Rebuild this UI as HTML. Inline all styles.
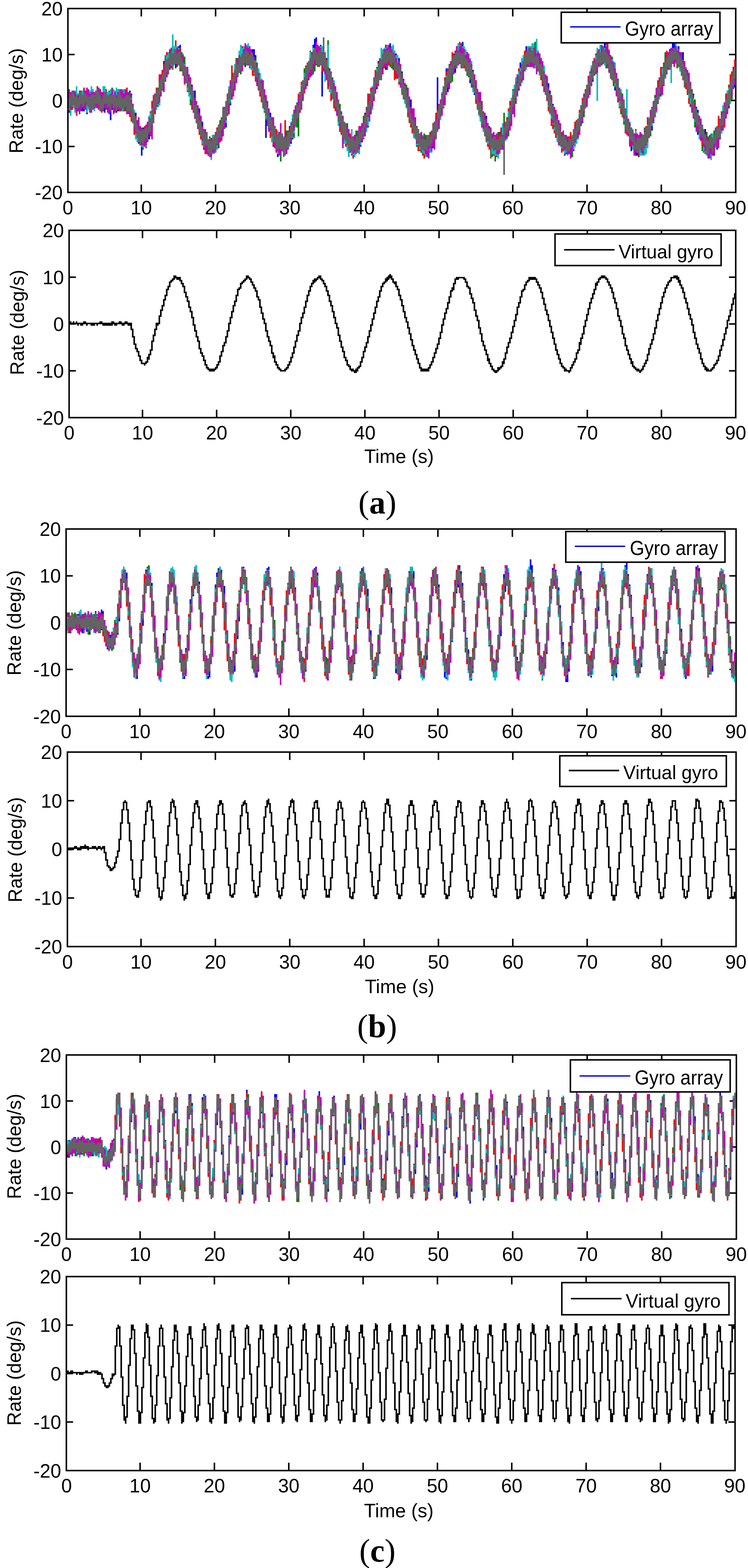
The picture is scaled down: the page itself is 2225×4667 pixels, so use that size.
<!DOCTYPE html><html><head><meta charset="utf-8"><title>Gyro array vs virtual gyro</title>
<style>html,body{margin:0;padding:0;background:#fff;overflow:hidden;}svg{display:block;}text{font-family:"Liberation Sans", Arial, Helvetica, sans-serif;font-size:57px;fill:#000;}.cap{font-family:"Liberation Serif", "Times New Roman", serif;font-size:97px;}.cap tspan{font-weight:bold;}</style></head><body>
<svg width="2225" height="4667" viewBox="0 0 2225 4667">
<rect width="2225" height="4667" fill="#fff"/>
<clipPath id="clipA1"><rect x="204.2" y="25.4" width="1988.3" height="547.3"/></clipPath>
<path d="M420.3 572.7V549.2M420.3 25.4V48.9M641.3 572.7V549.2M641.3 25.4V48.9M862.3 572.7V549.2M862.3 25.4V48.9M1083.3 572.7V549.2M1083.3 25.4V48.9M1304.2 572.7V549.2M1304.2 25.4V48.9M1525.2 572.7V549.2M1525.2 25.4V48.9M1746.2 572.7V549.2M1746.2 25.4V48.9M1967.2 572.7V549.2M1967.2 25.4V48.9M202.0 435.9H222.0M2188.5 435.9H2168.5M202.0 299.1H222.0M2188.5 299.1H2168.5M202.0 162.2H222.0M2188.5 162.2H2168.5" stroke="#000" stroke-width="4.5" fill="none"/>
<rect x="202.0" y="25.4" width="1986.5" height="547.3" fill="none" stroke="#000" stroke-width="4.5"/>
<g clip-path="url(#clipA1)" fill="none" stroke-linejoin="miter" stroke-linecap="square">
<path d="M201.5 322.4V282.8M205.9 335.6V274.0M210.3 322.4V282.8M214.7 326.8V282.8M219.1 318.0V278.4M223.5 331.2V278.4M227.9 331.2V287.2M232.3 331.2V287.2M236.7 335.6V278.4M241.1 318.0V274.0M245.5 331.2V274.0M249.9 331.2V291.6M254.3 326.8V291.6M258.7 340.0V282.8M263.1 318.0V282.8M267.5 322.4V274.0M271.9 326.8V274.0M276.3 318.0V278.4M280.7 326.8V278.4M285.1 318.0V274.0M289.5 318.0V287.2M293.9 313.6V274.0M298.3 309.2V265.2M302.7 331.2V278.4M307.1 322.4V278.4M311.5 335.6V282.8M315.9 322.4V274.0M320.3 313.6V278.4M324.7 322.4V274.0M329.1 357.6V304.8M333.5 326.8V269.6M337.9 322.4V278.4M342.3 331.2V296.0M346.7 335.6V274.0M351.1 331.2V282.8M355.5 331.2V282.8M359.9 326.8V278.4M364.3 331.2V287.2M368.7 322.4V287.2M373.1 331.2V296.0M377.5 322.4V291.6M381.9 326.8V278.4M386.3 304.8V269.6M390.7 335.6V278.4M395.1 353.2V309.2M399.5 379.6V331.2M403.9 392.8V335.6M408.3 401.6V366.4M412.7 428.0V375.2M417.1 432.4V384.0M421.5 463.2V401.6M425.9 432.4V379.6M430.3 436.8V392.8M434.7 423.6V392.8M439.1 419.2V370.8M443.5 414.8V357.6M447.9 388.4V348.8M452.3 384.0V322.4M456.7 348.8V304.8M461.1 340.0V291.6M465.5 318.0V274.0M469.9 313.6V269.6M474.3 313.6V243.2M478.7 265.2V230.0M483.1 269.6V212.4M487.5 247.6V181.6M491.9 243.2V194.8M496.3 221.2V168.4M500.7 212.4V159.6M505.1 208.0V159.6M509.5 203.6V146.4M513.9 190.4V142.0M518.3 190.4V146.4M522.7 203.6V150.8M527.1 194.8V146.4M531.5 177.2V137.6M535.9 194.8V133.2M540.3 199.2V155.2M544.7 208.0V168.4M549.1 230.0V186.0M553.5 243.2V199.2M557.9 247.6V208.0M562.3 274.0V234.4M566.7 300.4V243.2M571.1 304.8V252.0M575.5 331.2V287.2M579.9 335.6V269.6M584.3 366.4V313.6M588.7 379.6V335.6M593.1 384.0V322.4M597.5 406.0V362.0M601.9 419.2V362.0M606.3 445.6V388.4M610.7 436.8V392.8M615.1 436.8V406.0M619.5 463.2V414.8M623.9 458.8V414.8M628.3 445.6V410.4M632.7 441.2V401.6M637.1 445.6V406.0M641.5 445.6V397.2M645.9 436.8V379.6M650.3 441.2V388.4M654.7 414.8V375.2M659.1 414.8V353.2M663.5 384.0V335.6M667.9 375.2V326.8M672.3 379.6V309.2M676.7 344.4V287.2M681.1 326.8V269.6M685.5 313.6V260.8M689.9 282.8V230.0M694.3 274.0V230.0M698.7 247.6V208.0M703.1 230.0V172.8M707.5 216.8V181.6M711.9 216.8V168.4M716.3 203.6V168.4M720.7 208.0V159.6M725.1 190.4V150.8M729.5 199.2V146.4M733.9 181.6V137.6M738.3 181.6V146.4M742.7 194.8V159.6M747.1 186.0V150.8M751.5 194.8V146.4M755.9 194.8V146.4M760.3 221.2V164.0M764.7 234.4V190.4M769.1 265.2V208.0M773.5 278.4V225.6M777.9 282.8V234.4M782.3 304.8V260.8M786.7 318.0V278.4M791.1 410.4V296.0M795.5 357.6V313.6M799.9 375.2V331.2M804.3 388.4V335.6M808.7 401.6V366.4M813.1 436.8V362.0M817.5 432.4V388.4M821.9 432.4V392.8M826.3 467.6V401.6M830.7 458.8V419.2M835.1 454.4V410.4M839.5 445.6V406.0M843.9 441.2V406.0M848.3 450.0V406.0M852.7 454.4V392.8M857.1 428.0V388.4M861.5 423.6V375.2M865.9 428.0V384.0M870.3 414.8V362.0M874.7 397.2V335.6M879.1 375.2V326.8M883.5 370.8V318.0M887.9 340.0V300.4M892.3 318.0V278.4M896.7 304.8V252.0M901.1 287.2V243.2M905.5 274.0V212.4M909.9 247.6V208.0M914.3 247.6V199.2M918.7 221.2V181.6M923.1 212.4V164.0M927.5 199.2V155.2M931.9 194.8V133.2M936.3 194.8V115.6M940.7 164.0V111.2M945.1 186.0V137.6M949.5 186.0V146.4M953.9 181.6V133.2M958.3 287.2V137.6M962.7 199.2V155.2M967.1 225.6V168.4M971.5 208.0V172.8M975.9 234.4V199.2M980.3 252.0V203.6M984.7 274.0V216.8M989.1 291.6V252.0M993.5 296.0V269.6M997.9 326.8V282.8M1002.3 335.6V296.0M1006.7 344.4V296.0M1011.1 357.6V326.8M1015.5 379.6V335.6M1019.9 419.2V362.0M1024.3 414.8V379.6M1028.7 428.0V379.6M1033.1 436.8V392.8M1037.5 463.2V414.8M1041.9 454.4V414.8M1046.3 450.0V406.0M1050.7 467.6V410.4M1055.1 463.2V414.8M1059.5 445.6V406.0M1063.9 454.4V406.0M1068.3 458.8V406.0M1072.7 436.8V384.0M1077.1 423.6V370.8M1081.5 410.4V362.0M1085.9 388.4V335.6M1090.3 384.0V340.0M1094.7 379.6V313.6M1099.1 344.4V291.6M1103.5 318.0V269.6M1107.9 309.2V260.8M1112.3 300.4V252.0M1116.7 274.0V225.6M1121.1 265.2V212.4M1125.5 238.8V181.6M1129.9 234.4V181.6M1134.3 203.6V159.6M1138.7 208.0V164.0M1143.1 199.2V159.6M1147.5 208.0V168.4M1151.9 186.0V150.8M1156.3 177.2V142.0M1160.7 186.0V128.8M1165.1 186.0V146.4M1169.5 181.6V137.6M1173.9 208.0V150.8M1178.3 212.4V159.6M1182.7 230.0V172.8M1187.1 230.0V172.8M1191.5 243.2V194.8M1195.9 274.0V212.4M1200.3 282.8V234.4M1204.7 291.6V247.6M1209.1 309.2V260.8M1213.5 331.2V282.8M1217.9 357.6V304.8M1222.3 366.4V296.0M1226.7 392.8V348.8M1231.1 410.4V357.6M1235.5 410.4V375.2M1239.9 436.8V375.2M1244.3 436.8V397.2M1248.7 441.2V406.0M1253.1 454.4V401.6M1257.5 454.4V406.0M1261.9 450.0V419.2M1266.3 463.2V419.2M1270.7 463.2V419.2M1275.1 450.0V410.4M1279.5 441.2V406.0M1283.9 441.2V401.6M1288.3 441.2V375.2M1292.7 419.2V384.0M1297.1 410.4V348.8M1301.5 392.8V230.0M1305.9 366.4V331.2M1310.3 348.8V296.0M1314.7 340.0V291.6M1319.1 322.4V269.6M1323.5 300.4V252.0M1327.9 278.4V203.6M1332.3 274.0V208.0M1336.7 247.6V203.6M1341.1 234.4V190.4M1345.5 208.0V164.0M1349.9 208.0V159.6M1354.3 216.8V164.0M1358.7 194.8V146.4M1363.1 177.2V137.6M1367.5 168.4V128.8M1371.9 177.2V128.8M1376.3 190.4V124.4M1380.7 190.4V150.8M1385.1 194.8V150.8M1389.5 203.6V155.2M1393.9 212.4V172.8M1398.3 247.6V194.8M1402.7 234.4V190.4M1407.1 265.2V208.0M1411.5 282.8V238.8M1415.9 304.8V256.4M1420.3 304.8V265.2M1424.7 326.8V274.0M1429.1 348.8V304.8M1433.5 366.4V318.0M1437.9 370.8V335.6M1442.3 384.0V344.4M1446.7 392.8V344.4M1451.1 428.0V366.4M1455.5 428.0V375.2M1459.9 441.2V406.0M1464.3 454.4V397.2M1468.7 450.0V410.4M1473.1 450.0V410.4M1477.5 450.0V414.8M1481.9 463.2V410.4M1486.3 450.0V392.8M1490.7 441.2V406.0M1495.1 445.6V392.8M1499.5 432.4V388.4M1503.9 419.2V362.0M1508.3 401.6V362.0M1512.7 388.4V340.0M1517.1 366.4V322.4M1521.5 348.8V304.8M1525.9 331.2V278.4M1530.3 309.2V274.0M1534.7 296.0V238.8M1539.1 274.0V234.4M1543.5 269.6V230.0M1547.9 256.4V186.0M1552.3 234.4V181.6M1556.7 216.8V177.2M1561.1 203.6V155.2M1565.5 194.8V137.6M1569.9 186.0V146.4M1574.3 186.0V137.6M1578.7 199.2V142.0M1583.1 190.4V146.4M1587.5 177.2V137.6M1591.9 172.8V142.0M1596.3 194.8V155.2M1600.7 212.4V168.4M1605.1 216.8V159.6M1609.5 221.2V172.8M1613.9 256.4V190.4M1618.3 256.4V212.4M1622.7 265.2V225.6M1627.1 291.6V234.4M1631.5 309.2V247.6M1635.9 326.8V269.6M1640.3 340.0V304.8M1644.7 357.6V309.2M1649.1 388.4V326.8M1653.5 392.8V344.4M1657.9 401.6V362.0M1662.3 428.0V379.6M1666.7 432.4V388.4M1671.1 436.8V401.6M1675.5 436.8V397.2M1679.9 463.2V401.6M1684.3 458.8V410.4M1688.7 458.8V406.0M1693.1 454.4V428.0M1697.5 463.2V423.6M1701.9 467.6V410.4M1706.3 450.0V397.2M1710.7 432.4V384.0M1715.1 414.8V362.0M1719.5 410.4V362.0M1723.9 388.4V344.4M1728.3 370.8V318.0M1732.7 366.4V313.6M1737.1 331.2V282.8M1741.5 322.4V274.0M1745.9 296.0V260.8M1750.3 282.8V238.8M1754.7 274.0V221.2M1759.1 256.4V203.6M1763.5 243.2V190.4M1767.9 216.8V172.8M1772.3 208.0V172.8M1776.7 203.6V159.6M1781.1 194.8V155.2M1785.5 194.8V155.2M1789.9 186.0V133.2M1794.3 186.0V137.6M1798.7 186.0V128.8M1803.1 190.4V142.0M1807.5 186.0V150.8M1811.9 203.6V164.0M1816.3 208.0V172.8M1820.7 230.0V190.4M1825.1 234.4V190.4M1829.5 269.6V203.6M1833.9 282.8V238.8M1838.3 278.4V234.4M1842.7 313.6V265.2M1847.1 318.0V274.0M1851.5 340.0V300.4M1855.9 362.0V326.8M1860.3 379.6V331.2M1864.7 392.8V353.2M1869.1 406.0V362.0M1873.5 414.8V366.4M1877.9 450.0V384.0M1882.3 445.6V388.4M1886.7 445.6V410.4M1891.1 463.2V406.0M1895.5 463.2V410.4M1899.9 467.6V419.2M1904.3 458.8V419.2M1908.7 463.2V410.4M1913.1 458.8V419.2M1917.5 458.8V401.6M1921.9 432.4V397.2M1926.3 419.2V375.2M1930.7 406.0V353.2M1935.1 384.0V344.4M1939.5 388.4V344.4M1943.9 366.4V322.4M1948.3 344.4V287.2M1952.7 326.8V274.0M1957.1 309.2V260.8M1961.5 296.0V243.2M1965.9 274.0V234.4M1970.3 265.2V216.8M1974.7 252.0V186.0M1979.1 234.4V159.6M1983.5 212.4V164.0M1987.9 199.2V159.6M1992.3 190.4V146.4M1996.7 181.6V142.0M2001.1 172.8V128.8M2005.5 181.6V128.8M2009.9 177.2V120.0M2014.3 177.2V142.0M2018.7 186.0V137.6M2023.1 208.0V155.2M2027.5 208.0V168.4M2031.9 225.6V155.2M2036.3 252.0V190.4M2040.7 252.0V208.0M2045.1 265.2V221.2M2049.5 282.8V243.2M2053.9 318.0V256.4M2058.3 309.2V274.0M2062.7 335.6V278.4M2067.1 348.8V300.4M2071.5 375.2V318.0M2075.9 401.6V326.8M2080.3 397.2V357.6M2084.7 406.0V353.2M2089.1 436.8V384.0M2093.5 423.6V384.0M2097.9 445.6V384.0M2102.3 450.0V406.0M2106.7 454.4V410.4M2111.1 454.4V410.4M2115.5 458.8V410.4M2119.9 463.2V423.6M2124.3 463.2V410.4M2128.7 441.2V406.0M2133.1 445.6V379.6M2137.5 410.4V379.6M2141.9 414.8V370.8M2146.3 397.2V344.4M2150.7 388.4V335.6M2155.1 370.8V318.0M2159.5 348.8V300.4M2163.9 326.8V278.4M2168.3 322.4V256.4M2172.7 291.6V238.8M2177.1 269.6V225.6M2181.5 265.2V199.2M2185.9 260.8V194.8" stroke="#0000ff" stroke-width="4.70" stroke-linecap="butt"/>
<path d="M201.5 322.4V260.8M205.9 309.2V265.2M210.3 326.8V274.0M214.7 326.8V282.8M219.1 313.6V278.4M223.5 331.2V282.8M227.9 331.2V282.8M232.3 318.0V278.4M236.7 340.0V282.8M241.1 322.4V274.0M245.5 313.6V282.8M249.9 313.6V265.2M254.3 322.4V291.6M258.7 326.8V278.4M263.1 322.4V278.4M267.5 309.2V278.4M271.9 326.8V278.4M276.3 313.6V278.4M280.7 309.2V282.8M285.1 318.0V278.4M289.5 318.0V269.6M293.9 322.4V287.2M298.3 318.0V278.4M302.7 322.4V282.8M307.1 326.8V278.4M311.5 322.4V265.2M315.9 326.8V274.0M320.3 322.4V274.0M324.7 326.8V269.6M329.1 322.4V274.0M333.5 322.4V260.8M337.9 309.2V274.0M342.3 313.6V278.4M346.7 318.0V269.6M351.1 322.4V274.0M355.5 318.0V278.4M359.9 313.6V278.4M364.3 331.2V287.2M368.7 331.2V291.6M373.1 331.2V265.2M377.5 326.8V274.0M381.9 313.6V274.0M386.3 318.0V278.4M390.7 344.4V282.8M395.1 366.4V309.2M399.5 384.0V340.0M403.9 388.4V344.4M408.3 401.6V357.6M412.7 414.8V366.4M417.1 423.6V375.2M421.5 428.0V379.6M425.9 445.6V384.0M430.3 423.6V375.2M434.7 441.2V379.6M439.1 423.6V366.4M443.5 392.8V357.6M447.9 388.4V331.2M452.3 375.2V322.4M456.7 353.2V296.0M461.1 318.0V278.4M465.5 318.0V274.0M469.9 318.0V260.8M474.3 287.2V230.0M478.7 287.2V243.2M483.1 265.2V208.0M487.5 252.0V212.4M491.9 243.2V194.8M496.3 230.0V181.6M500.7 208.0V164.0M505.1 208.0V164.0M509.5 203.6V159.6M513.9 199.2V159.6M518.3 177.2V142.0M522.7 190.4V146.4M527.1 199.2V146.4M531.5 190.4V142.0M535.9 212.4V146.4M540.3 212.4V155.2M544.7 221.2V168.4M549.1 230.0V168.4M553.5 243.2V199.2M557.9 256.4V212.4M562.3 278.4V230.0M566.7 313.6V247.6M571.1 313.6V269.6M575.5 331.2V282.8M579.9 344.4V296.0M584.3 366.4V318.0M588.7 370.8V322.4M593.1 392.8V357.6M597.5 410.4V344.4M601.9 428.0V379.6M606.3 428.0V406.0M610.7 436.8V392.8M615.1 445.6V392.8M619.5 463.2V423.6M623.9 445.6V406.0M628.3 450.0V410.4M632.7 454.4V410.4M637.1 445.6V406.0M641.5 454.4V392.8M645.9 441.2V392.8M650.3 436.8V384.0M654.7 406.0V357.6M659.1 397.2V348.8M663.5 397.2V340.0M667.9 384.0V326.8M672.3 357.6V313.6M676.7 331.2V282.8M681.1 313.6V274.0M685.5 309.2V260.8M689.9 296.0V234.4M694.3 269.6V216.8M698.7 247.6V208.0M703.1 230.0V172.8M707.5 212.4V172.8M711.9 208.0V164.0M716.3 221.2V172.8M720.7 199.2V146.4M725.1 194.8V164.0M729.5 194.8V146.4M733.9 194.8V155.2M738.3 186.0V137.6M742.7 181.6V142.0M747.1 199.2V155.2M751.5 203.6V168.4M755.9 221.2V177.2M760.3 234.4V177.2M764.7 238.8V186.0M769.1 256.4V216.8M773.5 274.0V225.6M777.9 291.6V234.4M782.3 304.8V256.4M786.7 335.6V274.0M791.1 357.6V309.2M795.5 353.2V300.4M799.9 384.0V340.0M804.3 392.8V353.2M808.7 419.2V357.6M813.1 419.2V366.4M817.5 428.0V375.2M821.9 436.8V392.8M826.3 454.4V410.4M830.7 458.8V406.0M835.1 480.8V397.2M839.5 450.0V401.6M843.9 454.4V410.4M848.3 450.0V388.4M852.7 436.8V388.4M857.1 432.4V388.4M861.5 419.2V379.6M865.9 419.2V379.6M870.3 397.2V353.2M874.7 410.4V340.0M879.1 375.2V318.0M883.5 379.6V304.8M887.9 406.0V296.0M892.3 335.6V274.0M896.7 322.4V260.8M901.1 300.4V238.8M905.5 274.0V203.6M909.9 243.2V199.2M914.3 256.4V194.8M918.7 238.8V194.8M923.1 216.8V164.0M927.5 225.6V164.0M931.9 208.0V164.0M936.3 212.4V155.2M940.7 194.8V128.8M945.1 199.2V146.4M949.5 177.2V142.0M953.9 177.2V137.6M958.3 190.4V150.8M962.7 212.4V168.4M967.1 216.8V172.8M971.5 234.4V186.0M975.9 238.8V120.0M980.3 256.4V208.0M984.7 278.4V234.4M989.1 287.2V230.0M993.5 291.6V252.0M997.9 318.0V269.6M1002.3 335.6V282.8M1006.7 344.4V304.8M1011.1 370.8V309.2M1015.5 375.2V331.2M1019.9 397.2V348.8M1024.3 414.8V370.8M1028.7 414.8V370.8M1033.1 423.6V366.4M1037.5 450.0V397.2M1041.9 445.6V410.4M1046.3 454.4V414.8M1050.7 445.6V410.4M1055.1 450.0V401.6M1059.5 445.6V388.4M1063.9 445.6V397.2M1068.3 428.0V388.4M1072.7 414.8V379.6M1077.1 419.2V370.8M1081.5 392.8V344.4M1085.9 397.2V348.8M1090.3 379.6V318.0M1094.7 353.2V300.4M1099.1 344.4V296.0M1103.5 340.0V287.2M1107.9 318.0V269.6M1112.3 296.0V247.6M1116.7 265.2V225.6M1121.1 247.6V199.2M1125.5 234.4V199.2M1129.9 230.0V172.8M1134.3 230.0V177.2M1138.7 221.2V168.4M1143.1 203.6V159.6M1147.5 199.2V164.0M1151.9 190.4V142.0M1156.3 190.4V137.6M1160.7 199.2V146.4M1165.1 203.6V159.6M1169.5 208.0V150.8M1173.9 221.2V168.4M1178.3 216.8V172.8M1182.7 234.4V190.4M1187.1 247.6V190.4M1191.5 256.4V212.4M1195.9 269.6V216.8M1200.3 296.0V247.6M1204.7 300.4V252.0M1209.1 309.2V252.0M1213.5 340.0V296.0M1217.9 362.0V304.8M1222.3 379.6V335.6M1226.7 392.8V340.0M1231.1 401.6V353.2M1235.5 414.8V370.8M1239.9 436.8V375.2M1244.3 450.0V384.0M1248.7 450.0V410.4M1253.1 454.4V392.8M1257.5 454.4V410.4M1261.9 450.0V397.2M1266.3 467.6V401.6M1270.7 467.6V406.0M1275.1 450.0V410.4M1279.5 441.2V392.8M1283.9 423.6V397.2M1288.3 423.6V375.2M1292.7 406.0V362.0M1297.1 384.0V348.8M1301.5 384.0V335.6M1305.9 362.0V322.4M1310.3 353.2V300.4M1314.7 331.2V287.2M1319.1 322.4V265.2M1323.5 278.4V234.4M1327.9 269.6V212.4M1332.3 256.4V203.6M1336.7 252.0V190.4M1341.1 247.6V194.8M1345.5 243.2V177.2M1349.9 212.4V168.4M1354.3 186.0V150.8M1358.7 194.8V150.8M1363.1 190.4V150.8M1367.5 177.2V146.4M1371.9 181.6V150.8M1376.3 186.0V137.6M1380.7 181.6V142.0M1385.1 199.2V150.8M1389.5 225.6V168.4M1393.9 230.0V181.6M1398.3 238.8V194.8M1402.7 260.8V208.0M1407.1 260.8V221.2M1411.5 278.4V221.2M1415.9 291.6V252.0M1420.3 322.4V265.2M1424.7 326.8V274.0M1429.1 353.2V304.8M1433.5 357.6V300.4M1437.9 375.2V331.2M1442.3 406.0V348.8M1446.7 414.8V375.2M1451.1 423.6V388.4M1455.5 436.8V392.8M1459.9 450.0V397.2M1464.3 467.6V410.4M1468.7 463.2V401.6M1473.1 480.8V419.2M1477.5 467.6V419.2M1481.9 445.6V392.8M1486.3 441.2V397.2M1490.7 445.6V388.4M1495.1 441.2V401.6M1499.5 432.4V335.6M1503.9 410.4V366.4M1508.3 392.8V348.8M1512.7 406.0V344.4M1517.1 362.0V313.6M1521.5 348.8V291.6M1525.9 326.8V278.4M1530.3 318.0V274.0M1534.7 309.2V238.8M1539.1 274.0V234.4M1543.5 260.8V225.6M1547.9 256.4V208.0M1552.3 234.4V186.0M1556.7 230.0V190.4M1561.1 199.2V159.6M1565.5 194.8V150.8M1569.9 190.4V146.4M1574.3 194.8V142.0M1578.7 172.8V142.0M1583.1 186.0V142.0M1587.5 186.0V150.8M1591.9 190.4V124.4M1596.3 186.0V146.4M1600.7 212.4V164.0M1605.1 216.8V164.0M1609.5 238.8V172.8M1613.9 238.8V190.4M1618.3 256.4V203.6M1622.7 274.0V225.6M1627.1 287.2V238.8M1631.5 322.4V269.6M1635.9 340.0V287.2M1640.3 335.6V296.0M1644.7 379.6V318.0M1649.1 388.4V331.2M1653.5 388.4V335.6M1657.9 414.8V366.4M1662.3 410.4V375.2M1666.7 423.6V375.2M1671.1 441.2V392.8M1675.5 450.0V401.6M1679.9 445.6V406.0M1684.3 450.0V401.6M1688.7 450.0V419.2M1693.1 458.8V406.0M1697.5 463.2V406.0M1701.9 467.6V406.0M1706.3 450.0V392.8M1710.7 432.4V375.2M1715.1 401.6V357.6M1719.5 397.2V362.0M1723.9 384.0V348.8M1728.3 375.2V318.0M1732.7 348.8V313.6M1737.1 348.8V300.4M1741.5 309.2V274.0M1745.9 300.4V252.0M1750.3 291.6V238.8M1754.7 274.0V212.4M1759.1 238.8V203.6M1763.5 234.4V186.0M1767.9 225.6V186.0M1772.3 208.0V159.6M1776.7 194.8V150.8M1781.1 190.4V146.4M1785.5 177.2V142.0M1789.9 194.8V146.4M1794.3 190.4V159.6M1798.7 190.4V150.8M1803.1 203.6V159.6M1807.5 199.2V146.4M1811.9 212.4V155.2M1816.3 221.2V172.8M1820.7 238.8V168.4M1825.1 256.4V212.4M1829.5 260.8V212.4M1833.9 260.8V230.0M1838.3 304.8V234.4M1842.7 313.6V269.6M1847.1 340.0V282.8M1851.5 348.8V278.4M1855.9 370.8V313.6M1860.3 384.0V331.2M1864.7 388.4V344.4M1869.1 406.0V357.6M1873.5 428.0V384.0M1877.9 432.4V388.4M1882.3 441.2V401.6M1886.7 436.8V401.6M1891.1 454.4V406.0M1895.5 454.4V410.4M1899.9 450.0V410.4M1904.3 454.4V401.6M1908.7 450.0V397.2M1913.1 441.2V406.0M1917.5 441.2V379.6M1921.9 423.6V384.0M1926.3 432.4V370.8M1930.7 406.0V370.8M1935.1 406.0V353.2M1939.5 375.2V322.4M1943.9 366.4V309.2M1948.3 335.6V282.8M1952.7 322.4V265.2M1957.1 309.2V269.6M1961.5 291.6V238.8M1965.9 287.2V230.0M1970.3 256.4V208.0M1974.7 234.4V186.0M1979.1 212.4V155.2M1983.5 221.2V172.8M1987.9 199.2V164.0M1992.3 208.0V150.8M1996.7 194.8V150.8M2001.1 181.6V146.4M2005.5 181.6V142.0M2009.9 177.2V150.8M2014.3 203.6V155.2M2018.7 199.2V155.2M2023.1 212.4V168.4M2027.5 216.8V155.2M2031.9 225.6V177.2M2036.3 243.2V194.8M2040.7 265.2V203.6M2045.1 282.8V230.0M2049.5 304.8V252.0M2053.9 304.8V260.8M2058.3 304.8V265.2M2062.7 344.4V282.8M2067.1 379.6V296.0M2071.5 384.0V326.8M2075.9 392.8V335.6M2080.3 401.6V348.8M2084.7 414.8V379.6M2089.1 450.0V384.0M2093.5 441.2V397.2M2097.9 450.0V401.6M2102.3 454.4V392.8M2106.7 458.8V406.0M2111.1 445.6V401.6M2115.5 454.4V414.8M2119.9 458.8V419.2M2124.3 445.6V388.4M2128.7 436.8V401.6M2133.1 441.2V384.0M2137.5 428.0V375.2M2141.9 414.8V357.6M2146.3 388.4V331.2M2150.7 370.8V318.0M2155.1 348.8V304.8M2159.5 340.0V300.4M2163.9 331.2V269.6M2168.3 309.2V260.8M2172.7 287.2V243.2M2177.1 296.0V212.4M2181.5 260.8V208.0M2185.9 243.2V199.2" stroke="#008000" stroke-width="4.70" stroke-linecap="butt"/>
<path d="M201.5 326.8V282.8M205.9 331.2V278.4M210.3 318.0V274.0M214.7 326.8V287.2M219.1 309.2V274.0M223.5 322.4V282.8M227.9 344.4V274.0M232.3 331.2V300.4M236.7 331.2V269.6M241.1 318.0V269.6M245.5 318.0V274.0M249.9 326.8V260.8M254.3 313.6V278.4M258.7 318.0V282.8M263.1 304.8V278.4M267.5 318.0V278.4M271.9 322.4V269.6M276.3 313.6V265.2M280.7 318.0V274.0M285.1 313.6V282.8M289.5 304.8V256.4M293.9 326.8V274.0M298.3 331.2V278.4M302.7 335.6V274.0M307.1 313.6V278.4M311.5 318.0V269.6M315.9 322.4V278.4M320.3 318.0V287.2M324.7 313.6V274.0M329.1 318.0V274.0M333.5 309.2V265.2M337.9 322.4V278.4M342.3 309.2V274.0M346.7 318.0V269.6M351.1 318.0V278.4M355.5 331.2V287.2M359.9 331.2V269.6M364.3 326.8V274.0M368.7 331.2V287.2M373.1 318.0V269.6M377.5 309.2V260.8M381.9 326.8V282.8M386.3 348.8V291.6M390.7 362.0V313.6M395.1 362.0V309.2M399.5 401.6V348.8M403.9 401.6V344.4M408.3 401.6V366.4M412.7 419.2V370.8M417.1 432.4V406.0M421.5 423.6V388.4M425.9 428.0V392.8M430.3 419.2V375.2M434.7 423.6V379.6M439.1 410.4V366.4M443.5 392.8V353.2M447.9 379.6V331.2M452.3 357.6V300.4M456.7 357.6V282.8M461.1 340.0V278.4M465.5 326.8V260.8M469.9 309.2V265.2M474.3 287.2V221.2M478.7 278.4V221.2M483.1 260.8V208.0M487.5 230.0V190.4M491.9 238.8V172.8M496.3 203.6V155.2M500.7 203.6V155.2M505.1 208.0V146.4M509.5 194.8V146.4M513.9 186.0V137.6M518.3 181.6V142.0M522.7 181.6V120.0M527.1 194.8V146.4M531.5 186.0V150.8M535.9 208.0V142.0M540.3 208.0V159.6M544.7 225.6V186.0M549.1 252.0V194.8M553.5 247.6V212.4M557.9 274.0V221.2M562.3 287.2V243.2M566.7 296.0V247.6M571.1 326.8V274.0M575.5 335.6V296.0M579.9 353.2V313.6M584.3 366.4V322.4M588.7 384.0V335.6M593.1 401.6V348.8M597.5 414.8V353.2M601.9 432.4V375.2M606.3 441.2V388.4M610.7 458.8V410.4M615.1 458.8V410.4M619.5 463.2V414.8M623.9 458.8V406.0M628.3 472.0V414.8M632.7 458.8V410.4M637.1 454.4V414.8M641.5 454.4V392.8M645.9 423.6V379.6M650.3 423.6V379.6M654.7 423.6V366.4M659.1 397.2V357.6M663.5 384.0V335.6M667.9 375.2V322.4M672.3 344.4V309.2M676.7 344.4V278.4M681.1 313.6V278.4M685.5 296.0V238.8M689.9 260.8V194.8M694.3 252.0V230.0M698.7 256.4V190.4M703.1 243.2V181.6M707.5 216.8V172.8M711.9 212.4V168.4M716.3 203.6V146.4M720.7 186.0V137.6M725.1 186.0V150.8M729.5 186.0V137.6M733.9 181.6V137.6M738.3 186.0V142.0M742.7 194.8V146.4M747.1 194.8V146.4M751.5 225.6V172.8M755.9 225.6V181.6M760.3 243.2V199.2M764.7 243.2V194.8M769.1 269.6V221.2M773.5 287.2V234.4M777.9 304.8V247.6M782.3 313.6V260.8M786.7 322.4V282.8M791.1 353.2V300.4M795.5 375.2V322.4M799.9 388.4V344.4M804.3 410.4V348.8M808.7 410.4V384.0M813.1 432.4V384.0M817.5 441.2V397.2M821.9 454.4V384.0M826.3 432.4V392.8M830.7 454.4V392.8M835.1 445.6V410.4M839.5 445.6V397.2M843.9 445.6V414.8M848.3 445.6V357.6M852.7 432.4V401.6M857.1 432.4V392.8M861.5 428.0V379.6M865.9 419.2V379.6M870.3 401.6V348.8M874.7 375.2V340.0M879.1 366.4V318.0M883.5 348.8V313.6M887.9 335.6V278.4M892.3 309.2V274.0M896.7 304.8V243.2M901.1 291.6V252.0M905.5 278.4V216.8M909.9 238.8V194.8M914.3 238.8V199.2M918.7 234.4V190.4M923.1 230.0V150.8M927.5 194.8V155.2M931.9 203.6V159.6M936.3 194.8V155.2M940.7 190.4V146.4M945.1 181.6V150.8M949.5 199.2V142.0M953.9 186.0V137.6M958.3 212.4V150.8M962.7 203.6V150.8M967.1 221.2V181.6M971.5 238.8V177.2M975.9 265.2V212.4M980.3 274.0V225.6M984.7 300.4V234.4M989.1 291.6V243.2M993.5 322.4V269.6M997.9 331.2V291.6M1002.3 344.4V304.8M1006.7 353.2V304.8M1011.1 392.8V331.2M1015.5 401.6V353.2M1019.9 410.4V375.2M1024.3 419.2V379.6M1028.7 436.8V397.2M1033.1 441.2V392.8M1037.5 436.8V401.6M1041.9 450.0V397.2M1046.3 463.2V419.2M1050.7 472.0V419.2M1055.1 454.4V401.6M1059.5 454.4V406.0M1063.9 454.4V401.6M1068.3 428.0V375.2M1072.7 423.6V379.6M1077.1 414.8V366.4M1081.5 414.8V370.8M1085.9 388.4V340.0M1090.3 366.4V326.8M1094.7 353.2V278.4M1099.1 326.8V291.6M1103.5 318.0V260.8M1107.9 300.4V256.4M1112.3 300.4V243.2M1116.7 278.4V208.0M1121.1 247.6V203.6M1125.5 238.8V186.0M1129.9 230.0V181.6M1134.3 225.6V172.8M1138.7 199.2V159.6M1143.1 199.2V155.2M1147.5 181.6V133.2M1151.9 181.6V133.2M1156.3 194.8V142.0M1160.7 181.6V142.0M1165.1 186.0V155.2M1169.5 194.8V150.8M1173.9 238.8V168.4M1178.3 234.4V168.4M1182.7 234.4V194.8M1187.1 252.0V208.0M1191.5 256.4V208.0M1195.9 265.2V225.6M1200.3 291.6V238.8M1204.7 304.8V260.8M1209.1 318.0V265.2M1213.5 348.8V287.2M1217.9 366.4V304.8M1222.3 379.6V322.4M1226.7 397.2V353.2M1231.1 406.0V366.4M1235.5 414.8V370.8M1239.9 428.0V388.4M1244.3 450.0V392.8M1248.7 445.6V397.2M1253.1 450.0V410.4M1257.5 463.2V414.8M1261.9 472.0V428.0M1266.3 458.8V419.2M1270.7 450.0V406.0M1275.1 450.0V410.4M1279.5 428.0V397.2M1283.9 436.8V397.2M1288.3 428.0V366.4M1292.7 419.2V362.0M1297.1 392.8V335.6M1301.5 366.4V326.8M1305.9 357.6V309.2M1310.3 335.6V300.4M1314.7 340.0V282.8M1319.1 322.4V265.2M1323.5 300.4V230.0M1327.9 269.6V212.4M1332.3 247.6V203.6M1336.7 243.2V194.8M1341.1 230.0V186.0M1345.5 212.4V155.2M1349.9 203.6V168.4M1354.3 186.0V150.8M1358.7 177.2V137.6M1363.1 181.6V133.2M1367.5 168.4V124.4M1371.9 186.0V128.8M1376.3 190.4V142.0M1380.7 203.6V146.4M1385.1 203.6V155.2M1389.5 221.2V164.0M1393.9 225.6V181.6M1398.3 230.0V190.4M1402.7 247.6V194.8M1407.1 260.8V221.2M1411.5 278.4V243.2M1415.9 309.2V238.8M1420.3 309.2V265.2M1424.7 344.4V300.4M1429.1 353.2V304.8M1433.5 379.6V309.2M1437.9 384.0V335.6M1442.3 406.0V357.6M1446.7 414.8V362.0M1451.1 436.8V401.6M1455.5 445.6V397.2M1459.9 450.0V410.4M1464.3 445.6V406.0M1468.7 463.2V406.0M1473.1 467.6V414.8M1477.5 450.0V406.0M1481.9 450.0V406.0M1486.3 445.6V401.6M1490.7 445.6V379.6M1495.1 432.4V388.4M1499.5 419.2V366.4M1503.9 414.8V366.4M1508.3 401.6V348.8M1512.7 366.4V322.4M1517.1 357.6V300.4M1521.5 344.4V296.0M1525.9 322.4V265.2M1530.3 300.4V252.0M1534.7 282.8V234.4M1539.1 265.2V221.2M1543.5 252.0V203.6M1547.9 238.8V199.2M1552.3 238.8V190.4M1556.7 230.0V181.6M1561.1 190.4V150.8M1565.5 199.2V150.8M1569.9 194.8V155.2M1574.3 199.2V146.4M1578.7 199.2V137.6M1583.1 194.8V137.6M1587.5 186.0V146.4M1591.9 194.8V142.0M1596.3 194.8V159.6M1600.7 208.0V150.8M1605.1 221.2V181.6M1609.5 234.4V186.0M1613.9 252.0V194.8M1618.3 260.8V212.4M1622.7 278.4V225.6M1627.1 300.4V256.4M1631.5 331.2V269.6M1635.9 335.6V291.6M1640.3 375.2V282.8M1644.7 384.0V331.2M1649.1 397.2V340.0M1653.5 410.4V344.4M1657.9 419.2V366.4M1662.3 428.0V370.8M1666.7 419.2V379.6M1671.1 454.4V397.2M1675.5 450.0V406.0M1679.9 450.0V414.8M1684.3 454.4V414.8M1688.7 458.8V406.0M1693.1 445.6V406.0M1697.5 445.6V392.8M1701.9 436.8V401.6M1706.3 436.8V384.0M1710.7 423.6V362.0M1715.1 410.4V357.6M1719.5 397.2V353.2M1723.9 375.2V326.8M1728.3 353.2V313.6M1732.7 353.2V291.6M1737.1 335.6V287.2M1741.5 322.4V265.2M1745.9 309.2V256.4M1750.3 291.6V225.6M1754.7 260.8V216.8M1759.1 252.0V208.0M1763.5 234.4V186.0M1767.9 221.2V172.8M1772.3 199.2V164.0M1776.7 208.0V159.6M1781.1 190.4V150.8M1785.5 190.4V137.6M1789.9 186.0V137.6M1794.3 177.2V146.4M1798.7 181.6V146.4M1803.1 181.6V128.8M1807.5 194.8V120.0M1811.9 203.6V177.2M1816.3 212.4V164.0M1820.7 225.6V177.2M1825.1 247.6V203.6M1829.5 252.0V221.2M1833.9 269.6V234.4M1838.3 304.8V247.6M1842.7 322.4V265.2M1847.1 331.2V282.8M1851.5 348.8V304.8M1855.9 353.2V309.2M1860.3 397.2V331.2M1864.7 401.6V370.8M1869.1 406.0V370.8M1873.5 436.8V388.4M1877.9 436.8V388.4M1882.3 445.6V397.2M1886.7 454.4V397.2M1891.1 441.2V384.0M1895.5 454.4V406.0M1899.9 463.2V406.0M1904.3 450.0V410.4M1908.7 445.6V406.0M1913.1 445.6V401.6M1917.5 428.0V388.4M1921.9 436.8V375.2M1926.3 406.0V348.8M1930.7 401.6V362.0M1935.1 392.8V344.4M1939.5 370.8V318.0M1943.9 348.8V304.8M1948.3 344.4V287.2M1952.7 300.4V265.2M1957.1 296.0V238.8M1961.5 282.8V234.4M1965.9 247.6V199.2M1970.3 247.6V199.2M1974.7 238.8V199.2M1979.1 230.0V177.2M1983.5 203.6V150.8M1987.9 194.8V164.0M1992.3 194.8V155.2M1996.7 186.0V150.8M2001.1 181.6V146.4M2005.5 177.2V146.4M2009.9 172.8V133.2M2014.3 194.8V146.4M2018.7 181.6V155.2M2023.1 212.4V168.4M2027.5 225.6V186.0M2031.9 238.8V194.8M2036.3 247.6V203.6M2040.7 265.2V225.6M2045.1 282.8V238.8M2049.5 309.2V243.2M2053.9 313.6V260.8M2058.3 331.2V274.0M2062.7 344.4V296.0M2067.1 362.0V309.2M2071.5 384.0V335.6M2075.9 388.4V348.8M2080.3 401.6V348.8M2084.7 419.2V388.4M2089.1 432.4V379.6M2093.5 454.4V397.2M2097.9 458.8V406.0M2102.3 458.8V419.2M2106.7 458.8V414.8M2111.1 450.0V414.8M2115.5 467.6V419.2M2119.9 454.4V423.6M2124.3 458.8V401.6M2128.7 436.8V384.0M2133.1 423.6V388.4M2137.5 423.6V344.4M2141.9 397.2V357.6M2146.3 384.0V348.8M2150.7 375.2V326.8M2155.1 379.6V309.2M2159.5 348.8V278.4M2163.9 304.8V274.0M2168.3 304.8V252.0M2172.7 269.6V221.2M2177.1 247.6V216.8M2181.5 247.6V203.6M2185.9 221.2V177.2" stroke="#ff0000" stroke-width="4.70" stroke-linecap="butt"/>
<path d="M201.5 331.2V287.2M205.9 326.8V282.8M210.3 344.4V282.8M214.7 318.0V278.4M219.1 322.4V278.4M223.5 335.6V269.6M227.9 318.0V256.4M232.3 313.6V278.4M236.7 318.0V269.6M241.1 313.6V278.4M245.5 318.0V269.6M249.9 322.4V278.4M254.3 313.6V282.8M258.7 335.6V287.2M263.1 326.8V287.2M267.5 322.4V269.6M271.9 300.4V256.4M276.3 318.0V265.2M280.7 331.2V282.8M285.1 322.4V282.8M289.5 318.0V274.0M293.9 322.4V269.6M298.3 318.0V274.0M302.7 322.4V278.4M307.1 309.2V256.4M311.5 309.2V256.4M315.9 322.4V274.0M320.3 318.0V274.0M324.7 322.4V274.0M329.1 331.2V265.2M333.5 318.0V274.0M337.9 309.2V265.2M342.3 326.8V269.6M346.7 309.2V260.8M351.1 322.4V265.2M355.5 313.6V274.0M359.9 326.8V274.0M364.3 331.2V265.2M368.7 296.0V265.2M373.1 309.2V265.2M377.5 318.0V274.0M381.9 318.0V282.8M386.3 318.0V274.0M390.7 331.2V291.6M395.1 357.6V309.2M399.5 375.2V326.8M403.9 414.8V353.2M408.3 423.6V379.6M412.7 419.2V384.0M417.1 432.4V384.0M421.5 436.8V410.4M425.9 441.2V384.0M430.3 436.8V392.8M434.7 436.8V375.2M439.1 401.6V366.4M443.5 392.8V344.4M447.9 384.0V335.6M452.3 375.2V322.4M456.7 340.0V300.4M461.1 318.0V278.4M465.5 326.8V282.8M469.9 313.6V282.8M474.3 313.6V265.2M478.7 282.8V238.8M483.1 265.2V225.6M487.5 256.4V199.2M491.9 230.0V190.4M496.3 212.4V164.0M500.7 194.8V155.2M505.1 194.8V159.6M509.5 194.8V155.2M513.9 194.8V102.4M518.3 194.8V137.6M522.7 177.2V137.6M527.1 177.2V137.6M531.5 194.8V142.0M535.9 194.8V155.2M540.3 203.6V164.0M544.7 216.8V159.6M549.1 234.4V190.4M553.5 238.8V199.2M557.9 269.6V221.2M562.3 287.2V230.0M566.7 296.0V238.8M571.1 318.0V256.4M575.5 331.2V278.4M579.9 326.8V291.6M584.3 362.0V318.0M588.7 375.2V331.2M593.1 388.4V353.2M597.5 406.0V362.0M601.9 428.0V379.6M606.3 432.4V384.0M610.7 441.2V392.8M615.1 445.6V410.4M619.5 463.2V419.2M623.9 458.8V410.4M628.3 476.4V428.0M632.7 458.8V401.6M637.1 458.8V410.4M641.5 454.4V406.0M645.9 445.6V397.2M650.3 423.6V375.2M654.7 414.8V384.0M659.1 419.2V353.2M663.5 397.2V344.4M667.9 379.6V335.6M672.3 366.4V304.8M676.7 335.6V287.2M681.1 318.0V256.4M685.5 304.8V260.8M689.9 287.2V238.8M694.3 269.6V225.6M698.7 256.4V190.4M703.1 243.2V199.2M707.5 225.6V177.2M711.9 203.6V150.8M716.3 181.6V133.2M720.7 172.8V142.0M725.1 186.0V137.6M729.5 186.0V150.8M733.9 177.2V133.2M738.3 181.6V128.8M742.7 190.4V137.6M747.1 208.0V159.6M751.5 208.0V159.6M755.9 221.2V181.6M760.3 230.0V181.6M764.7 252.0V199.2M769.1 256.4V203.6M773.5 278.4V216.8M777.9 278.4V234.4M782.3 309.2V238.8M786.7 331.2V278.4M791.1 353.2V291.6M795.5 370.8V331.2M799.9 375.2V344.4M804.3 392.8V348.8M808.7 423.6V362.0M813.1 423.6V379.6M817.5 428.0V392.8M821.9 436.8V401.6M826.3 458.8V388.4M830.7 463.2V419.2M835.1 454.4V410.4M839.5 450.0V410.4M843.9 454.4V406.0M848.3 458.8V414.8M852.7 445.6V406.0M857.1 441.2V401.6M861.5 436.8V397.2M865.9 414.8V362.0M870.3 410.4V340.0M874.7 397.2V353.2M879.1 379.6V340.0M883.5 353.2V318.0M887.9 340.0V291.6M892.3 318.0V278.4M896.7 313.6V252.0M901.1 296.0V247.6M905.5 274.0V216.8M909.9 256.4V208.0M914.3 238.8V199.2M918.7 225.6V181.6M923.1 203.6V155.2M927.5 199.2V164.0M931.9 203.6V142.0M936.3 186.0V150.8M940.7 181.6V137.6M945.1 186.0V133.2M949.5 190.4V137.6M953.9 177.2V137.6M958.3 190.4V137.6M962.7 186.0V142.0M967.1 243.2V177.2M971.5 234.4V190.4M975.9 247.6V133.2M980.3 274.0V216.8M984.7 278.4V234.4M989.1 287.2V238.8M993.5 300.4V238.8M997.9 318.0V269.6M1002.3 335.6V296.0M1006.7 375.2V313.6M1011.1 375.2V340.0M1015.5 388.4V340.0M1019.9 401.6V353.2M1024.3 428.0V375.2M1028.7 428.0V388.4M1033.1 450.0V406.0M1037.5 467.6V414.8M1041.9 445.6V406.0M1046.3 458.8V384.0M1050.7 463.2V406.0M1055.1 467.6V423.6M1059.5 458.8V410.4M1063.9 445.6V406.0M1068.3 458.8V410.4M1072.7 432.4V392.8M1077.1 419.2V379.6M1081.5 410.4V366.4M1085.9 397.2V353.2M1090.3 392.8V340.0M1094.7 375.2V322.4M1099.1 335.6V296.0M1103.5 318.0V274.0M1107.9 326.8V256.4M1112.3 291.6V247.6M1116.7 260.8V221.2M1121.1 247.6V203.6M1125.5 238.8V190.4M1129.9 216.8V177.2M1134.3 194.8V142.0M1138.7 199.2V146.4M1143.1 181.6V142.0M1147.5 194.8V142.0M1151.9 172.8V133.2M1156.3 181.6V137.6M1160.7 177.2V142.0M1165.1 181.6V137.6M1169.5 186.0V133.2M1173.9 203.6V150.8M1178.3 199.2V164.0M1182.7 225.6V164.0M1187.1 243.2V190.4M1191.5 260.8V208.0M1195.9 265.2V230.0M1200.3 278.4V238.8M1204.7 309.2V256.4M1209.1 322.4V269.6M1213.5 331.2V282.8M1217.9 353.2V313.6M1222.3 366.4V322.4M1226.7 384.0V335.6M1231.1 410.4V353.2M1235.5 414.8V379.6M1239.9 432.4V384.0M1244.3 432.4V392.8M1248.7 445.6V401.6M1253.1 445.6V406.0M1257.5 454.4V401.6M1261.9 458.8V410.4M1266.3 467.6V423.6M1270.7 458.8V419.2M1275.1 467.6V414.8M1279.5 454.4V410.4M1283.9 454.4V401.6M1288.3 419.2V379.6M1292.7 410.4V370.8M1297.1 406.0V357.6M1301.5 392.8V340.0M1305.9 370.8V318.0M1310.3 357.6V300.4M1314.7 326.8V274.0M1319.1 318.0V260.8M1323.5 291.6V256.4M1327.9 278.4V225.6M1332.3 252.0V208.0M1336.7 243.2V194.8M1341.1 243.2V194.8M1345.5 221.2V181.6M1349.9 216.8V164.0M1354.3 203.6V164.0M1358.7 186.0V146.4M1363.1 172.8V128.8M1367.5 190.4V133.2M1371.9 181.6V137.6M1376.3 186.0V137.6M1380.7 186.0V137.6M1385.1 190.4V146.4M1389.5 203.6V159.6M1393.9 208.0V164.0M1398.3 208.0V172.8M1402.7 243.2V181.6M1407.1 274.0V234.4M1411.5 274.0V234.4M1415.9 291.6V247.6M1420.3 313.6V265.2M1424.7 344.4V278.4M1429.1 362.0V313.6M1433.5 370.8V322.4M1437.9 392.8V344.4M1442.3 401.6V357.6M1446.7 414.8V370.8M1451.1 428.0V392.8M1455.5 432.4V397.2M1459.9 432.4V384.0M1464.3 458.8V410.4M1468.7 458.8V419.2M1473.1 463.2V414.8M1477.5 463.2V423.6M1481.9 472.0V428.0M1486.3 458.8V406.0M1490.7 441.2V406.0M1495.1 432.4V366.4M1499.5 428.0V379.6M1503.9 419.2V370.8M1508.3 414.8V362.0M1512.7 392.8V331.2M1517.1 366.4V313.6M1521.5 344.4V291.6M1525.9 326.8V269.6M1530.3 304.8V252.0M1534.7 274.0V230.0M1539.1 274.0V225.6M1543.5 260.8V212.4M1547.9 243.2V203.6M1552.3 247.6V172.8M1556.7 230.0V164.0M1561.1 208.0V168.4M1565.5 208.0V155.2M1569.9 199.2V137.6M1574.3 181.6V137.6M1578.7 177.2V137.6M1583.1 181.6V128.8M1587.5 190.4V128.8M1591.9 203.6V155.2M1596.3 203.6V115.6M1600.7 194.8V150.8M1605.1 225.6V159.6M1609.5 216.8V172.8M1613.9 230.0V190.4M1618.3 260.8V194.8M1622.7 265.2V225.6M1627.1 278.4V252.0M1631.5 318.0V260.8M1635.9 340.0V287.2M1640.3 353.2V300.4M1644.7 370.8V313.6M1649.1 388.4V340.0M1653.5 392.8V344.4M1657.9 423.6V366.4M1662.3 432.4V379.6M1666.7 436.8V397.2M1671.1 441.2V401.6M1675.5 445.6V406.0M1679.9 458.8V410.4M1684.3 454.4V406.0M1688.7 463.2V414.8M1693.1 458.8V423.6M1697.5 458.8V414.8M1701.9 450.0V401.6M1706.3 445.6V401.6M1710.7 436.8V384.0M1715.1 428.0V370.8M1719.5 414.8V353.2M1723.9 384.0V335.6M1728.3 362.0V313.6M1732.7 348.8V309.2M1737.1 331.2V291.6M1741.5 318.0V274.0M1745.9 313.6V260.8M1750.3 282.8V230.0M1754.7 260.8V216.8M1759.1 256.4V194.8M1763.5 225.6V186.0M1767.9 216.8V177.2M1772.3 221.2V164.0M1776.7 300.4V142.0M1781.1 194.8V155.2M1785.5 186.0V133.2M1789.9 181.6V137.6M1794.3 186.0V137.6M1798.7 194.8V142.0M1803.1 190.4V133.2M1807.5 199.2V155.2M1811.9 199.2V146.4M1816.3 203.6V168.4M1820.7 216.8V177.2M1825.1 234.4V181.6M1829.5 256.4V186.0M1833.9 269.6V216.8M1838.3 287.2V247.6M1842.7 318.0V260.8M1847.1 309.2V265.2M1851.5 340.0V291.6M1855.9 362.0V309.2M1860.3 379.6V335.6M1864.7 392.8V265.2M1869.1 397.2V357.6M1873.5 401.6V362.0M1877.9 423.6V379.6M1882.3 445.6V384.0M1886.7 454.4V414.8M1891.1 441.2V388.4M1895.5 454.4V401.6M1899.9 454.4V410.4M1904.3 463.2V419.2M1908.7 463.2V414.8M1913.1 463.2V423.6M1917.5 463.2V414.8M1921.9 458.8V384.0M1926.3 441.2V370.8M1930.7 410.4V348.8M1935.1 388.4V344.4M1939.5 375.2V331.2M1943.9 353.2V313.6M1948.3 335.6V291.6M1952.7 335.6V287.2M1957.1 304.8V265.2M1961.5 296.0V247.6M1965.9 269.6V225.6M1970.3 269.6V203.6M1974.7 238.8V199.2M1979.1 234.4V190.4M1983.5 221.2V168.4M1987.9 194.8V155.2M1992.3 194.8V150.8M1996.7 247.6V146.4M2001.1 181.6V146.4M2005.5 186.0V142.0M2009.9 190.4V128.8M2014.3 181.6V137.6M2018.7 194.8V146.4M2023.1 212.4V164.0M2027.5 221.2V177.2M2031.9 225.6V190.4M2036.3 238.8V186.0M2040.7 238.8V199.2M2045.1 265.2V212.4M2049.5 291.6V234.4M2053.9 309.2V256.4M2058.3 326.8V269.6M2062.7 348.8V291.6M2067.1 362.0V313.6M2071.5 370.8V322.4M2075.9 388.4V335.6M2080.3 414.8V370.8M2084.7 406.0V362.0M2089.1 419.2V370.8M2093.5 450.0V401.6M2097.9 454.4V410.4M2102.3 463.2V414.8M2106.7 467.6V428.0M2111.1 472.0V428.0M2115.5 476.4V419.2M2119.9 458.8V397.2M2124.3 450.0V410.4M2128.7 441.2V379.6M2133.1 428.0V384.0M2137.5 419.2V379.6M2141.9 406.0V366.4M2146.3 397.2V348.8M2150.7 375.2V313.6M2155.1 362.0V326.8M2159.5 348.8V300.4M2163.9 322.4V269.6M2168.3 300.4V260.8M2172.7 309.2V247.6M2177.1 269.6V230.0M2181.5 260.8V230.0M2185.9 247.6V199.2" stroke="#00bfbf" stroke-width="4.70" stroke-linecap="butt"/>
<path d="M201.5 322.4V274.0M205.9 300.4V269.6M210.3 326.8V274.0M214.7 322.4V287.2M219.1 304.8V269.6M223.5 313.6V274.0M227.9 335.6V287.2M232.3 331.2V282.8M236.7 331.2V274.0M241.1 331.2V282.8M245.5 322.4V282.8M249.9 322.4V265.2M254.3 326.8V269.6M258.7 309.2V260.8M263.1 318.0V265.2M267.5 335.6V278.4M271.9 335.6V274.0M276.3 309.2V274.0M280.7 322.4V274.0M285.1 318.0V278.4M289.5 322.4V260.8M293.9 322.4V260.8M298.3 304.8V265.2M302.7 322.4V278.4M307.1 331.2V274.0M311.5 318.0V274.0M315.9 322.4V265.2M320.3 335.6V287.2M324.7 340.0V282.8M329.1 331.2V278.4M333.5 322.4V265.2M337.9 340.0V287.2M342.3 335.6V274.0M346.7 326.8V282.8M351.1 326.8V274.0M355.5 318.0V274.0M359.9 326.8V265.2M364.3 322.4V269.6M368.7 318.0V278.4M373.1 304.8V265.2M377.5 340.0V274.0M381.9 340.0V278.4M386.3 335.6V274.0M390.7 348.8V296.0M395.1 357.6V309.2M399.5 388.4V335.6M403.9 397.2V353.2M408.3 397.2V357.6M412.7 401.6V348.8M417.1 432.4V375.2M421.5 432.4V388.4M425.9 432.4V384.0M430.3 436.8V379.6M434.7 432.4V370.8M439.1 401.6V362.0M443.5 401.6V348.8M447.9 406.0V353.2M452.3 414.8V340.0M456.7 366.4V296.0M461.1 331.2V278.4M465.5 318.0V269.6M469.9 309.2V265.2M474.3 304.8V252.0M478.7 282.8V225.6M483.1 269.6V230.0M487.5 274.0V199.2M491.9 243.2V190.4M496.3 230.0V177.2M500.7 221.2V181.6M505.1 208.0V155.2M509.5 190.4V142.0M513.9 199.2V159.6M518.3 190.4V159.6M522.7 190.4V146.4M527.1 190.4V142.0M531.5 186.0V146.4M535.9 190.4V159.6M540.3 208.0V164.0M544.7 221.2V164.0M549.1 247.6V194.8M553.5 243.2V199.2M557.9 247.6V199.2M562.3 265.2V221.2M566.7 274.0V230.0M571.1 318.0V256.4M575.5 335.6V278.4M579.9 353.2V291.6M584.3 362.0V300.4M588.7 384.0V313.6M593.1 375.2V335.6M597.5 406.0V344.4M601.9 419.2V379.6M606.3 428.0V384.0M610.7 445.6V384.0M615.1 454.4V410.4M619.5 463.2V414.8M623.9 467.6V414.8M628.3 467.6V419.2M632.7 454.4V410.4M637.1 454.4V410.4M641.5 441.2V397.2M645.9 432.4V388.4M650.3 428.0V384.0M654.7 414.8V370.8M659.1 419.2V366.4M663.5 406.0V344.4M667.9 379.6V318.0M672.3 357.6V313.6M676.7 331.2V291.6M681.1 340.0V274.0M685.5 287.2V243.2M689.9 296.0V238.8M694.3 287.2V221.2M698.7 269.6V216.8M703.1 247.6V181.6M707.5 225.6V177.2M711.9 216.8V164.0M716.3 212.4V172.8M720.7 212.4V164.0M725.1 190.4V146.4M729.5 186.0V128.8M733.9 186.0V137.6M738.3 194.8V142.0M742.7 194.8V137.6M747.1 194.8V146.4M751.5 203.6V155.2M755.9 212.4V168.4M760.3 221.2V190.4M764.7 256.4V194.8M769.1 265.2V216.8M773.5 278.4V238.8M777.9 278.4V238.8M782.3 291.6V238.8M786.7 318.0V265.2M791.1 340.0V282.8M795.5 370.8V309.2M799.9 392.8V322.4M804.3 388.4V348.8M808.7 392.8V348.8M813.1 401.6V348.8M817.5 441.2V375.2M821.9 450.0V397.2M826.3 450.0V401.6M830.7 463.2V410.4M835.1 463.2V366.4M839.5 450.0V406.0M843.9 445.6V410.4M848.3 450.0V397.2M852.7 458.8V419.2M857.1 445.6V392.8M861.5 428.0V388.4M865.9 423.6V366.4M870.3 406.0V357.6M874.7 388.4V326.8M879.1 362.0V313.6M883.5 362.0V313.6M887.9 344.4V291.6M892.3 335.6V282.8M896.7 326.8V269.6M901.1 296.0V243.2M905.5 274.0V230.0M909.9 265.2V208.0M914.3 247.6V203.6M918.7 234.4V190.4M923.1 230.0V177.2M927.5 208.0V168.4M931.9 221.2V159.6M936.3 194.8V150.8M940.7 177.2V124.4M945.1 186.0V133.2M949.5 194.8V137.6M953.9 194.8V142.0M958.3 199.2V155.2M962.7 203.6V155.2M967.1 221.2V168.4M971.5 234.4V181.6M975.9 252.0V199.2M980.3 247.6V216.8M984.7 265.2V212.4M989.1 278.4V234.4M993.5 304.8V247.6M997.9 304.8V256.4M1002.3 344.4V274.0M1006.7 353.2V304.8M1011.1 375.2V322.4M1015.5 397.2V348.8M1019.9 441.2V344.4M1024.3 410.4V366.4M1028.7 419.2V375.2M1033.1 432.4V375.2M1037.5 432.4V384.0M1041.9 454.4V406.0M1046.3 450.0V410.4M1050.7 458.8V406.0M1055.1 454.4V401.6M1059.5 445.6V406.0M1063.9 450.0V388.4M1068.3 445.6V379.6M1072.7 423.6V375.2M1077.1 419.2V366.4M1081.5 406.0V362.0M1085.9 406.0V353.2M1090.3 379.6V326.8M1094.7 348.8V318.0M1099.1 362.0V278.4M1103.5 335.6V278.4M1107.9 318.0V260.8M1112.3 300.4V238.8M1116.7 278.4V221.2M1121.1 260.8V216.8M1125.5 256.4V208.0M1129.9 234.4V177.2M1134.3 230.0V181.6M1138.7 221.2V164.0M1143.1 194.8V146.4M1147.5 199.2V146.4M1151.9 208.0V142.0M1156.3 186.0V133.2M1160.7 186.0V142.0M1165.1 186.0V146.4M1169.5 190.4V155.2M1173.9 208.0V159.6M1178.3 221.2V172.8M1182.7 230.0V190.4M1187.1 221.2V181.6M1191.5 260.8V190.4M1195.9 274.0V225.6M1200.3 274.0V238.8M1204.7 287.2V247.6M1209.1 309.2V265.2M1213.5 331.2V260.8M1217.9 357.6V287.2M1222.3 366.4V318.0M1226.7 370.8V322.4M1231.1 379.6V322.4M1235.5 406.0V348.8M1239.9 428.0V384.0M1244.3 428.0V388.4M1248.7 436.8V397.2M1253.1 436.8V392.8M1257.5 445.6V406.0M1261.9 450.0V410.4M1266.3 458.8V419.2M1270.7 463.2V419.2M1275.1 472.0V423.6M1279.5 441.2V410.4M1283.9 450.0V388.4M1288.3 436.8V384.0M1292.7 445.6V362.0M1297.1 401.6V357.6M1301.5 388.4V335.6M1305.9 384.0V318.0M1310.3 348.8V296.0M1314.7 344.4V278.4M1319.1 313.6V269.6M1323.5 313.6V265.2M1327.9 282.8V238.8M1332.3 260.8V208.0M1336.7 265.2V203.6M1341.1 243.2V181.6M1345.5 221.2V181.6M1349.9 221.2V172.8M1354.3 203.6V168.4M1358.7 194.8V137.6M1363.1 194.8V150.8M1367.5 190.4V137.6M1371.9 181.6V137.6M1376.3 186.0V142.0M1380.7 190.4V146.4M1385.1 208.0V164.0M1389.5 208.0V155.2M1393.9 208.0V159.6M1398.3 234.4V177.2M1402.7 247.6V190.4M1407.1 260.8V216.8M1411.5 274.0V221.2M1415.9 287.2V243.2M1420.3 304.8V265.2M1424.7 322.4V274.0M1429.1 340.0V274.0M1433.5 379.6V313.6M1437.9 384.0V335.6M1442.3 401.6V335.6M1446.7 410.4V353.2M1451.1 419.2V366.4M1455.5 419.2V379.6M1459.9 432.4V379.6M1464.3 436.8V397.2M1468.7 445.6V392.8M1473.1 445.6V401.6M1477.5 458.8V397.2M1481.9 458.8V423.6M1486.3 454.4V406.0M1490.7 441.2V397.2M1495.1 445.6V401.6M1499.5 445.6V370.8M1503.9 414.8V375.2M1508.3 410.4V362.0M1512.7 392.8V348.8M1517.1 388.4V348.8M1521.5 375.2V309.2M1525.9 340.0V287.2M1530.3 348.8V269.6M1534.7 300.4V260.8M1539.1 287.2V221.2M1543.5 265.2V230.0M1547.9 256.4V212.4M1552.3 243.2V199.2M1556.7 238.8V181.6M1561.1 212.4V168.4M1565.5 199.2V168.4M1569.9 199.2V155.2M1574.3 199.2V142.0M1578.7 199.2V164.0M1583.1 199.2V155.2M1587.5 203.6V142.0M1591.9 194.8V150.8M1596.3 221.2V159.6M1600.7 199.2V155.2M1605.1 212.4V159.6M1609.5 221.2V172.8M1613.9 238.8V181.6M1618.3 274.0V212.4M1622.7 269.6V221.2M1627.1 296.0V225.6M1631.5 313.6V260.8M1635.9 335.6V278.4M1640.3 326.8V287.2M1644.7 366.4V313.6M1649.1 366.4V318.0M1653.5 388.4V326.8M1657.9 401.6V340.0M1662.3 432.4V357.6M1666.7 428.0V366.4M1671.1 436.8V401.6M1675.5 441.2V388.4M1679.9 445.6V401.6M1684.3 450.0V406.0M1688.7 458.8V406.0M1693.1 458.8V419.2M1697.5 472.0V419.2M1701.9 450.0V410.4M1706.3 432.4V384.0M1710.7 423.6V379.6M1715.1 414.8V366.4M1719.5 410.4V362.0M1723.9 401.6V348.8M1728.3 370.8V322.4M1732.7 362.0V313.6M1737.1 335.6V278.4M1741.5 313.6V282.8M1745.9 318.0V265.2M1750.3 291.6V230.0M1754.7 282.8V234.4M1759.1 256.4V203.6M1763.5 238.8V194.8M1767.9 221.2V177.2M1772.3 221.2V190.4M1776.7 216.8V155.2M1781.1 199.2V146.4M1785.5 194.8V159.6M1789.9 194.8V133.2M1794.3 186.0V142.0M1798.7 177.2V146.4M1803.1 181.6V137.6M1807.5 203.6V146.4M1811.9 216.8V150.8M1816.3 216.8V168.4M1820.7 234.4V181.6M1825.1 238.8V186.0M1829.5 247.6V203.6M1833.9 287.2V216.8M1838.3 296.0V247.6M1842.7 300.4V260.8M1847.1 309.2V274.0M1851.5 344.4V282.8M1855.9 353.2V300.4M1860.3 362.0V322.4M1864.7 397.2V344.4M1869.1 406.0V353.2M1873.5 423.6V366.4M1877.9 436.8V379.6M1882.3 432.4V388.4M1886.7 463.2V397.2M1891.1 454.4V397.2M1895.5 450.0V397.2M1899.9 454.4V401.6M1904.3 445.6V392.8M1908.7 454.4V406.0M1913.1 458.8V401.6M1917.5 441.2V384.0M1921.9 432.4V384.0M1926.3 419.2V375.2M1930.7 410.4V353.2M1935.1 388.4V326.8M1939.5 362.0V318.0M1943.9 366.4V300.4M1948.3 348.8V300.4M1952.7 331.2V260.8M1957.1 309.2V260.8M1961.5 287.2V230.0M1965.9 278.4V238.8M1970.3 282.8V225.6M1974.7 256.4V203.6M1979.1 230.0V190.4M1983.5 221.2V168.4M1987.9 208.0V155.2M1992.3 199.2V150.8M1996.7 177.2V142.0M2001.1 190.4V142.0M2005.5 199.2V150.8M2009.9 186.0V137.6M2014.3 190.4V150.8M2018.7 194.8V146.4M2023.1 194.8V155.2M2027.5 216.8V164.0M2031.9 234.4V181.6M2036.3 243.2V181.6M2040.7 247.6V203.6M2045.1 256.4V208.0M2049.5 274.0V216.8M2053.9 291.6V243.2M2058.3 335.6V269.6M2062.7 353.2V300.4M2067.1 357.6V313.6M2071.5 392.8V340.0M2075.9 388.4V344.4M2080.3 392.8V344.4M2084.7 414.8V353.2M2089.1 423.6V384.0M2093.5 436.8V384.0M2097.9 450.0V397.2M2102.3 450.0V406.0M2106.7 472.0V414.8M2111.1 472.0V419.2M2115.5 458.8V414.8M2119.9 463.2V410.4M2124.3 454.4V401.6M2128.7 428.0V379.6M2133.1 436.8V375.2M2137.5 441.2V388.4M2141.9 410.4V353.2M2146.3 388.4V340.0M2150.7 388.4V331.2M2155.1 366.4V304.8M2159.5 353.2V304.8M2163.9 340.0V287.2M2168.3 318.0V269.6M2172.7 296.0V252.0M2177.1 287.2V243.2M2181.5 265.2V221.2M2185.9 252.0V203.6" stroke="#bf00bf" stroke-width="4.70" stroke-linecap="butt"/>
<path d="M201.5 318.0V269.6M205.9 322.4V291.6M210.3 318.0V282.8M214.7 318.0V269.6M219.1 313.6V278.4M223.5 326.8V287.2M227.9 322.4V282.8M232.3 322.4V291.6M236.7 318.0V269.6M241.1 309.2V274.0M245.5 318.0V282.8M249.9 313.6V274.0M254.3 304.8V278.4M258.7 313.6V282.8M263.1 318.0V287.2M267.5 326.8V287.2M271.9 326.8V282.8M276.3 326.8V278.4M280.7 318.0V282.8M285.1 309.2V269.6M289.5 309.2V260.8M293.9 313.6V274.0M298.3 331.2V282.8M302.7 326.8V296.0M307.1 322.4V282.8M311.5 309.2V274.0M315.9 309.2V269.6M320.3 318.0V282.8M324.7 318.0V282.8M329.1 326.8V282.8M333.5 309.2V282.8M337.9 322.4V282.8M342.3 318.0V282.8M346.7 331.2V291.6M351.1 318.0V278.4M355.5 322.4V265.2M359.9 322.4V282.8M364.3 322.4V291.6M368.7 326.8V291.6M373.1 318.0V287.2M377.5 331.2V282.8M381.9 331.2V282.8M386.3 331.2V287.2M390.7 353.2V309.2M395.1 366.4V313.6M399.5 379.6V335.6M403.9 392.8V353.2M408.3 410.4V370.8M412.7 423.6V384.0M417.1 432.4V388.4M421.5 423.6V388.4M425.9 428.0V384.0M430.3 419.2V384.0M434.7 410.4V379.6M439.1 419.2V379.6M443.5 392.8V353.2M447.9 392.8V353.2M452.3 370.8V326.8M456.7 362.0V300.4M461.1 322.4V282.8M465.5 313.6V269.6M469.9 304.8V265.2M474.3 282.8V243.2M478.7 274.0V234.4M483.1 265.2V221.2M487.5 247.6V212.4M491.9 238.8V164.0M496.3 212.4V177.2M500.7 216.8V172.8M505.1 190.4V159.6M509.5 190.4V150.8M513.9 208.0V159.6M518.3 190.4V146.4M522.7 190.4V146.4M527.1 190.4V159.6M531.5 194.8V155.2M535.9 203.6V155.2M540.3 208.0V172.8M544.7 221.2V186.0M549.1 225.6V199.2M553.5 247.6V203.6M557.9 260.8V225.6M562.3 274.0V243.2M566.7 282.8V243.2M571.1 300.4V265.2M575.5 331.2V269.6M579.9 348.8V313.6M584.3 366.4V309.2M588.7 379.6V340.0M593.1 392.8V357.6M597.5 406.0V362.0M601.9 414.8V384.0M606.3 441.2V388.4M610.7 432.4V397.2M615.1 432.4V392.8M619.5 454.4V414.8M623.9 463.2V419.2M628.3 458.8V419.2M632.7 445.6V410.4M637.1 445.6V401.6M641.5 450.0V401.6M645.9 428.0V384.0M650.3 410.4V370.8M654.7 410.4V370.8M659.1 388.4V353.2M663.5 379.6V318.0M667.9 357.6V322.4M672.3 353.2V300.4M676.7 331.2V278.4M681.1 309.2V265.2M685.5 296.0V265.2M689.9 278.4V234.4M694.3 265.2V216.8M698.7 243.2V208.0M703.1 225.6V186.0M707.5 230.0V190.4M711.9 216.8V172.8M716.3 208.0V168.4M720.7 194.8V159.6M725.1 194.8V159.6M729.5 186.0V150.8M733.9 194.8V150.8M738.3 190.4V155.2M742.7 203.6V164.0M747.1 194.8V155.2M751.5 199.2V159.6M755.9 216.8V177.2M760.3 230.0V186.0M764.7 230.0V199.2M769.1 265.2V225.6M773.5 274.0V238.8M777.9 296.0V247.6M782.3 322.4V265.2M786.7 326.8V291.6M791.1 344.4V304.8M795.5 357.6V318.0M799.9 379.6V340.0M804.3 384.0V348.8M808.7 406.0V357.6M813.1 423.6V375.2M817.5 423.6V379.6M821.9 445.6V401.6M826.3 445.6V406.0M830.7 441.2V401.6M835.1 445.6V397.2M839.5 445.6V397.2M843.9 467.6V410.4M848.3 463.2V410.4M852.7 441.2V406.0M857.1 441.2V392.8M861.5 428.0V392.8M865.9 410.4V370.8M870.3 406.0V353.2M874.7 370.8V335.6M879.1 375.2V335.6M883.5 353.2V309.2M887.9 348.8V313.6M892.3 326.8V287.2M896.7 304.8V256.4M901.1 278.4V238.8M905.5 260.8V230.0M909.9 247.6V199.2M914.3 234.4V186.0M918.7 216.8V181.6M923.1 208.0V172.8M927.5 208.0V164.0M931.9 190.4V150.8M936.3 177.2V142.0M940.7 190.4V155.2M945.1 194.8V159.6M949.5 194.8V150.8M953.9 194.8V146.4M958.3 194.8V159.6M962.7 203.6V111.2M967.1 208.0V155.2M971.5 221.2V181.6M975.9 238.8V199.2M980.3 256.4V212.4M984.7 260.8V216.8M989.1 296.0V243.2M993.5 300.4V265.2M997.9 318.0V269.6M1002.3 326.8V300.4M1006.7 362.0V296.0M1011.1 366.4V322.4M1015.5 392.8V344.4M1019.9 410.4V353.2M1024.3 414.8V362.0M1028.7 419.2V366.4M1033.1 432.4V392.8M1037.5 445.6V406.0M1041.9 450.0V410.4M1046.3 445.6V406.0M1050.7 450.0V410.4M1055.1 445.6V419.2M1059.5 458.8V406.0M1063.9 454.4V406.0M1068.3 428.0V388.4M1072.7 419.2V392.8M1077.1 410.4V379.6M1081.5 401.6V366.4M1085.9 379.6V344.4M1090.3 370.8V331.2M1094.7 344.4V309.2M1099.1 331.2V300.4M1103.5 318.0V278.4M1107.9 300.4V265.2M1112.3 287.2V230.0M1116.7 260.8V230.0M1121.1 247.6V212.4M1125.5 252.0V194.8M1129.9 238.8V181.6M1134.3 238.8V177.2M1138.7 199.2V159.6M1143.1 190.4V155.2M1147.5 190.4V150.8M1151.9 186.0V150.8M1156.3 181.6V146.4M1160.7 190.4V155.2M1165.1 199.2V155.2M1169.5 186.0V155.2M1173.9 208.0V168.4M1178.3 212.4V186.0M1182.7 221.2V186.0M1187.1 230.0V194.8M1191.5 247.6V199.2M1195.9 282.8V230.0M1200.3 296.0V252.0M1204.7 296.0V256.4M1209.1 318.0V269.6M1213.5 335.6V287.2M1217.9 357.6V318.0M1222.3 370.8V340.0M1226.7 384.0V353.2M1231.1 397.2V357.6M1235.5 410.4V375.2M1239.9 419.2V379.6M1244.3 428.0V384.0M1248.7 436.8V397.2M1253.1 450.0V414.8M1257.5 445.6V410.4M1261.9 445.6V414.8M1266.3 445.6V414.8M1270.7 450.0V401.6M1275.1 432.4V401.6M1279.5 436.8V406.0M1283.9 428.0V397.2M1288.3 414.8V370.8M1292.7 406.0V366.4M1297.1 414.8V362.0M1301.5 384.0V331.2M1305.9 353.2V313.6M1310.3 344.4V304.8M1314.7 322.4V282.8M1319.1 296.0V256.4M1323.5 287.2V238.8M1327.9 274.0V230.0M1332.3 247.6V212.4M1336.7 243.2V194.8M1341.1 243.2V194.8M1345.5 216.8V168.4M1349.9 203.6V164.0M1354.3 194.8V159.6M1358.7 203.6V155.2M1363.1 190.4V155.2M1367.5 186.0V155.2M1371.9 203.6V159.6M1376.3 203.6V159.6M1380.7 194.8V155.2M1385.1 212.4V172.8M1389.5 221.2V177.2M1393.9 225.6V186.0M1398.3 234.4V186.0M1402.7 247.6V199.2M1407.1 252.0V212.4M1411.5 278.4V238.8M1415.9 296.0V265.2M1420.3 326.8V278.4M1424.7 340.0V304.8M1429.1 348.8V304.8M1433.5 370.8V326.8M1437.9 370.8V340.0M1442.3 406.0V357.6M1446.7 423.6V379.6M1451.1 414.8V370.8M1455.5 432.4V384.0M1459.9 472.0V392.8M1464.3 441.2V410.4M1468.7 450.0V406.0M1473.1 441.2V406.0M1477.5 450.0V414.8M1481.9 445.6V414.8M1486.3 454.4V406.0M1490.7 445.6V406.0M1495.1 432.4V406.0M1499.5 520.4V379.6M1503.9 397.2V362.0M1508.3 388.4V357.6M1512.7 384.0V348.8M1517.1 362.0V318.0M1521.5 340.0V300.4M1525.9 318.0V282.8M1530.3 309.2V265.2M1534.7 291.6V243.2M1539.1 269.6V247.6M1543.5 260.8V225.6M1547.9 247.6V221.2M1552.3 234.4V190.4M1556.7 208.0V181.6M1561.1 208.0V164.0M1565.5 194.8V155.2M1569.9 190.4V150.8M1574.3 194.8V150.8M1578.7 186.0V142.0M1583.1 186.0V150.8M1587.5 190.4V146.4M1591.9 194.8V168.4M1596.3 199.2V164.0M1600.7 212.4V168.4M1605.1 221.2V190.4M1609.5 225.6V190.4M1613.9 243.2V199.2M1618.3 260.8V216.8M1622.7 282.8V234.4M1627.1 296.0V256.4M1631.5 313.6V269.6M1635.9 331.2V278.4M1640.3 344.4V300.4M1644.7 357.6V313.6M1649.1 379.6V335.6M1653.5 397.2V357.6M1657.9 401.6V353.2M1662.3 423.6V370.8M1666.7 432.4V388.4M1671.1 432.4V406.0M1675.5 445.6V401.6M1679.9 436.8V406.0M1684.3 450.0V414.8M1688.7 450.0V423.6M1693.1 450.0V410.4M1697.5 441.2V414.8M1701.9 432.4V406.0M1706.3 428.0V384.0M1710.7 414.8V384.0M1715.1 414.8V362.0M1719.5 392.8V353.2M1723.9 384.0V340.0M1728.3 362.0V313.6M1732.7 348.8V300.4M1737.1 331.2V287.2M1741.5 322.4V274.0M1745.9 291.6V252.0M1750.3 282.8V243.2M1754.7 260.8V225.6M1759.1 247.6V216.8M1763.5 234.4V181.6M1767.9 221.2V186.0M1772.3 212.4V177.2M1776.7 199.2V155.2M1781.1 186.0V155.2M1785.5 199.2V155.2M1789.9 186.0V155.2M1794.3 186.0V137.6M1798.7 186.0V146.4M1803.1 194.8V155.2M1807.5 190.4V159.6M1811.9 208.0V168.4M1816.3 234.4V181.6M1820.7 238.8V190.4M1825.1 243.2V208.0M1829.5 247.6V221.2M1833.9 269.6V234.4M1838.3 291.6V238.8M1842.7 296.0V269.6M1847.1 326.8V274.0M1851.5 344.4V300.4M1855.9 344.4V296.0M1860.3 388.4V322.4M1864.7 392.8V344.4M1869.1 397.2V362.0M1873.5 414.8V375.2M1877.9 419.2V379.6M1882.3 423.6V388.4M1886.7 445.6V406.0M1891.1 445.6V423.6M1895.5 454.4V410.4M1899.9 454.4V410.4M1904.3 445.6V410.4M1908.7 441.2V406.0M1913.1 450.0V401.6M1917.5 436.8V392.8M1921.9 428.0V379.6M1926.3 423.6V375.2M1930.7 406.0V353.2M1935.1 397.2V344.4M1939.5 366.4V322.4M1943.9 348.8V309.2M1948.3 344.4V296.0M1952.7 318.0V287.2M1957.1 304.8V260.8M1961.5 278.4V243.2M1965.9 260.8V225.6M1970.3 252.0V221.2M1974.7 252.0V199.2M1979.1 230.0V186.0M1983.5 216.8V172.8M1987.9 199.2V164.0M1992.3 208.0V159.6M1996.7 199.2V150.8M2001.1 186.0V150.8M2005.5 177.2V142.0M2009.9 177.2V150.8M2014.3 190.4V155.2M2018.7 194.8V159.6M2023.1 203.6V168.4M2027.5 225.6V177.2M2031.9 238.8V190.4M2036.3 260.8V203.6M2040.7 247.6V212.4M2045.1 265.2V225.6M2049.5 278.4V243.2M2053.9 291.6V256.4M2058.3 318.0V274.0M2062.7 344.4V300.4M2067.1 357.6V322.4M2071.5 370.8V322.4M2075.9 375.2V340.0M2080.3 397.2V362.0M2084.7 401.6V370.8M2089.1 410.4V370.8M2093.5 428.0V384.0M2097.9 432.4V401.6M2102.3 458.8V419.2M2106.7 458.8V419.2M2111.1 441.2V410.4M2115.5 441.2V397.2M2119.9 454.4V410.4M2124.3 428.0V401.6M2128.7 436.8V388.4M2133.1 414.8V375.2M2137.5 410.4V379.6M2141.9 410.4V357.6M2146.3 375.2V348.8M2150.7 375.2V335.6M2155.1 353.2V318.0M2159.5 331.2V296.0M2163.9 322.4V278.4M2168.3 313.6V269.6M2172.7 300.4V243.2M2177.1 265.2V225.6M2181.5 256.4V212.4M2185.9 234.4V199.2" stroke="#636363" stroke-width="4.70" stroke-linecap="butt"/>
</g>
<text x="201.8" y="638.0" text-anchor="middle">0</text>
<text x="420.3" y="638.0" text-anchor="middle">10</text>
<text x="641.3" y="638.0" text-anchor="middle">20</text>
<text x="862.3" y="638.0" text-anchor="middle">30</text>
<text x="1083.3" y="638.0" text-anchor="middle">40</text>
<text x="1304.2" y="638.0" text-anchor="middle">50</text>
<text x="1525.2" y="638.0" text-anchor="middle">60</text>
<text x="1746.2" y="638.0" text-anchor="middle">70</text>
<text x="1967.2" y="638.0" text-anchor="middle">80</text>
<text x="2188.2" y="638.0" text-anchor="middle">90</text>
<text x="186.5" y="593.2" text-anchor="end">-20</text>
<text x="186.5" y="456.4" text-anchor="end">-10</text>
<text x="186.5" y="319.6" text-anchor="end">0</text>
<text x="186.5" y="182.7" text-anchor="end">10</text>
<text x="186.5" y="45.9" text-anchor="end">20</text>
<text transform="translate(68.0 300.0) rotate(-90)" text-anchor="middle">Rate (deg/s)</text>
<rect x="1669.5" y="36.5" width="472.0" height="91.0" fill="#fff" stroke="#000" stroke-width="4.5"/>
<path d="M1696.0 80.0H1846.0" stroke="#0000ff" stroke-width="3.8" fill="none"/>
<text transform="translate(1858.8 106.3) scale(0.9750 1.0600)">Gyro array</text>
<clipPath id="clipA2"><rect x="207.8" y="685.6" width="1984.7" height="557.4"/></clipPath>
<path d="M423.9 1243.0V1219.5M423.9 685.6V709.1M644.4 1243.0V1219.5M644.4 685.6V709.1M864.9 1243.0V1219.5M864.9 685.6V709.1M1085.4 1243.0V1219.5M1085.4 685.6V709.1M1306.0 1243.0V1219.5M1306.0 685.6V709.1M1526.5 1243.0V1219.5M1526.5 685.6V709.1M1747.0 1243.0V1219.5M1747.0 685.6V709.1M1967.5 1243.0V1219.5M1967.5 685.6V709.1M205.6 1103.7H225.6M2188.5 1103.7H2168.5M205.6 964.3H225.6M2188.5 964.3H2168.5M205.6 825.0H225.6M2188.5 825.0H2168.5" stroke="#000" stroke-width="4.5" fill="none"/>
<rect x="205.6" y="685.6" width="1982.9" height="557.4" fill="none" stroke="#000" stroke-width="4.5"/>
<g clip-path="url(#clipA2)" fill="none" stroke-linejoin="miter" stroke-linecap="square">
<path d="M205.6 965.0V960.6M210.0 965.0V956.2M214.4 965.0V960.6M218.8 965.0V956.2M223.2 965.0V960.6M227.6 965.0V956.2M232.0 969.4V960.6M236.4 965.0V960.6M240.8 969.4V960.6M245.2 969.4V960.6M249.6 965.0V956.2M254.0 965.0V956.2M258.4 969.4V960.6M262.8 965.0V960.6M267.2 965.0V960.6M271.6 969.4V960.6M276.0 969.4V960.6M280.4 969.4V960.6M284.8 965.0V960.6M289.2 969.4V960.6M293.6 965.0V960.6M298.0 965.0V956.2M302.4 965.0V956.2M306.8 969.4V960.6M311.2 969.4V960.6M315.6 969.4V960.6M320.0 969.4V960.6M324.4 969.4V960.6M328.8 969.4V960.6M333.2 969.4V956.2M337.6 965.0V956.2M342.0 969.4V960.6M346.4 969.4V960.6M350.8 965.0V960.6M355.2 965.0V956.2M359.6 965.0V956.2M364.0 969.4V960.6M368.4 969.4V960.6M372.8 965.0V956.2M377.2 965.0V956.2M381.6 969.4V960.6M386.0 969.4V960.6M390.4 982.6V960.6M394.8 1004.6V978.2M399.2 1026.6V1000.2M403.6 1039.8V1022.2M408.0 1048.6V1035.4M412.4 1061.8V1044.2M416.8 1075.0V1057.4M421.2 1083.8V1070.6M425.6 1083.8V1079.4M430.0 1088.2V1079.4M434.4 1083.8V1075.0M438.8 1079.4V1061.8M443.2 1070.6V1053.0M447.6 1057.4V1039.8M452.0 1044.2V1013.4M456.4 1017.8V995.8M460.8 1000.2V978.2M465.2 982.6V960.6M469.6 969.4V960.6M474.0 965.0V938.6M478.4 943.0V921.0M482.8 925.4V907.8M487.2 912.2V890.2M491.6 894.6V877.0M496.0 881.4V859.4M500.4 863.8V850.6M504.8 855.0V837.4M509.2 841.8V833.0M513.6 837.4V828.6M518.0 833.0V819.8M522.4 828.6V819.8M526.8 833.0V824.2M531.2 833.0V824.2M535.6 837.4V824.2M540.0 846.2V833.0M544.4 855.0V841.8M548.8 872.6V850.6M553.2 885.8V868.2M557.6 899.0V881.4M562.0 916.6V894.6M566.4 929.8V912.2M570.8 947.4V925.4M575.2 969.4V943.0M579.6 987.0V965.0M584.0 1004.6V982.6M588.4 1017.8V1000.2M592.8 1039.8V1013.4M597.2 1053.0V1035.4M601.6 1061.8V1048.6M606.0 1075.0V1057.4M610.4 1088.2V1070.6M614.8 1097.0V1083.8M619.2 1101.4V1092.6M623.6 1105.8V1097.0M628.0 1105.8V1097.0M632.4 1105.8V1097.0M636.8 1105.8V1097.0M641.2 1101.4V1092.6M645.6 1097.0V1083.8M650.0 1088.2V1075.0M654.4 1079.4V1057.4M658.8 1061.8V1044.2M663.2 1048.6V1026.6M667.6 1031.0V1017.8M672.0 1022.2V1000.2M676.4 1004.6V982.6M680.8 987.0V960.6M685.2 965.0V943.0M689.6 947.4V925.4M694.0 929.8V907.8M698.4 912.2V894.6M702.8 899.0V877.0M707.2 881.4V859.4M711.6 863.8V855.0M716.0 859.4V841.8M720.4 846.2V837.4M724.8 841.8V833.0M729.2 837.4V828.6M733.6 833.0V819.8M738.0 828.6V819.8M742.4 833.0V824.2M746.8 841.8V828.6M751.2 850.6V837.4M755.6 859.4V846.2M760.0 868.2V855.0M764.4 885.8V863.8M768.8 894.6V881.4M773.2 916.6V890.2M777.6 934.2V912.2M782.0 951.8V929.8M786.4 965.0V947.4M790.8 987.0V960.6M795.2 1004.6V982.6M799.6 1017.8V1000.2M804.0 1031.0V1013.4M808.4 1053.0V1026.6M812.8 1066.2V1048.6M817.2 1079.4V1057.4M821.6 1088.2V1075.0M826.0 1097.0V1083.8M830.4 1101.4V1092.6M834.8 1105.8V1097.0M839.2 1105.8V1101.4M843.6 1105.8V1101.4M848.0 1105.8V1097.0M852.4 1101.4V1092.6M856.8 1097.0V1083.8M861.2 1088.2V1075.0M865.6 1079.4V1061.8M870.0 1066.2V1048.6M874.4 1053.0V1031.0M878.8 1035.4V1013.4M883.2 1017.8V995.8M887.6 1000.2V982.6M892.0 987.0V960.6M896.4 965.0V943.0M900.8 947.4V929.8M905.2 934.2V912.2M909.6 916.6V894.6M914.0 899.0V877.0M918.4 881.4V863.8M922.8 868.2V850.6M927.2 855.0V841.8M931.6 846.2V833.0M936.0 841.8V828.6M940.4 837.4V828.6M944.8 833.0V824.2M949.2 828.6V819.8M953.6 833.0V819.8M958.0 837.4V828.6M962.4 846.2V833.0M966.8 855.0V841.8M971.2 868.2V850.6M975.6 881.4V863.8M980.0 899.0V877.0M984.4 912.2V894.6M988.8 929.8V907.8M993.2 947.4V925.4M997.6 965.0V943.0M1002.0 978.2V960.6M1006.4 1000.2V973.8M1010.8 1017.8V995.8M1015.2 1035.4V1013.4M1019.6 1048.6V1031.0M1024.0 1066.2V1044.2M1028.4 1075.0V1061.8M1032.8 1088.2V1070.6M1037.2 1092.6V1083.8M1041.6 1101.4V1088.2M1046.0 1105.8V1097.0M1050.4 1105.8V1097.0M1054.8 1110.2V1101.4M1059.2 1110.2V1097.0M1063.6 1105.8V1092.6M1068.0 1097.0V1088.2M1072.4 1092.6V1075.0M1076.8 1079.4V1061.8M1081.2 1066.2V1044.2M1085.6 1048.6V1031.0M1090.0 1035.4V1017.8M1094.4 1022.2V1000.2M1098.8 1004.6V982.6M1103.2 987.0V965.0M1107.6 969.4V947.4M1112.0 951.8V929.8M1116.4 934.2V912.2M1120.8 916.6V894.6M1125.2 899.0V881.4M1129.6 885.8V863.8M1134.0 868.2V850.6M1138.4 855.0V841.8M1142.8 846.2V837.4M1147.2 841.8V828.6M1151.6 837.4V824.2M1156.0 833.0V819.8M1160.4 828.6V815.4M1164.8 833.0V819.8M1169.2 841.8V828.6M1173.6 846.2V837.4M1178.0 855.0V837.4M1182.4 863.8V850.6M1186.8 881.4V859.4M1191.2 894.6V877.0M1195.6 912.2V890.2M1200.0 929.8V907.8M1204.4 947.4V925.4M1208.8 960.6V943.0M1213.2 978.2V956.2M1217.6 995.8V973.8M1222.0 1013.4V991.4M1226.4 1031.0V1009.0M1230.8 1044.2V1026.6M1235.2 1057.4V1039.8M1239.6 1070.6V1053.0M1244.0 1083.8V1066.2M1248.4 1097.0V1079.4M1252.8 1105.8V1092.6M1257.2 1105.8V1097.0M1261.6 1105.8V1097.0M1266.0 1105.8V1097.0M1270.4 1105.8V1097.0M1274.8 1105.8V1092.6M1279.2 1097.0V1083.8M1283.6 1088.2V1075.0M1288.0 1079.4V1061.8M1292.4 1066.2V1048.6M1296.8 1053.0V1035.4M1301.2 1039.8V1022.2M1305.6 1026.6V1004.6M1310.0 1009.0V987.0M1314.4 991.4V965.0M1318.8 969.4V947.4M1323.2 951.8V929.8M1327.6 934.2V916.6M1332.0 921.0V899.0M1336.4 903.4V881.4M1340.8 885.8V863.8M1345.2 868.2V855.0M1349.6 863.8V841.8M1354.0 846.2V828.6M1358.4 833.0V824.2M1362.8 833.0V824.2M1367.2 828.6V824.2M1371.6 828.6V824.2M1376.0 828.6V824.2M1380.4 833.0V824.2M1384.8 841.8V828.6M1389.2 855.0V837.4M1393.6 859.4V850.6M1398.0 877.0V855.0M1402.4 890.2V872.6M1406.8 903.4V885.8M1411.2 925.4V899.0M1415.6 943.0V921.0M1420.0 956.2V938.6M1424.4 978.2V951.8M1428.8 995.8V973.8M1433.2 1017.8V991.4M1437.6 1031.0V1013.4M1442.0 1044.2V1026.6M1446.4 1057.4V1039.8M1450.8 1075.0V1053.0M1455.2 1083.8V1066.2M1459.6 1092.6V1079.4M1464.0 1101.4V1088.2M1468.4 1105.8V1097.0M1472.8 1110.2V1101.4M1477.2 1110.2V1101.4M1481.6 1105.8V1092.6M1486.0 1101.4V1092.6M1490.4 1097.0V1088.2M1494.8 1092.6V1075.0M1499.2 1083.8V1066.2M1503.6 1070.6V1048.6M1508.0 1053.0V1031.0M1512.4 1035.4V1017.8M1516.8 1022.2V1004.6M1521.2 1009.0V987.0M1525.6 991.4V969.4M1530.0 973.8V951.8M1534.4 956.2V934.2M1538.8 938.6V912.2M1543.2 916.6V899.0M1547.6 903.4V881.4M1552.0 885.8V863.8M1556.4 868.2V859.4M1560.8 863.8V846.2M1565.2 850.6V837.4M1569.6 841.8V833.0M1574.0 837.4V824.2M1578.4 833.0V824.2M1582.8 833.0V824.2M1587.2 833.0V824.2M1591.6 833.0V824.2M1596.0 841.8V828.6M1600.4 850.6V837.4M1604.8 859.4V846.2M1609.2 872.6V855.0M1613.6 890.2V868.2M1618.0 907.8V885.8M1622.4 925.4V903.4M1626.8 938.6V921.0M1631.2 956.2V934.2M1635.6 973.8V951.8M1640.0 991.4V969.4M1644.4 1009.0V987.0M1648.8 1026.6V1004.6M1653.2 1044.2V1022.2M1657.6 1057.4V1039.8M1662.0 1070.6V1053.0M1666.4 1083.8V1066.2M1670.8 1092.6V1079.4M1675.2 1097.0V1088.2M1679.6 1105.8V1092.6M1684.0 1105.8V1097.0M1688.4 1105.8V1101.4M1692.8 1110.2V1101.4M1697.2 1105.8V1092.6M1701.6 1097.0V1083.8M1706.0 1088.2V1075.0M1710.4 1079.4V1066.2M1714.8 1070.6V1048.6M1719.2 1053.0V1039.8M1723.6 1044.2V1017.8M1728.0 1026.6V1004.6M1732.4 1009.0V991.4M1736.8 995.8V969.4M1741.2 973.8V951.8M1745.6 956.2V934.2M1750.0 938.6V916.6M1754.4 921.0V899.0M1758.8 903.4V885.8M1763.2 890.2V872.6M1767.6 877.0V859.4M1772.0 863.8V841.8M1776.4 850.6V837.4M1780.8 841.8V828.6M1785.2 833.0V824.2M1789.6 828.6V819.8M1794.0 828.6V819.8M1798.4 828.6V819.8M1802.8 833.0V824.2M1807.2 841.8V828.6M1811.6 850.6V837.4M1816.0 859.4V846.2M1820.4 872.6V855.0M1824.8 890.2V868.2M1829.2 903.4V885.8M1833.6 921.0V899.0M1838.0 943.0V916.6M1842.4 956.2V938.6M1846.8 973.8V951.8M1851.2 995.8V969.4M1855.6 1009.0V991.4M1860.0 1031.0V1004.6M1864.4 1044.2V1026.6M1868.8 1057.4V1039.8M1873.2 1070.6V1053.0M1877.6 1083.8V1066.2M1882.0 1092.6V1075.0M1886.4 1097.0V1088.2M1890.8 1101.4V1092.6M1895.2 1105.8V1097.0M1899.6 1105.8V1097.0M1904.0 1110.2V1101.4M1908.4 1105.8V1097.0M1912.8 1101.4V1088.2M1917.2 1092.6V1079.4M1921.6 1083.8V1070.6M1926.0 1075.0V1053.0M1930.4 1057.4V1035.4M1934.8 1039.8V1022.2M1939.2 1026.6V1009.0M1943.6 1013.4V991.4M1948.0 995.8V973.8M1952.4 978.2V951.8M1956.8 956.2V934.2M1961.2 938.6V916.6M1965.6 921.0V899.0M1970.0 903.4V881.4M1974.4 885.8V868.2M1978.8 872.6V855.0M1983.2 859.4V846.2M1987.6 850.6V837.4M1992.0 841.8V833.0M1996.4 837.4V824.2M2000.8 828.6V824.2M2005.2 828.6V819.8M2009.6 828.6V819.8M2014.0 833.0V819.8M2018.4 841.8V824.2M2022.8 850.6V833.0M2027.2 859.4V846.2M2031.6 872.6V855.0M2036.0 890.2V868.2M2040.4 903.4V885.8M2044.8 921.0V899.0M2049.2 938.6V916.6M2053.6 951.8V934.2M2058.0 969.4V947.4M2062.4 991.4V965.0M2066.8 1009.0V987.0M2071.2 1026.6V1004.6M2075.6 1039.8V1022.2M2080.0 1053.0V1035.4M2084.4 1070.6V1048.6M2088.8 1083.8V1066.2M2093.2 1092.6V1079.4M2097.6 1101.4V1088.2M2102.0 1105.8V1092.6M2106.4 1105.8V1097.0M2110.8 1105.8V1101.4M2115.2 1105.8V1097.0M2119.6 1101.4V1092.6M2124.0 1097.0V1083.8M2128.4 1088.2V1079.4M2132.8 1083.8V1070.6M2137.2 1075.0V1057.4M2141.6 1061.8V1039.8M2146.0 1044.2V1026.6M2150.4 1031.0V1009.0M2154.8 1013.4V991.4M2159.2 995.8V973.8M2163.6 978.2V951.8M2168.0 956.2V938.6M2172.4 943.0V921.0M2176.8 925.4V903.4M2181.2 907.8V885.8M2185.6 890.2V872.6" stroke="#000" stroke-width="4.70" stroke-linecap="butt"/>
</g>
<text x="205.9" y="1308.3" text-anchor="middle">0</text>
<text x="423.9" y="1308.3" text-anchor="middle">10</text>
<text x="644.4" y="1308.3" text-anchor="middle">20</text>
<text x="864.9" y="1308.3" text-anchor="middle">30</text>
<text x="1085.4" y="1308.3" text-anchor="middle">40</text>
<text x="1306.0" y="1308.3" text-anchor="middle">50</text>
<text x="1526.5" y="1308.3" text-anchor="middle">60</text>
<text x="1747.0" y="1308.3" text-anchor="middle">70</text>
<text x="1967.5" y="1308.3" text-anchor="middle">80</text>
<text x="2188.0" y="1308.3" text-anchor="middle">90</text>
<text x="190.1" y="1263.5" text-anchor="end">-20</text>
<text x="190.1" y="1124.2" text-anchor="end">-10</text>
<text x="190.1" y="984.8" text-anchor="end">0</text>
<text x="190.1" y="845.5" text-anchor="end">10</text>
<text x="190.1" y="706.1" text-anchor="end">20</text>
<text transform="translate(71.0 959.6) rotate(-90)" text-anchor="middle">Rate (deg/s)</text>
<rect x="1651.0" y="696.4" width="494.0" height="94.0" fill="#fff" stroke="#000" stroke-width="4.5"/>
<path d="M1678.0 743.5H1828.0" stroke="#000" stroke-width="4.6" fill="none"/>
<text transform="translate(1840.0 769.0) scale(0.9835 1.0000)">Virtual gyro</text>
<text x="1187.0" y="1378.2" text-anchor="middle">Time (s)</text>
<clipPath id="clipB1"><rect x="198.8" y="1574.5" width="1994.7" height="557.5"/></clipPath>
<path d="M416.0 2132.0V2108.5M416.0 1574.5V1598.0M637.6 2132.0V2108.5M637.6 1574.5V1598.0M859.3 2132.0V2108.5M859.3 1574.5V1598.0M1080.9 2132.0V2108.5M1080.9 1574.5V1598.0M1302.5 2132.0V2108.5M1302.5 1574.5V1598.0M1524.1 2132.0V2108.5M1524.1 1574.5V1598.0M1745.8 2132.0V2108.5M1745.8 1574.5V1598.0M1967.4 2132.0V2108.5M1967.4 1574.5V1598.0M196.6 1992.6H216.6M2189.5 1992.6H2169.5M196.6 1853.2H216.6M2189.5 1853.2H2169.5M196.6 1713.9H216.6M2189.5 1713.9H2169.5" stroke="#000" stroke-width="4.5" fill="none"/>
<rect x="196.6" y="1574.5" width="1992.9" height="557.5" fill="none" stroke="#000" stroke-width="4.5"/>
<g clip-path="url(#clipB1)" fill="none" stroke-linejoin="miter" stroke-linecap="square">
<path d="M196.6 1880.3V1840.7M201.0 1871.5V1836.3M205.4 1871.5V1827.5M209.8 1884.7V1840.7M214.2 1871.5V1827.5M218.6 1871.5V1831.9M223.0 1867.1V1831.9M227.4 1871.5V1836.3M231.8 1858.3V1827.5M236.2 1858.3V1827.5M240.6 1880.3V1836.3M245.0 1884.7V1849.5M249.4 1867.1V1827.5M253.8 1862.7V1823.1M258.2 1880.3V1836.3M262.6 1875.9V1849.5M267.0 1889.1V1836.3M271.4 1867.1V1831.9M275.8 1871.5V1831.9M280.2 1867.1V1840.7M284.6 1867.1V1818.7M289.0 1867.1V1836.3M293.4 1871.5V1840.7M297.8 1871.5V1823.1M302.2 1875.9V1814.3M306.6 1875.9V1818.7M311.0 1897.9V1845.1M315.4 1906.7V1875.9M319.8 1933.1V1884.7M324.2 1924.3V1893.5M328.6 1928.7V1889.1M333.0 1928.7V1893.5M337.4 1928.7V1889.1M341.8 1911.1V1862.7M346.2 1889.1V1836.3M350.6 1889.1V1840.7M355.0 1849.5V1770.3M359.4 1787.9V1726.3M363.8 1752.7V1699.9M368.2 1730.7V1691.1M372.6 1735.1V1704.3M377.0 1770.3V1704.3M381.4 1823.1V1757.1M385.8 1875.9V1814.3M390.2 1933.1V1862.7M394.6 1977.1V1924.3M399.0 1999.1V1959.5M403.4 1999.1V1959.5M407.8 2021.1V1963.9M412.2 1981.5V1937.5M416.6 1955.1V1902.3M421.0 1915.5V1836.3M425.4 1862.7V1792.3M429.8 1801.1V1739.5M434.2 1752.7V1695.5M438.6 1726.3V1686.7M443.0 1730.7V1686.7M447.4 1765.9V1704.3M451.8 1796.7V1735.1M456.2 1862.7V1792.3M460.6 1915.5V1853.9M465.0 1972.7V1906.7M469.4 1994.7V1941.9M473.8 2021.1V1981.5M478.2 2007.9V1968.3M482.6 1990.3V1937.5M487.0 1959.5V1884.7M491.4 1911.1V1849.5M495.8 1875.9V1783.5M500.2 1809.9V1739.5M504.6 1761.5V1717.5M509.0 1735.1V1704.3M513.4 1735.1V1691.1M517.8 1770.3V1704.3M522.2 1801.1V1743.9M526.6 1845.1V1787.9M531.0 1902.3V1840.7M535.4 1959.5V1889.1M539.8 1990.3V1937.5M544.2 2016.7V1959.5M548.6 2021.1V1985.9M553.0 2003.5V1928.7M557.4 1955.1V1911.1M561.8 1924.3V1853.9M566.2 1858.3V1783.5M570.6 1796.7V1748.3M575.0 1774.7V1708.7M579.4 1735.1V1686.7M583.8 1726.3V1682.3M588.2 1761.5V1708.7M592.6 1801.1V1730.7M597.0 1840.7V1787.9M601.4 1902.3V1823.1M605.8 1955.1V1889.1M610.2 2003.5V1937.5M614.6 2012.3V1968.3M619.0 2021.1V1985.9M623.4 2016.7V1955.1M627.8 1977.1V1911.1M632.2 1924.3V1858.3M636.6 1880.3V1805.5M641.0 1823.1V1739.5M645.4 1774.7V1704.3M649.8 1730.7V1691.1M654.2 1735.1V1691.1M658.6 1752.7V1695.5M663.0 1779.1V1726.3M667.4 1818.7V1743.9M671.8 1884.7V1814.3M676.2 1955.1V1875.9M680.6 1990.3V1941.9M685.0 2007.9V1968.3M689.4 2007.9V1963.9M693.8 1999.1V1963.9M698.2 1999.1V1915.5M702.6 1946.3V1880.3M707.0 1902.3V1827.5M711.4 1849.5V1779.1M715.8 1783.5V1717.5M720.2 1739.5V1704.3M724.6 1726.3V1686.7M729.0 1748.3V1704.3M733.4 1779.1V1739.5M737.8 1827.5V1765.9M742.2 1880.3V1814.3M746.6 1946.3V1858.3M751.0 1990.3V1919.9M755.4 1999.1V1959.5M759.8 2003.5V1968.3M764.2 2016.7V1977.1M768.6 1999.1V1937.5M773.0 1946.3V1880.3M777.4 1889.1V1831.9M781.8 1849.5V1770.3M786.2 1787.9V1713.1M790.6 1752.7V1708.7M795.0 1739.5V1691.1M799.4 1735.1V1686.7M803.8 1774.7V1717.5M808.2 1814.3V1752.7M812.6 1884.7V1805.5M817.0 1941.9V1862.7M821.4 1985.9V1919.9M825.8 1994.7V1959.5M830.2 2016.7V1972.7M834.6 2003.5V1963.9M839.0 1994.7V1937.5M843.4 1955.1V1884.7M847.8 1897.9V1831.9M852.2 1845.1V1774.7M856.6 1792.3V1739.5M861.0 1761.5V1713.1M865.4 1739.5V1691.1M869.8 1730.7V1695.5M874.2 1765.9V1708.7M878.6 1805.5V1748.3M883.0 1858.3V1801.1M887.4 1933.1V1853.9M891.8 1963.9V1902.3M896.2 1990.3V1946.3M900.6 2016.7V1963.9M905.0 2021.1V1977.1M909.4 1999.1V1941.9M913.8 1959.5V1884.7M918.2 1897.9V1836.3M922.6 1845.1V1787.9M927.0 1809.9V1748.3M931.4 1774.7V1699.9M935.8 1730.7V1691.1M940.2 1721.9V1686.7M944.6 1757.1V1704.3M949.0 1814.3V1752.7M953.4 1862.7V1787.9M957.8 1902.3V1836.3M962.2 1959.5V1897.9M966.6 1985.9V1937.5M971.0 2012.3V1963.9M975.4 2025.5V1977.1M979.8 1990.3V1955.1M984.2 1972.7V1911.1M988.6 1933.1V1849.5M993.0 1871.5V1801.1M997.4 1809.9V1748.3M1001.8 1765.9V1726.3M1006.2 1743.9V1699.9M1010.6 1721.9V1695.5M1015.0 1757.1V1704.3M1019.4 1801.1V1739.5M1023.8 1867.1V1783.5M1028.2 1897.9V1849.5M1032.6 1955.1V1893.5M1037.0 1985.9V1933.1M1041.4 2021.1V1959.5M1045.8 2016.7V1972.7M1050.2 1999.1V1946.3M1054.6 1977.1V1911.1M1059.0 1933.1V1858.3M1063.4 1871.5V1805.5M1067.8 1818.7V1743.9M1072.2 1761.5V1708.7M1076.6 1730.7V1691.1M1081.0 1735.1V1699.9M1085.4 1748.3V1721.9M1089.8 1801.1V1730.7M1094.2 1840.7V1752.7M1098.6 1897.9V1809.9M1103.0 1941.9V1875.9M1107.4 1985.9V1933.1M1111.8 2021.1V1963.9M1116.2 2021.1V1968.3M1120.6 2003.5V1959.5M1125.0 1977.1V1919.9M1129.4 1946.3V1875.9M1133.8 1884.7V1831.9M1138.2 1836.3V1770.3M1142.6 1779.1V1721.9M1147.0 1739.5V1713.1M1151.4 1743.9V1699.9M1155.8 1748.3V1704.3M1160.2 1765.9V1721.9M1164.6 1814.3V1748.3M1169.0 1893.5V1809.9M1173.4 1933.1V1871.5M1177.8 2003.5V1919.9M1182.2 2003.5V1959.5M1186.6 2025.5V1977.1M1191.0 2021.1V1959.5M1195.4 1985.9V1937.5M1199.8 1955.1V1884.7M1204.2 1897.9V1823.1M1208.6 1845.1V1779.1M1213.0 1792.3V1721.9M1217.4 1748.3V1699.9M1221.8 1730.7V1686.7M1226.2 1730.7V1691.1M1230.6 1774.7V1699.9M1235.0 1823.1V1765.9M1239.4 1875.9V1809.9M1243.8 1919.9V1858.3M1248.2 1968.3V1902.3M1252.6 2007.9V1950.7M1257.0 2021.1V1977.1M1261.4 2003.5V1968.3M1265.8 1990.3V1941.9M1270.2 1963.9V1880.3M1274.6 1897.9V1831.9M1279.0 1849.5V1774.7M1283.4 1792.3V1717.5M1287.8 1743.9V1704.3M1292.2 1730.7V1699.9M1296.6 1735.1V1699.9M1301.0 1757.1V1713.1M1305.4 1805.5V1739.5M1309.8 1858.3V1787.9M1314.2 1919.9V1853.9M1318.6 1972.7V1906.7M1323.0 2016.7V1959.5M1327.4 2021.1V1981.5M1331.8 2012.3V1972.7M1336.2 1985.9V1941.9M1340.6 1959.5V1897.9M1345.0 1911.1V1853.9M1349.4 1862.7V1792.3M1353.8 1805.5V1743.9M1358.2 1765.9V1704.3M1362.6 1748.3V1686.7M1367.0 1726.3V1682.3M1371.4 1757.1V1699.9M1375.8 1805.5V1735.1M1380.2 1880.3V1787.9M1384.6 1928.7V1858.3M1389.0 1950.7V1897.9M1393.4 1985.9V1933.1M1397.8 2025.5V1972.7M1402.2 2025.5V1977.1M1406.6 1994.7V1941.9M1411.0 1959.5V1902.3M1415.4 1915.5V1836.3M1419.8 1853.9V1787.9M1424.2 1801.1V1748.3M1428.6 1770.3V1717.5M1433.0 1730.7V1686.7M1437.4 1730.7V1691.1M1441.8 1748.3V1699.9M1446.2 1796.7V1743.9M1450.6 1862.7V1792.3M1455.0 1911.1V1845.1M1459.4 1959.5V1897.9M1463.8 1994.7V1946.3M1468.2 2012.3V1977.1M1472.6 2016.7V1972.7M1477.0 2003.5V1955.1M1481.4 1968.3V1911.1M1485.8 1924.3V1853.9M1490.2 1893.5V1814.3M1494.6 1823.1V1761.5M1499.0 1765.9V1708.7M1503.4 1761.5V1699.9M1507.8 1735.1V1695.5M1512.2 1743.9V1699.9M1516.6 1787.9V1730.7M1521.0 1840.7V1770.3M1525.4 1902.3V1827.5M1529.8 1955.1V1875.9M1534.2 1985.9V1937.5M1538.6 2007.9V1955.1M1543.0 2012.3V1972.7M1547.4 2003.5V1959.5M1551.8 1985.9V1919.9M1556.2 1937.5V1867.1M1560.6 1875.9V1827.5M1565.0 1836.3V1770.3M1569.4 1779.1V1730.7M1573.8 1743.9V1695.5M1578.2 1713.1V1664.7M1582.6 1748.3V1682.3M1587.0 1787.9V1717.5M1591.4 1836.3V1779.1M1595.8 1897.9V1823.1M1600.2 1946.3V1884.7M1604.6 1990.3V1924.3M1609.0 1999.1V1968.3M1613.4 2016.7V1977.1M1617.8 2003.5V1968.3M1622.2 1985.9V1933.1M1626.6 1946.3V1884.7M1631.0 1902.3V1818.7M1635.4 1836.3V1770.3M1639.8 1787.9V1730.7M1644.2 1743.9V1691.1M1648.6 1721.9V1691.1M1653.0 1743.9V1695.5M1657.4 1765.9V1721.9M1661.8 1823.1V1748.3M1666.2 1884.7V1801.1M1670.6 1928.7V1858.3M1675.0 1977.1V1911.1M1679.4 2007.9V1959.5M1683.8 2029.9V1990.3M1688.2 2029.9V1981.5M1692.6 1999.1V1933.1M1697.0 1959.5V1862.7M1701.4 1893.5V1831.9M1705.8 1836.3V1770.3M1710.2 1787.9V1735.1M1714.6 1743.9V1699.9M1719.0 1721.9V1682.3M1723.4 1730.7V1686.7M1727.8 1765.9V1699.9M1732.2 1809.9V1752.7M1736.6 1871.5V1792.3M1741.0 1924.3V1853.9M1745.4 1972.7V1906.7M1749.8 1990.3V1955.1M1754.2 2012.3V1972.7M1758.6 2016.7V1959.5M1763.0 1985.9V1950.7M1767.4 1959.5V1897.9M1771.8 1915.5V1840.7M1776.2 1871.5V1792.3M1780.6 1818.7V1730.7M1785.0 1761.5V1699.9M1789.4 1726.3V1673.5M1793.8 1735.1V1691.1M1798.2 1761.5V1708.7M1802.6 1818.7V1752.7M1807.0 1862.7V1787.9M1811.4 1924.3V1845.1M1815.8 1968.3V1911.1M1820.2 2012.3V1955.1M1824.6 2025.5V1977.1M1829.0 2012.3V1981.5M1833.4 2016.7V1955.1M1837.8 1977.1V1906.7M1842.2 1919.9V1867.1M1846.6 1875.9V1783.5M1851.0 1809.9V1748.3M1855.4 1761.5V1708.7M1859.8 1726.3V1682.3M1864.2 1743.9V1673.5M1868.6 1743.9V1708.7M1873.0 1792.3V1739.5M1877.4 1840.7V1770.3M1881.8 1902.3V1836.3M1886.2 1955.1V1889.1M1890.6 1990.3V1941.9M1895.0 2007.9V1972.7M1899.4 2012.3V1972.7M1903.8 2003.5V1950.7M1908.2 1985.9V1919.9M1912.6 1933.1V1867.1M1917.0 1871.5V1787.9M1921.4 1818.7V1752.7M1925.8 1770.3V1708.7M1930.2 1735.1V1695.5M1934.6 1739.5V1699.9M1939.0 1748.3V1717.5M1943.4 1801.1V1735.1M1947.8 1840.7V1779.1M1952.2 1893.5V1823.1M1956.6 1955.1V1871.5M1961.0 1990.3V1928.7M1965.4 2016.7V1959.5M1969.8 2016.7V1968.3M1974.2 2007.9V1950.7M1978.6 1981.5V1937.5M1983.0 1946.3V1867.1M1987.4 1884.7V1818.7M1991.8 1836.3V1748.3M1996.2 1770.3V1726.3M2000.6 1735.1V1695.5M2005.0 1726.3V1699.9M2009.4 1743.9V1704.3M2013.8 1783.5V1726.3M2018.2 1831.9V1774.7M2022.6 1875.9V1809.9M2027.0 1950.7V1871.5M2031.4 1985.9V1941.9M2035.8 2003.5V1959.5M2040.2 2021.1V1977.1M2044.6 2007.9V1968.3M2049.0 1994.7V1928.7M2053.4 1937.5V1880.3M2057.8 1893.5V1831.9M2062.2 1845.1V1774.7M2066.6 1783.5V1721.9M2071.0 1748.3V1686.7M2075.4 1717.5V1682.3M2079.8 1735.1V1691.1M2084.2 1765.9V1717.5M2088.6 1818.7V1748.3M2093.0 1871.5V1796.7M2097.4 1933.1V1853.9M2101.8 1972.7V1924.3M2106.2 1990.3V1959.5M2110.6 2003.5V1959.5M2115.0 2007.9V1968.3M2119.4 1999.1V1933.1M2123.8 1950.7V1893.5M2128.2 1915.5V1845.1M2132.6 1858.3V1783.5M2137.0 1801.1V1726.3M2141.4 1757.1V1713.1M2145.8 1730.7V1695.5M2150.2 1739.5V1695.5M2154.6 1787.9V1713.1M2159.0 1827.5V1765.9M2163.4 1875.9V1814.3M2167.8 1941.9V1853.9M2172.2 1959.5V1911.1M2176.6 2012.3V1933.1M2181.0 2003.5V1972.7M2185.4 2007.9V1968.3" stroke="#0000ff" stroke-width="4.70" stroke-linecap="butt"/>
<path d="M196.6 1867.1V1827.5M201.0 1853.9V1823.1M205.4 1871.5V1823.1M209.8 1862.7V1831.9M214.2 1871.5V1823.1M218.6 1871.5V1831.9M223.0 1867.1V1823.1M227.4 1871.5V1845.1M231.8 1880.3V1845.1M236.2 1880.3V1845.1M240.6 1867.1V1831.9M245.0 1858.3V1827.5M249.4 1871.5V1831.9M253.8 1867.1V1836.3M258.2 1875.9V1836.3M262.6 1889.1V1840.7M267.0 1880.3V1836.3M271.4 1867.1V1840.7M275.8 1867.1V1831.9M280.2 1871.5V1827.5M284.6 1862.7V1827.5M289.0 1862.7V1827.5M293.4 1871.5V1836.3M297.8 1884.7V1836.3M302.2 1871.5V1836.3M306.6 1871.5V1831.9M311.0 1889.1V1853.9M315.4 1919.9V1871.5M319.8 1928.7V1893.5M324.2 1933.1V1893.5M328.6 1933.1V1897.9M333.0 1937.5V1893.5M337.4 1919.9V1871.5M341.8 1902.3V1845.1M346.2 1880.3V1849.5M350.6 1867.1V1814.3M355.0 1836.3V1770.3M359.4 1787.9V1730.7M363.8 1748.3V1717.5M368.2 1735.1V1708.7M372.6 1748.3V1713.1M377.0 1783.5V1726.3M381.4 1809.9V1774.7M385.8 1880.3V1801.1M390.2 1937.5V1867.1M394.6 1981.5V1933.1M399.0 1994.7V1955.1M403.4 1999.1V1963.9M407.8 1999.1V1950.7M412.2 1977.1V1928.7M416.6 1950.7V1880.3M421.0 1897.9V1831.9M425.4 1840.7V1774.7M429.8 1801.1V1743.9M434.2 1748.3V1704.3M438.6 1735.1V1686.7M443.0 1739.5V1682.3M447.4 1765.9V1726.3M451.8 1823.1V1748.3M456.2 1871.5V1809.9M460.6 1928.7V1849.5M465.0 1968.3V1911.1M469.4 1999.1V1950.7M473.8 2003.5V1959.5M478.2 1999.1V1959.5M482.6 1977.1V1919.9M487.0 1937.5V1893.5M491.4 1906.7V1849.5M495.8 1853.9V1787.9M500.2 1801.1V1739.5M504.6 1770.3V1713.1M509.0 1743.9V1704.3M513.4 1739.5V1695.5M517.8 1770.3V1721.9M522.2 1823.1V1761.5M526.6 1849.5V1796.7M531.0 1906.7V1831.9M535.4 1972.7V1897.9M539.8 1999.1V1959.5M544.2 2021.1V1955.1M548.6 2007.9V1972.7M553.0 1999.1V1933.1M557.4 1950.7V1902.3M561.8 1911.1V1853.9M566.2 1858.3V1814.3M570.6 1818.7V1761.5M575.0 1770.3V1713.1M579.4 1752.7V1704.3M583.8 1739.5V1695.5M588.2 1757.1V1704.3M592.6 1814.3V1739.5M597.0 1862.7V1792.3M601.4 1902.3V1858.3M605.8 1946.3V1893.5M610.2 1994.7V1937.5M614.6 2012.3V1963.9M619.0 2003.5V1963.9M623.4 1990.3V1955.1M627.8 1959.5V1893.5M632.2 1911.1V1845.1M636.6 1867.1V1805.5M641.0 1831.9V1748.3M645.4 1779.1V1717.5M649.8 1730.7V1695.5M654.2 1726.3V1686.7M658.6 1748.3V1704.3M663.0 1801.1V1739.5M667.4 1849.5V1792.3M671.8 1893.5V1827.5M676.2 1941.9V1875.9M680.6 1981.5V1924.3M685.0 1999.1V1955.1M689.4 2016.7V1963.9M693.8 2007.9V1955.1M698.2 1968.3V1911.1M702.6 1937.5V1862.7M707.0 1884.7V1809.9M711.4 1831.9V1770.3M715.8 1779.1V1726.3M720.2 1752.7V1704.3M724.6 1730.7V1695.5M729.0 1743.9V1699.9M733.4 1792.3V1717.5M737.8 1827.5V1779.1M742.2 1880.3V1809.9M746.6 1933.1V1867.1M751.0 1990.3V1915.5M755.4 1994.7V1963.9M759.8 2007.9V1972.7M764.2 2007.9V1955.1M768.6 1985.9V1928.7M773.0 1937.5V1871.5M777.4 1889.1V1831.9M781.8 1840.7V1770.3M786.2 1787.9V1721.9M790.6 1752.7V1708.7M795.0 1735.1V1699.9M799.4 1743.9V1699.9M803.8 1783.5V1739.5M808.2 1823.1V1770.3M812.6 1862.7V1814.3M817.0 1941.9V1845.1M821.4 1981.5V1919.9M825.8 2007.9V1963.9M830.2 2003.5V1968.3M834.6 1999.1V1963.9M839.0 1977.1V1906.7M843.4 1924.3V1871.5M847.8 1875.9V1818.7M852.2 1831.9V1774.7M856.6 1796.7V1735.1M861.0 1757.1V1713.1M865.4 1752.7V1686.7M869.8 1752.7V1713.1M874.2 1787.9V1730.7M878.6 1831.9V1761.5M883.0 1889.1V1814.3M887.4 1937.5V1867.1M891.8 1968.3V1919.9M896.2 1990.3V1950.7M900.6 1994.7V1955.1M905.0 1999.1V1959.5M909.4 1977.1V1924.3M913.8 1946.3V1889.1M918.2 1906.7V1831.9M922.6 1849.5V1783.5M927.0 1787.9V1743.9M931.4 1770.3V1726.3M935.8 1739.5V1704.3M940.2 1730.7V1691.1M944.6 1761.5V1721.9M949.0 1805.5V1748.3M953.4 1862.7V1796.7M957.8 1915.5V1853.9M962.2 1963.9V1911.1M966.6 1981.5V1924.3M971.0 2012.3V1955.1M975.4 1999.1V1963.9M979.8 1985.9V1933.1M984.2 1950.7V1897.9M988.6 1911.1V1840.7M993.0 1858.3V1779.1M997.4 1805.5V1752.7M1001.8 1765.9V1726.3M1006.2 1757.1V1708.7M1010.6 1748.3V1704.3M1015.0 1765.9V1717.5M1019.4 1823.1V1739.5M1023.8 1862.7V1792.3M1028.2 1911.1V1849.5M1032.6 1955.1V1902.3M1037.0 1994.7V1928.7M1041.4 2021.1V1981.5M1045.8 2025.5V1972.7M1050.2 1994.7V1946.3M1054.6 1955.1V1906.7M1059.0 1915.5V1840.7M1063.4 1862.7V1805.5M1067.8 1818.7V1761.5M1072.2 1770.3V1699.9M1076.6 1739.5V1699.9M1081.0 1743.9V1704.3M1085.4 1748.3V1708.7M1089.8 1814.3V1743.9M1094.2 1831.9V1774.7M1098.6 1906.7V1823.1M1103.0 1950.7V1889.1M1107.4 1985.9V1941.9M1111.8 2003.5V1968.3M1116.2 2012.3V1977.1M1120.6 2003.5V1955.1M1125.0 1968.3V1889.1M1129.4 1924.3V1858.3M1133.8 1871.5V1809.9M1138.2 1827.5V1770.3M1142.6 1796.7V1748.3M1147.0 1757.1V1699.9M1151.4 1726.3V1695.5M1155.8 1743.9V1708.7M1160.2 1787.9V1735.1M1164.6 1840.7V1765.9M1169.0 1889.1V1827.5M1173.4 1941.9V1875.9M1177.8 1990.3V1928.7M1182.2 1994.7V1955.1M1186.6 2003.5V1968.3M1191.0 1999.1V1959.5M1195.4 1972.7V1902.3M1199.8 1928.7V1862.7M1204.2 1893.5V1814.3M1208.6 1840.7V1761.5M1213.0 1779.1V1726.3M1217.4 1739.5V1708.7M1221.8 1735.1V1699.9M1226.2 1748.3V1708.7M1230.6 1783.5V1730.7M1235.0 1836.3V1774.7M1239.4 1884.7V1818.7M1243.8 1933.1V1880.3M1248.2 1968.3V1915.5M1252.6 1985.9V1937.5M1257.0 2003.5V1959.5M1261.4 1994.7V1950.7M1265.8 1977.1V1933.1M1270.2 1941.9V1871.5M1274.6 1897.9V1840.7M1279.0 1845.1V1779.1M1283.4 1787.9V1726.3M1287.8 1743.9V1695.5M1292.2 1730.7V1691.1M1296.6 1752.7V1691.1M1301.0 1783.5V1730.7M1305.4 1818.7V1757.1M1309.8 1871.5V1801.1M1314.2 1941.9V1867.1M1318.6 1968.3V1915.5M1323.0 1994.7V1950.7M1327.4 1994.7V1968.3M1331.8 1999.1V1946.3M1336.2 1985.9V1924.3M1340.6 1950.7V1889.1M1345.0 1902.3V1849.5M1349.4 1858.3V1779.1M1353.8 1796.7V1726.3M1358.2 1761.5V1713.1M1362.6 1730.7V1691.1M1367.0 1739.5V1691.1M1371.4 1770.3V1721.9M1375.8 1823.1V1743.9M1380.2 1867.1V1809.9M1384.6 1941.9V1862.7M1389.0 1972.7V1915.5M1393.4 1990.3V1946.3M1397.8 1994.7V1955.1M1402.2 2003.5V1972.7M1406.6 2003.5V1928.7M1411.0 1950.7V1897.9M1415.4 1928.7V1840.7M1419.8 1853.9V1801.1M1424.2 1809.9V1739.5M1428.6 1774.7V1717.5M1433.0 1743.9V1704.3M1437.4 1739.5V1699.9M1441.8 1761.5V1717.5M1446.2 1814.3V1739.5M1450.6 1853.9V1787.9M1455.0 1897.9V1836.3M1459.4 1950.7V1893.5M1463.8 1994.7V1933.1M1468.2 2003.5V1968.3M1472.6 1999.1V1968.3M1477.0 1990.3V1955.1M1481.4 1972.7V1897.9M1485.8 1915.5V1840.7M1490.2 1853.9V1792.3M1494.6 1814.3V1748.3M1499.0 1779.1V1721.9M1503.4 1743.9V1708.7M1507.8 1739.5V1704.3M1512.2 1752.7V1721.9M1516.6 1787.9V1739.5M1521.0 1853.9V1770.3M1525.4 1902.3V1836.3M1529.8 1933.1V1875.9M1534.2 1981.5V1919.9M1538.6 2003.5V1968.3M1543.0 2012.3V1968.3M1547.4 1994.7V1941.9M1551.8 1955.1V1911.1M1556.2 1946.3V1845.1M1560.6 1867.1V1796.7M1565.0 1818.7V1765.9M1569.4 1783.5V1739.5M1573.8 1752.7V1713.1M1578.2 1739.5V1704.3M1582.6 1743.9V1708.7M1587.0 1779.1V1717.5M1591.4 1836.3V1774.7M1595.8 1893.5V1831.9M1600.2 1946.3V1889.1M1604.6 1972.7V1937.5M1609.0 1990.3V1950.7M1613.4 2025.5V1972.7M1617.8 2012.3V1950.7M1622.2 1968.3V1919.9M1626.6 1941.9V1880.3M1631.0 1884.7V1814.3M1635.4 1827.5V1743.9M1639.8 1770.3V1735.1M1644.2 1748.3V1708.7M1648.6 1730.7V1704.3M1653.0 1748.3V1708.7M1657.4 1792.3V1721.9M1661.8 1831.9V1774.7M1666.2 1884.7V1818.7M1670.6 1924.3V1867.1M1675.0 1985.9V1919.9M1679.4 1999.1V1959.5M1683.8 2007.9V1972.7M1688.2 1990.3V1950.7M1692.6 1981.5V1924.3M1697.0 1937.5V1889.1M1701.4 1897.9V1823.1M1705.8 1840.7V1770.3M1710.2 1796.7V1730.7M1714.6 1743.9V1708.7M1719.0 1743.9V1695.5M1723.4 1739.5V1699.9M1727.8 1783.5V1708.7M1732.2 1818.7V1765.9M1736.6 1867.1V1805.5M1741.0 1941.9V1858.3M1745.4 1968.3V1906.7M1749.8 2012.3V1946.3M1754.2 2007.9V1977.1M1758.6 1999.1V1968.3M1763.0 1985.9V1941.9M1767.4 1950.7V1893.5M1771.8 1911.1V1827.5M1776.2 1840.7V1770.3M1780.6 1796.7V1739.5M1785.0 1757.1V1726.3M1789.4 1743.9V1713.1M1793.8 1752.7V1713.1M1798.2 1765.9V1717.5M1802.6 1809.9V1739.5M1807.0 1862.7V1801.1M1811.4 1919.9V1853.9M1815.8 1963.9V1911.1M1820.2 1977.1V1937.5M1824.6 2012.3V1963.9M1829.0 1999.1V1963.9M1833.4 1981.5V1950.7M1837.8 1963.9V1893.5M1842.2 1919.9V1849.5M1846.6 1875.9V1779.1M1851.0 1805.5V1739.5M1855.4 1757.1V1721.9M1859.8 1743.9V1713.1M1864.2 1752.7V1713.1M1868.6 1774.7V1713.1M1873.0 1805.5V1743.9M1877.4 1858.3V1787.9M1881.8 1915.5V1840.7M1886.2 1968.3V1897.9M1890.6 1990.3V1950.7M1895.0 2003.5V1972.7M1899.4 2003.5V1968.3M1903.8 1999.1V1946.3M1908.2 1977.1V1915.5M1912.6 1919.9V1853.9M1917.0 1867.1V1787.9M1921.4 1814.3V1748.3M1925.8 1757.1V1721.9M1930.2 1739.5V1704.3M1934.6 1752.7V1708.7M1939.0 1765.9V1717.5M1943.4 1801.1V1739.5M1947.8 1849.5V1783.5M1952.2 1915.5V1845.1M1956.6 1955.1V1906.7M1961.0 1985.9V1933.1M1965.4 1999.1V1963.9M1969.8 2012.3V1968.3M1974.2 1999.1V1950.7M1978.6 1972.7V1902.3M1983.0 1941.9V1858.3M1987.4 1871.5V1796.7M1991.8 1836.3V1757.1M1996.2 1770.3V1713.1M2000.6 1757.1V1704.3M2005.0 1743.9V1695.5M2009.4 1765.9V1695.5M2013.8 1801.1V1748.3M2018.2 1836.3V1783.5M2022.6 1884.7V1814.3M2027.0 1950.7V1880.3M2031.4 1977.1V1933.1M2035.8 2003.5V1950.7M2040.2 1999.1V1972.7M2044.6 2007.9V1946.3M2049.0 1977.1V1924.3M2053.4 1937.5V1875.9M2057.8 1880.3V1818.7M2062.2 1845.1V1770.3M2066.6 1783.5V1739.5M2071.0 1757.1V1699.9M2075.4 1730.7V1691.1M2079.8 1752.7V1708.7M2084.2 1783.5V1730.7M2088.6 1836.3V1765.9M2093.0 1889.1V1814.3M2097.4 1955.1V1875.9M2101.8 1972.7V1933.1M2106.2 2007.9V1946.3M2110.6 2007.9V1972.7M2115.0 1999.1V1950.7M2119.4 1977.1V1924.3M2123.8 1933.1V1867.1M2128.2 1889.1V1827.5M2132.6 1849.5V1783.5M2137.0 1787.9V1726.3M2141.4 1748.3V1717.5M2145.8 1752.7V1699.9M2150.2 1735.1V1695.5M2154.6 1783.5V1721.9M2159.0 1818.7V1761.5M2163.4 1880.3V1801.1M2167.8 1915.5V1858.3M2172.2 1972.7V1893.5M2176.6 1999.1V1946.3M2181.0 2016.7V1972.7M2185.4 2003.5V1963.9" stroke="#008000" stroke-width="4.70" stroke-linecap="butt"/>
<path d="M196.6 1862.7V1827.5M201.0 1867.1V1827.5M205.4 1884.7V1831.9M209.8 1880.3V1836.3M214.2 1875.9V1827.5M218.6 1867.1V1831.9M223.0 1871.5V1836.3M227.4 1867.1V1831.9M231.8 1862.7V1836.3M236.2 1889.1V1827.5M240.6 1867.1V1840.7M245.0 1871.5V1831.9M249.4 1871.5V1831.9M253.8 1867.1V1823.1M258.2 1871.5V1836.3M262.6 1867.1V1823.1M267.0 1858.3V1827.5M271.4 1862.7V1823.1M275.8 1862.7V1831.9M280.2 1862.7V1836.3M284.6 1867.1V1827.5M289.0 1862.7V1836.3M293.4 1871.5V1831.9M297.8 1875.9V1840.7M302.2 1867.1V1831.9M306.6 1893.5V1827.5M311.0 1911.1V1875.9M315.4 1919.9V1880.3M319.8 1924.3V1880.3M324.2 1937.5V1880.3M328.6 1928.7V1897.9M333.0 1924.3V1880.3M337.4 1919.9V1884.7M341.8 1897.9V1853.9M346.2 1884.7V1853.9M350.6 1875.9V1796.7M355.0 1818.7V1757.1M359.4 1770.3V1721.9M363.8 1743.9V1695.5M368.2 1730.7V1691.1M372.6 1757.1V1699.9M377.0 1805.5V1739.5M381.4 1845.1V1774.7M385.8 1884.7V1831.9M390.2 1933.1V1867.1M394.6 1972.7V1902.3M399.0 2003.5V1955.1M403.4 2021.1V1972.7M407.8 2012.3V1959.5M412.2 1990.3V1928.7M416.6 1937.5V1853.9M421.0 1871.5V1818.7M425.4 1823.1V1770.3M429.8 1783.5V1708.7M434.2 1752.7V1699.9M438.6 1739.5V1713.1M443.0 1743.9V1708.7M447.4 1779.1V1721.9M451.8 1836.3V1757.1M456.2 1880.3V1814.3M460.6 1933.1V1871.5M465.0 1959.5V1915.5M469.4 2012.3V1955.1M473.8 2007.9V1977.1M478.2 1999.1V1955.1M482.6 1985.9V1933.1M487.0 1955.1V1893.5M491.4 1902.3V1840.7M495.8 1858.3V1792.3M500.2 1796.7V1739.5M504.6 1765.9V1699.9M509.0 1730.7V1695.5M513.4 1739.5V1704.3M517.8 1774.7V1713.1M522.2 1827.5V1757.1M526.6 1875.9V1805.5M531.0 1924.3V1858.3M535.4 1955.1V1902.3M539.8 1999.1V1933.1M544.2 2003.5V1963.9M548.6 2012.3V1946.3M553.0 1985.9V1937.5M557.4 1946.3V1889.1M561.8 1897.9V1827.5M566.2 1849.5V1796.7M570.6 1814.3V1743.9M575.0 1752.7V1713.1M579.4 1743.9V1704.3M583.8 1739.5V1695.5M588.2 1757.1V1721.9M592.6 1809.9V1752.7M597.0 1867.1V1792.3M601.4 1911.1V1849.5M605.8 1968.3V1893.5M610.2 2003.5V1941.9M614.6 1999.1V1963.9M619.0 1999.1V1963.9M623.4 1994.7V1946.3M627.8 1959.5V1902.3M632.2 1915.5V1831.9M636.6 1862.7V1792.3M641.0 1805.5V1752.7M645.4 1787.9V1721.9M649.8 1748.3V1704.3M654.2 1748.3V1708.7M658.6 1761.5V1721.9M663.0 1809.9V1757.1M667.4 1875.9V1792.3M671.8 1915.5V1858.3M676.2 1968.3V1893.5M680.6 1999.1V1950.7M685.0 2016.7V1977.1M689.4 2012.3V1968.3M693.8 1999.1V1937.5M698.2 1959.5V1884.7M702.6 1911.1V1845.1M707.0 1871.5V1796.7M711.4 1814.3V1757.1M715.8 1770.3V1717.5M720.2 1730.7V1691.1M724.6 1739.5V1695.5M729.0 1765.9V1708.7M733.4 1801.1V1743.9M737.8 1858.3V1779.1M742.2 1902.3V1836.3M746.6 1941.9V1862.7M751.0 1972.7V1928.7M755.4 1994.7V1955.1M759.8 1999.1V1946.3M764.2 1999.1V1955.1M768.6 1959.5V1906.7M773.0 1928.7V1867.1M777.4 1889.1V1801.1M781.8 1818.7V1757.1M786.2 1783.5V1730.7M790.6 1752.7V1699.9M795.0 1739.5V1699.9M799.4 1748.3V1713.1M803.8 1801.1V1717.5M808.2 1831.9V1779.1M812.6 1906.7V1814.3M817.0 1950.7V1889.1M821.4 1972.7V1924.3M825.8 1999.1V1959.5M830.2 2007.9V1968.3M834.6 2003.5V1950.7M839.0 1981.5V1933.1M843.4 1950.7V1871.5M847.8 1875.9V1801.1M852.2 1823.1V1757.1M856.6 1783.5V1735.1M861.0 1752.7V1708.7M865.4 1743.9V1708.7M869.8 1765.9V1708.7M874.2 1787.9V1735.1M878.6 1831.9V1761.5M883.0 1884.7V1818.7M887.4 1933.1V1875.9M891.8 1968.3V1915.5M896.2 1994.7V1950.7M900.6 2016.7V1963.9M905.0 2029.9V1959.5M909.4 1981.5V1928.7M913.8 1937.5V1871.5M918.2 1902.3V1823.1M922.6 1827.5V1770.3M927.0 1796.7V1717.5M931.4 1743.9V1699.9M935.8 1735.1V1699.9M940.2 1743.9V1699.9M944.6 1770.3V1721.9M949.0 1809.9V1757.1M953.4 1871.5V1805.5M957.8 1933.1V1849.5M962.2 1968.3V1902.3M966.6 2012.3V1950.7M971.0 2012.3V1981.5M975.4 1999.1V1959.5M979.8 1977.1V1906.7M984.2 1946.3V1902.3M988.6 1911.1V1831.9M993.0 1853.9V1779.1M997.4 1801.1V1752.7M1001.8 1761.5V1699.9M1006.2 1726.3V1699.9M1010.6 1739.5V1695.5M1015.0 1774.7V1721.9M1019.4 1818.7V1757.1M1023.8 1867.1V1787.9M1028.2 1906.7V1840.7M1032.6 1959.5V1902.3M1037.0 2007.9V1941.9M1041.4 2025.5V1977.1M1045.8 2003.5V1950.7M1050.2 1985.9V1950.7M1054.6 1968.3V1889.1M1059.0 1906.7V1836.3M1063.4 1845.1V1796.7M1067.8 1801.1V1743.9M1072.2 1779.1V1717.5M1076.6 1748.3V1713.1M1081.0 1743.9V1708.7M1085.4 1770.3V1717.5M1089.8 1818.7V1752.7M1094.2 1871.5V1792.3M1098.6 1906.7V1853.9M1103.0 1941.9V1902.3M1107.4 1999.1V1928.7M1111.8 2003.5V1963.9M1116.2 2003.5V1955.1M1120.6 1985.9V1941.9M1125.0 1955.1V1906.7M1129.4 1924.3V1858.3M1133.8 1871.5V1801.1M1138.2 1805.5V1757.1M1142.6 1783.5V1708.7M1147.0 1739.5V1691.1M1151.4 1748.3V1691.1M1155.8 1765.9V1721.9M1160.2 1801.1V1752.7M1164.6 1853.9V1770.3M1169.0 1911.1V1827.5M1173.4 1946.3V1880.3M1177.8 1972.7V1924.3M1182.2 2003.5V1946.3M1186.6 2021.1V1968.3M1191.0 2007.9V1941.9M1195.4 1968.3V1902.3M1199.8 1919.9V1849.5M1204.2 1871.5V1805.5M1208.6 1827.5V1770.3M1213.0 1787.9V1726.3M1217.4 1743.9V1708.7M1221.8 1735.1V1691.1M1226.2 1748.3V1695.5M1230.6 1787.9V1730.7M1235.0 1840.7V1779.1M1239.4 1897.9V1827.5M1243.8 1950.7V1889.1M1248.2 1985.9V1928.7M1252.6 2003.5V1959.5M1257.0 2007.9V1959.5M1261.4 2007.9V1959.5M1265.8 1977.1V1915.5M1270.2 1946.3V1871.5M1274.6 1889.1V1823.1M1279.0 1845.1V1774.7M1283.4 1779.1V1717.5M1287.8 1761.5V1699.9M1292.2 1743.9V1708.7M1296.6 1765.9V1708.7M1301.0 1783.5V1735.1M1305.4 1836.3V1765.9M1309.8 1902.3V1814.3M1314.2 1937.5V1875.9M1318.6 1968.3V1915.5M1323.0 1999.1V1941.9M1327.4 2007.9V1959.5M1331.8 2007.9V1959.5M1336.2 1985.9V1919.9M1340.6 1937.5V1880.3M1345.0 1897.9V1805.5M1349.4 1831.9V1761.5M1353.8 1792.3V1726.3M1358.2 1752.7V1695.5M1362.6 1739.5V1682.3M1367.0 1765.9V1708.7M1371.4 1779.1V1726.3M1375.8 1818.7V1748.3M1380.2 1867.1V1805.5M1384.6 1928.7V1853.9M1389.0 1977.1V1915.5M1393.4 1994.7V1950.7M1397.8 1999.1V1963.9M1402.2 2003.5V1955.1M1406.6 1985.9V1933.1M1411.0 1955.1V1880.3M1415.4 1902.3V1827.5M1419.8 1849.5V1801.1M1424.2 1809.9V1735.1M1428.6 1752.7V1704.3M1433.0 1735.1V1686.7M1437.4 1757.1V1686.7M1441.8 1770.3V1721.9M1446.2 1814.3V1743.9M1450.6 1862.7V1801.1M1455.0 1924.3V1845.1M1459.4 1968.3V1897.9M1463.8 1994.7V1937.5M1468.2 2012.3V1977.1M1472.6 2012.3V1963.9M1477.0 1994.7V1933.1M1481.4 1963.9V1893.5M1485.8 1897.9V1836.3M1490.2 1849.5V1774.7M1494.6 1801.1V1739.5M1499.0 1765.9V1721.9M1503.4 1739.5V1682.3M1507.8 1726.3V1691.1M1512.2 1770.3V1708.7M1516.6 1805.5V1752.7M1521.0 1862.7V1801.1M1525.4 1924.3V1853.9M1529.8 1955.1V1897.9M1534.2 1994.7V1933.1M1538.6 2021.1V1972.7M1543.0 2003.5V1968.3M1547.4 1994.7V1941.9M1551.8 1963.9V1902.3M1556.2 1919.9V1853.9M1560.6 1858.3V1805.5M1565.0 1814.3V1748.3M1569.4 1765.9V1713.1M1573.8 1735.1V1695.5M1578.2 1748.3V1713.1M1582.6 1752.7V1717.5M1587.0 1801.1V1743.9M1591.4 1858.3V1783.5M1595.8 1915.5V1831.9M1600.2 1950.7V1884.7M1604.6 1985.9V1941.9M1609.0 2007.9V1959.5M1613.4 2016.7V1963.9M1617.8 1994.7V1937.5M1622.2 1963.9V1919.9M1626.6 1937.5V1862.7M1631.0 1880.3V1809.9M1635.4 1827.5V1757.1M1639.8 1783.5V1730.7M1644.2 1739.5V1695.5M1648.6 1739.5V1677.9M1653.0 1752.7V1713.1M1657.4 1792.3V1739.5M1661.8 1836.3V1779.1M1666.2 1889.1V1818.7M1670.6 1946.3V1880.3M1675.0 1981.5V1919.9M1679.4 2012.3V1963.9M1683.8 1999.1V1959.5M1688.2 2007.9V1950.7M1692.6 1977.1V1911.1M1697.0 1937.5V1871.5M1701.4 1875.9V1796.7M1705.8 1823.1V1757.1M1710.2 1783.5V1726.3M1714.6 1752.7V1699.9M1719.0 1735.1V1699.9M1723.4 1743.9V1699.9M1727.8 1779.1V1730.7M1732.2 1827.5V1770.3M1736.6 1889.1V1809.9M1741.0 1946.3V1880.3M1745.4 1972.7V1924.3M1749.8 2007.9V1955.1M1754.2 2007.9V1950.7M1758.6 1981.5V1937.5M1763.0 1977.1V1928.7M1767.4 1946.3V1884.7M1771.8 1911.1V1809.9M1776.2 1827.5V1757.1M1780.6 1792.3V1730.7M1785.0 1752.7V1708.7M1789.4 1748.3V1691.1M1793.8 1748.3V1704.3M1798.2 1774.7V1730.7M1802.6 1823.1V1761.5M1807.0 1867.1V1805.5M1811.4 1924.3V1845.1M1815.8 1972.7V1911.1M1820.2 1994.7V1950.7M1824.6 2003.5V1963.9M1829.0 1994.7V1959.5M1833.4 1990.3V1915.5M1837.8 1937.5V1880.3M1842.2 1906.7V1836.3M1846.6 1845.1V1783.5M1851.0 1792.3V1726.3M1855.4 1743.9V1704.3M1859.8 1730.7V1699.9M1864.2 1752.7V1708.7M1868.6 1765.9V1717.5M1873.0 1809.9V1757.1M1877.4 1867.1V1796.7M1881.8 1933.1V1862.7M1886.2 1963.9V1902.3M1890.6 2003.5V1950.7M1895.0 2012.3V1972.7M1899.4 2007.9V1963.9M1903.8 1985.9V1937.5M1908.2 1950.7V1897.9M1912.6 1902.3V1814.3M1917.0 1836.3V1770.3M1921.4 1787.9V1735.1M1925.8 1743.9V1713.1M1930.2 1739.5V1686.7M1934.6 1739.5V1695.5M1939.0 1761.5V1713.1M1943.4 1801.1V1739.5M1947.8 1862.7V1779.1M1952.2 1915.5V1836.3M1956.6 1955.1V1897.9M1961.0 1994.7V1937.5M1965.4 2021.1V1968.3M1969.8 2012.3V1968.3M1974.2 2003.5V1937.5M1978.6 1955.1V1906.7M1983.0 1933.1V1849.5M1987.4 1867.1V1792.3M1991.8 1818.7V1765.9M1996.2 1774.7V1717.5M2000.6 1752.7V1699.9M2005.0 1743.9V1704.3M2009.4 1757.1V1713.1M2013.8 1814.3V1735.1M2018.2 1858.3V1801.1M2022.6 1906.7V1845.1M2027.0 1955.1V1889.1M2031.4 1985.9V1933.1M2035.8 1999.1V1968.3M2040.2 2007.9V1959.5M2044.6 1981.5V1946.3M2049.0 2012.3V1911.1M2053.4 1937.5V1858.3M2057.8 1884.7V1823.1M2062.2 1831.9V1765.9M2066.6 1783.5V1730.7M2071.0 1743.9V1695.5M2075.4 1721.9V1686.7M2079.8 1770.3V1713.1M2084.2 1796.7V1739.5M2088.6 1823.1V1774.7M2093.0 1902.3V1814.3M2097.4 1950.7V1875.9M2101.8 1985.9V1924.3M2106.2 2016.7V1959.5M2110.6 2007.9V1968.3M2115.0 2003.5V1946.3M2119.4 1959.5V1911.1M2123.8 1933.1V1871.5M2128.2 1884.7V1818.7M2132.6 1827.5V1765.9M2137.0 1779.1V1717.5M2141.4 1748.3V1713.1M2145.8 1735.1V1691.1M2150.2 1757.1V1708.7M2154.6 1792.3V1726.3M2159.0 1840.7V1774.7M2163.4 1884.7V1823.1M2167.8 1950.7V1871.5M2172.2 1972.7V1919.9M2176.6 1999.1V1959.5M2181.0 2012.3V1968.3M2185.4 1999.1V1955.1" stroke="#ff0000" stroke-width="4.70" stroke-linecap="butt"/>
<path d="M196.6 1871.5V1831.9M201.0 1884.7V1836.3M205.4 1871.5V1827.5M209.8 1867.1V1831.9M214.2 1867.1V1831.9M218.6 1871.5V1827.5M223.0 1871.5V1836.3M227.4 1875.9V1831.9M231.8 1867.1V1831.9M236.2 1853.9V1818.7M240.6 1871.5V1814.3M245.0 1867.1V1836.3M249.4 1871.5V1831.9M253.8 1875.9V1827.5M258.2 1867.1V1827.5M262.6 1871.5V1827.5M267.0 1875.9V1827.5M271.4 1867.1V1836.3M275.8 1871.5V1827.5M280.2 1884.7V1831.9M284.6 1867.1V1836.3M289.0 1875.9V1831.9M293.4 1862.7V1836.3M297.8 1875.9V1831.9M302.2 1867.1V1827.5M306.6 1875.9V1840.7M311.0 1893.5V1853.9M315.4 1906.7V1867.1M319.8 1928.7V1875.9M324.2 1933.1V1893.5M328.6 1933.1V1897.9M333.0 1924.3V1893.5M337.4 1924.3V1867.1M341.8 1906.7V1862.7M346.2 1893.5V1836.3M350.6 1880.3V1827.5M355.0 1836.3V1770.3M359.4 1783.5V1730.7M363.8 1743.9V1695.5M368.2 1717.5V1686.7M372.6 1748.3V1704.3M377.0 1779.1V1730.7M381.4 1831.9V1765.9M385.8 1884.7V1818.7M390.2 1941.9V1862.7M394.6 1985.9V1928.7M399.0 2007.9V1959.5M403.4 2021.1V1959.5M407.8 1999.1V1959.5M412.2 1985.9V1924.3M416.6 1950.7V1875.9M421.0 1897.9V1823.1M425.4 1831.9V1779.1M429.8 1792.3V1735.1M434.2 1757.1V1708.7M438.6 1730.7V1691.1M443.0 1735.1V1695.5M447.4 1757.1V1704.3M451.8 1827.5V1743.9M456.2 1871.5V1801.1M460.6 1928.7V1867.1M465.0 1972.7V1911.1M469.4 1994.7V1937.5M473.8 2025.5V1968.3M478.2 2029.9V1968.3M482.6 1985.9V1950.7M487.0 1963.9V1906.7M491.4 1911.1V1840.7M495.8 1853.9V1796.7M500.2 1809.9V1748.3M504.6 1761.5V1708.7M509.0 1739.5V1691.1M513.4 1726.3V1686.7M517.8 1752.7V1695.5M522.2 1796.7V1739.5M526.6 1858.3V1774.7M531.0 1911.1V1849.5M535.4 1955.1V1906.7M539.8 1994.7V1937.5M544.2 2016.7V1981.5M548.6 2012.3V1963.9M553.0 1994.7V1941.9M557.4 1968.3V1915.5M561.8 1919.9V1836.3M566.2 1853.9V1805.5M570.6 1814.3V1757.1M575.0 1770.3V1704.3M579.4 1730.7V1686.7M583.8 1730.7V1682.3M588.2 1765.9V1708.7M592.6 1805.5V1739.5M597.0 1845.1V1792.3M601.4 1911.1V1840.7M605.8 1955.1V1897.9M610.2 1990.3V1950.7M614.6 2021.1V1972.7M619.0 2012.3V1963.9M623.4 1994.7V1946.3M627.8 1968.3V1915.5M632.2 1928.7V1853.9M636.6 1858.3V1801.1M641.0 1818.7V1752.7M645.4 1761.5V1717.5M649.8 1743.9V1708.7M654.2 1726.3V1686.7M658.6 1752.7V1708.7M663.0 1787.9V1726.3M667.4 1845.1V1783.5M671.8 1906.7V1827.5M676.2 1937.5V1889.1M680.6 1994.7V1933.1M685.0 2025.5V1963.9M689.4 2029.9V1990.3M693.8 2007.9V1963.9M698.2 1977.1V1915.5M702.6 1941.9V1853.9M707.0 1880.3V1805.5M711.4 1818.7V1761.5M715.8 1774.7V1726.3M720.2 1743.9V1695.5M724.6 1730.7V1691.1M729.0 1761.5V1704.3M733.4 1796.7V1735.1M737.8 1831.9V1765.9M742.2 1897.9V1818.7M746.6 1955.1V1889.1M751.0 1977.1V1928.7M755.4 2003.5V1963.9M759.8 2012.3V1977.1M764.2 1999.1V1963.9M768.6 1985.9V1933.1M773.0 1946.3V1880.3M777.4 1889.1V1814.3M781.8 1827.5V1770.3M786.2 1783.5V1708.7M790.6 1743.9V1704.3M795.0 1730.7V1699.9M799.4 1748.3V1695.5M803.8 1774.7V1726.3M808.2 1831.9V1752.7M812.6 1897.9V1818.7M817.0 1919.9V1871.5M821.4 1985.9V1915.5M825.8 2003.5V1968.3M830.2 2007.9V1972.7M834.6 2007.9V1963.9M839.0 1977.1V1928.7M843.4 1955.1V1880.3M847.8 1897.9V1831.9M852.2 1836.3V1774.7M856.6 1801.1V1739.5M861.0 1761.5V1699.9M865.4 1739.5V1699.9M869.8 1739.5V1699.9M874.2 1757.1V1699.9M878.6 1818.7V1752.7M883.0 1880.3V1805.5M887.4 1933.1V1853.9M891.8 1972.7V1915.5M896.2 2003.5V1955.1M900.6 2016.7V1985.9M905.0 2016.7V1977.1M909.4 1994.7V1946.3M913.8 1959.5V1867.1M918.2 1893.5V1831.9M922.6 1849.5V1792.3M927.0 1814.3V1735.1M931.4 1752.7V1699.9M935.8 1735.1V1695.5M940.2 1739.5V1691.1M944.6 1761.5V1713.1M949.0 1823.1V1743.9M953.4 1853.9V1801.1M957.8 1911.1V1849.5M962.2 1963.9V1897.9M966.6 1999.1V1955.1M971.0 2007.9V1972.7M975.4 2012.3V1977.1M979.8 1999.1V1946.3M984.2 1968.3V1893.5M988.6 1911.1V1858.3M993.0 1871.5V1796.7M997.4 1814.3V1739.5M1001.8 1757.1V1713.1M1006.2 1730.7V1699.9M1010.6 1735.1V1686.7M1015.0 1761.5V1699.9M1019.4 1805.5V1735.1M1023.8 1862.7V1796.7M1028.2 1911.1V1840.7M1032.6 1955.1V1880.3M1037.0 1994.7V1946.3M1041.4 2021.1V1968.3M1045.8 2012.3V1972.7M1050.2 2003.5V1963.9M1054.6 1972.7V1919.9M1059.0 1928.7V1853.9M1063.4 1862.7V1801.1M1067.8 1840.7V1735.1M1072.2 1761.5V1708.7M1076.6 1739.5V1699.9M1081.0 1735.1V1691.1M1085.4 1743.9V1704.3M1089.8 1796.7V1726.3M1094.2 1853.9V1774.7M1098.6 1906.7V1836.3M1103.0 1955.1V1889.1M1107.4 1985.9V1933.1M1111.8 2016.7V1968.3M1116.2 2016.7V1968.3M1120.6 2012.3V1955.1M1125.0 1981.5V1924.3M1129.4 1937.5V1858.3M1133.8 1875.9V1818.7M1138.2 1836.3V1761.5M1142.6 1770.3V1726.3M1147.0 1735.1V1691.1M1151.4 1730.7V1699.9M1155.8 1735.1V1704.3M1160.2 1787.9V1708.7M1164.6 1827.5V1770.3M1169.0 1902.3V1823.1M1173.4 1937.5V1880.3M1177.8 1990.3V1915.5M1182.2 1999.1V1968.3M1186.6 2007.9V1972.7M1191.0 2007.9V1968.3M1195.4 1981.5V1933.1M1199.8 1955.1V1875.9M1204.2 1889.1V1809.9M1208.6 1823.1V1748.3M1213.0 1779.1V1717.5M1217.4 1748.3V1704.3M1221.8 1726.3V1686.7M1226.2 1748.3V1686.7M1230.6 1787.9V1721.9M1235.0 1831.9V1761.5M1239.4 1880.3V1805.5M1243.8 1937.5V1853.9M1248.2 1972.7V1924.3M1252.6 2016.7V1963.9M1257.0 2025.5V1981.5M1261.4 2021.1V1981.5M1265.8 1994.7V1941.9M1270.2 1950.7V1875.9M1274.6 1911.1V1823.1M1279.0 1836.3V1774.7M1283.4 1792.3V1739.5M1287.8 1752.7V1708.7M1292.2 1730.7V1691.1M1296.6 1743.9V1699.9M1301.0 1774.7V1726.3M1305.4 1823.1V1748.3M1309.8 1880.3V1809.9M1314.2 1933.1V1862.7M1318.6 1981.5V1928.7M1323.0 1999.1V1955.1M1327.4 2016.7V1963.9M1331.8 2025.5V1985.9M1336.2 1999.1V1933.1M1340.6 1959.5V1884.7M1345.0 1906.7V1849.5M1349.4 1858.3V1792.3M1353.8 1796.7V1735.1M1358.2 1748.3V1704.3M1362.6 1735.1V1695.5M1367.0 1739.5V1695.5M1371.4 1757.1V1708.7M1375.8 1805.5V1748.3M1380.2 1862.7V1792.3M1384.6 1928.7V1849.5M1389.0 1955.1V1902.3M1393.4 2003.5V1946.3M1397.8 2025.5V1963.9M1402.2 2021.1V1981.5M1406.6 1994.7V1950.7M1411.0 1963.9V1893.5M1415.4 1919.9V1858.3M1419.8 1862.7V1774.7M1424.2 1801.1V1739.5M1428.6 1774.7V1717.5M1433.0 1739.5V1691.1M1437.4 1735.1V1695.5M1441.8 1757.1V1695.5M1446.2 1796.7V1743.9M1450.6 1871.5V1783.5M1455.0 1919.9V1862.7M1459.4 1955.1V1911.1M1463.8 1999.1V1937.5M1468.2 2016.7V1972.7M1472.6 2025.5V1981.5M1477.0 2016.7V1955.1M1481.4 1963.9V1902.3M1485.8 1915.5V1853.9M1490.2 1858.3V1796.7M1494.6 1801.1V1757.1M1499.0 1783.5V1726.3M1503.4 1739.5V1691.1M1507.8 1730.7V1686.7M1512.2 1752.7V1691.1M1516.6 1792.3V1735.1M1521.0 1845.1V1787.9M1525.4 1906.7V1831.9M1529.8 1950.7V1875.9M1534.2 1977.1V1937.5M1538.6 2012.3V1963.9M1543.0 2016.7V1972.7M1547.4 2007.9V1959.5M1551.8 1985.9V1911.1M1556.2 1928.7V1862.7M1560.6 1884.7V1801.1M1565.0 1818.7V1757.1M1569.4 1770.3V1695.5M1573.8 1730.7V1686.7M1578.2 1730.7V1695.5M1582.6 1752.7V1708.7M1587.0 1779.1V1721.9M1591.4 1840.7V1770.3M1595.8 1893.5V1823.1M1600.2 1933.1V1871.5M1604.6 1999.1V1911.1M1609.0 1999.1V1950.7M1613.4 2021.1V1977.1M1617.8 2012.3V1959.5M1622.2 1977.1V1919.9M1626.6 1928.7V1871.5M1631.0 1884.7V1805.5M1635.4 1836.3V1761.5M1639.8 1796.7V1721.9M1644.2 1730.7V1704.3M1648.6 1726.3V1686.7M1653.0 1735.1V1699.9M1657.4 1761.5V1713.1M1661.8 1836.3V1757.1M1666.2 1875.9V1823.1M1670.6 1937.5V1849.5M1675.0 1985.9V1924.3M1679.4 1999.1V1950.7M1683.8 2007.9V1959.5M1688.2 2007.9V1981.5M1692.6 1990.3V1924.3M1697.0 1937.5V1884.7M1701.4 1889.1V1831.9M1705.8 1836.3V1779.1M1710.2 1787.9V1721.9M1714.6 1748.3V1695.5M1719.0 1730.7V1686.7M1723.4 1735.1V1699.9M1727.8 1779.1V1713.1M1732.2 1823.1V1757.1M1736.6 1871.5V1805.5M1741.0 1941.9V1862.7M1745.4 1963.9V1915.5M1749.8 2003.5V1946.3M1754.2 2012.3V1977.1M1758.6 2012.3V1968.3M1763.0 2007.9V1950.7M1767.4 1963.9V1880.3M1771.8 1897.9V1836.3M1776.2 1845.1V1783.5M1780.6 1796.7V1730.7M1785.0 1743.9V1699.9M1789.4 1735.1V1673.5M1793.8 1730.7V1695.5M1798.2 1770.3V1699.9M1802.6 1814.3V1761.5M1807.0 1871.5V1805.5M1811.4 1924.3V1862.7M1815.8 1959.5V1906.7M1820.2 2007.9V1946.3M1824.6 2025.5V1981.5M1829.0 2012.3V1981.5M1833.4 2003.5V1928.7M1837.8 1963.9V1897.9M1842.2 1928.7V1845.1M1846.6 1858.3V1801.1M1851.0 1805.5V1726.3M1855.4 1752.7V1695.5M1859.8 1726.3V1686.7M1864.2 1739.5V1695.5M1868.6 1765.9V1721.9M1873.0 1792.3V1743.9M1877.4 1871.5V1779.1M1881.8 1911.1V1853.9M1886.2 1981.5V1906.7M1890.6 1999.1V1937.5M1895.0 2016.7V1968.3M1899.4 2016.7V1977.1M1903.8 1990.3V1950.7M1908.2 1972.7V1915.5M1912.6 1933.1V1862.7M1917.0 1871.5V1801.1M1921.4 1809.9V1735.1M1925.8 1757.1V1717.5M1930.2 1739.5V1699.9M1934.6 1726.3V1691.1M1939.0 1757.1V1691.1M1943.4 1801.1V1735.1M1947.8 1840.7V1787.9M1952.2 1902.3V1827.5M1956.6 1959.5V1893.5M1961.0 1994.7V1937.5M1965.4 2012.3V1968.3M1969.8 2007.9V1977.1M1974.2 1999.1V1946.3M1978.6 1968.3V1906.7M1983.0 1933.1V1862.7M1987.4 1875.9V1814.3M1991.8 1823.1V1748.3M1996.2 1779.1V1717.5M2000.6 1739.5V1695.5M2005.0 1739.5V1695.5M2009.4 1743.9V1708.7M2013.8 1783.5V1739.5M2018.2 1858.3V1761.5M2022.6 1893.5V1836.3M2027.0 1937.5V1889.1M2031.4 1990.3V1928.7M2035.8 2016.7V1959.5M2040.2 2003.5V1963.9M2044.6 1994.7V1941.9M2049.0 1977.1V1937.5M2053.4 1955.1V1880.3M2057.8 1897.9V1823.1M2062.2 1831.9V1757.1M2066.6 1774.7V1721.9M2071.0 1770.3V1708.7M2075.4 1739.5V1699.9M2079.8 1739.5V1699.9M2084.2 1783.5V1717.5M2088.6 1831.9V1770.3M2093.0 1893.5V1809.9M2097.4 1941.9V1867.1M2101.8 1981.5V1906.7M2106.2 2007.9V1963.9M2110.6 2003.5V1968.3M2115.0 2007.9V1959.5M2119.4 1981.5V1924.3M2123.8 1950.7V1889.1M2128.2 1897.9V1827.5M2132.6 1849.5V1770.3M2137.0 1796.7V1730.7M2141.4 1752.7V1699.9M2145.8 1730.7V1691.1M2150.2 1748.3V1695.5M2154.6 1774.7V1726.3M2159.0 1805.5V1739.5M2163.4 1880.3V1801.1M2167.8 1946.3V1853.9M2172.2 1968.3V1919.9M2176.6 2016.7V1946.3M2181.0 2021.1V1985.9M2185.4 2029.9V1977.1" stroke="#00bfbf" stroke-width="4.70" stroke-linecap="butt"/>
<path d="M196.6 1884.7V1836.3M201.0 1871.5V1845.1M205.4 1871.5V1827.5M209.8 1875.9V1831.9M214.2 1875.9V1836.3M218.6 1871.5V1827.5M223.0 1867.1V1836.3M227.4 1875.9V1840.7M231.8 1884.7V1840.7M236.2 1858.3V1827.5M240.6 1880.3V1831.9M245.0 1867.1V1831.9M249.4 1884.7V1827.5M253.8 1862.7V1823.1M258.2 1875.9V1840.7M262.6 1858.3V1818.7M267.0 1880.3V1831.9M271.4 1867.1V1823.1M275.8 1862.7V1831.9M280.2 1880.3V1845.1M284.6 1884.7V1840.7M289.0 1880.3V1836.3M293.4 1867.1V1818.7M297.8 1862.7V1823.1M302.2 1862.7V1827.5M306.6 1880.3V1836.3M311.0 1893.5V1845.1M315.4 1924.3V1862.7M319.8 1928.7V1875.9M324.2 1933.1V1889.1M328.6 1928.7V1897.9M333.0 1919.9V1884.7M337.4 1928.7V1884.7M341.8 1919.9V1862.7M346.2 1897.9V1853.9M350.6 1875.9V1831.9M355.0 1840.7V1787.9M359.4 1809.9V1721.9M363.8 1757.1V1708.7M368.2 1735.1V1699.9M372.6 1748.3V1704.3M377.0 1774.7V1721.9M381.4 1818.7V1748.3M385.8 1889.1V1792.3M390.2 1928.7V1867.1M394.6 1963.9V1911.1M399.0 1994.7V1941.9M403.4 1999.1V1959.5M407.8 2012.3V1968.3M412.2 1985.9V1941.9M416.6 1977.1V1884.7M421.0 1902.3V1840.7M425.4 1845.1V1774.7M429.8 1823.1V1739.5M434.2 1761.5V1713.1M438.6 1743.9V1695.5M443.0 1739.5V1708.7M447.4 1774.7V1713.1M451.8 1827.5V1752.7M456.2 1867.1V1787.9M460.6 1915.5V1831.9M465.0 1959.5V1897.9M469.4 1994.7V1924.3M473.8 2021.1V1963.9M478.2 2016.7V1972.7M482.6 1994.7V1950.7M487.0 1963.9V1897.9M491.4 1915.5V1849.5M495.8 1871.5V1814.3M500.2 1818.7V1739.5M504.6 1770.3V1726.3M509.0 1761.5V1708.7M513.4 1748.3V1704.3M517.8 1761.5V1717.5M522.2 1796.7V1743.9M526.6 1875.9V1792.3M531.0 1906.7V1831.9M535.4 1941.9V1889.1M539.8 1985.9V1933.1M544.2 2012.3V1946.3M548.6 2007.9V1968.3M553.0 2012.3V1950.7M557.4 1959.5V1915.5M561.8 1937.5V1858.3M566.2 1875.9V1796.7M570.6 1823.1V1757.1M575.0 1770.3V1717.5M579.4 1735.1V1695.5M583.8 1730.7V1699.9M588.2 1757.1V1721.9M592.6 1796.7V1743.9M597.0 1840.7V1770.3M601.4 1902.3V1823.1M605.8 1955.1V1893.5M610.2 1985.9V1937.5M614.6 2007.9V1950.7M619.0 2007.9V1963.9M623.4 1999.1V1955.1M627.8 1977.1V1919.9M632.2 1955.1V1862.7M636.6 1880.3V1809.9M641.0 1831.9V1770.3M645.4 1792.3V1721.9M649.8 1735.1V1704.3M654.2 1748.3V1699.9M658.6 1752.7V1704.3M663.0 1774.7V1726.3M667.4 1823.1V1765.9M671.8 1884.7V1792.3M676.2 1941.9V1875.9M680.6 1985.9V1915.5M685.0 2003.5V1955.1M689.4 2003.5V1968.3M693.8 2003.5V1946.3M698.2 1981.5V1919.9M702.6 1941.9V1871.5M707.0 1893.5V1818.7M711.4 1836.3V1779.1M715.8 1792.3V1726.3M720.2 1739.5V1686.7M724.6 1735.1V1695.5M729.0 1739.5V1695.5M733.4 1792.3V1730.7M737.8 1840.7V1757.1M742.2 1889.1V1818.7M746.6 1946.3V1867.1M751.0 1972.7V1924.3M755.4 1999.1V1950.7M759.8 2016.7V1972.7M764.2 2003.5V1955.1M768.6 1994.7V1915.5M773.0 1933.1V1884.7M777.4 1911.1V1845.1M781.8 1853.9V1770.3M786.2 1783.5V1739.5M790.6 1757.1V1717.5M795.0 1743.9V1695.5M799.4 1739.5V1699.9M803.8 1770.3V1717.5M808.2 1809.9V1748.3M812.6 1871.5V1805.5M817.0 1924.3V1862.7M821.4 1972.7V1915.5M825.8 2007.9V1959.5M830.2 2016.7V1977.1M834.6 2038.7V1968.3M839.0 2003.5V1937.5M843.4 1963.9V1889.1M847.8 1911.1V1827.5M852.2 1849.5V1783.5M856.6 1801.1V1748.3M861.0 1770.3V1717.5M865.4 1739.5V1708.7M869.8 1743.9V1695.5M874.2 1783.5V1721.9M878.6 1823.1V1752.7M883.0 1871.5V1796.7M887.4 1937.5V1853.9M891.8 1968.3V1897.9M896.2 1990.3V1937.5M900.6 2021.1V1963.9M905.0 2003.5V1972.7M909.4 1994.7V1933.1M913.8 1963.9V1897.9M918.2 1915.5V1840.7M922.6 1862.7V1801.1M927.0 1814.3V1748.3M931.4 1779.1V1695.5M935.8 1748.3V1699.9M940.2 1748.3V1691.1M944.6 1765.9V1717.5M949.0 1814.3V1757.1M953.4 1858.3V1792.3M957.8 1902.3V1836.3M962.2 1950.7V1889.1M966.6 1990.3V1933.1M971.0 2021.1V1972.7M975.4 2021.1V1972.7M979.8 2003.5V1955.1M984.2 1972.7V1919.9M988.6 1928.7V1849.5M993.0 1867.1V1814.3M997.4 1831.9V1752.7M1001.8 1765.9V1726.3M1006.2 1757.1V1695.5M1010.6 1730.7V1695.5M1015.0 1743.9V1704.3M1019.4 1801.1V1739.5M1023.8 1831.9V1783.5M1028.2 1893.5V1814.3M1032.6 1963.9V1880.3M1037.0 1981.5V1919.9M1041.4 2007.9V1955.1M1045.8 2016.7V1972.7M1050.2 1994.7V1933.1M1054.6 1963.9V1919.9M1059.0 1946.3V1858.3M1063.4 1867.1V1792.3M1067.8 1809.9V1770.3M1072.2 1779.1V1721.9M1076.6 1761.5V1713.1M1081.0 1739.5V1708.7M1085.4 1757.1V1708.7M1089.8 1809.9V1743.9M1094.2 1853.9V1783.5M1098.6 1911.1V1836.3M1103.0 1941.9V1889.1M1107.4 1981.5V1915.5M1111.8 1994.7V1963.9M1116.2 2003.5V1972.7M1120.6 2003.5V1950.7M1125.0 1972.7V1902.3M1129.4 1941.9V1875.9M1133.8 1889.1V1818.7M1138.2 1836.3V1774.7M1142.6 1796.7V1730.7M1147.0 1752.7V1699.9M1151.4 1735.1V1708.7M1155.8 1748.3V1699.9M1160.2 1792.3V1721.9M1164.6 1827.5V1770.3M1169.0 1897.9V1809.9M1173.4 1928.7V1871.5M1177.8 1981.5V1911.1M1182.2 1999.1V1963.9M1186.6 2007.9V1955.1M1191.0 1990.3V1950.7M1195.4 1994.7V1941.9M1199.8 1950.7V1889.1M1204.2 1915.5V1831.9M1208.6 1849.5V1774.7M1213.0 1792.3V1743.9M1217.4 1765.9V1721.9M1221.8 1743.9V1708.7M1226.2 1752.7V1708.7M1230.6 1765.9V1730.7M1235.0 1814.3V1748.3M1239.4 1862.7V1792.3M1243.8 1915.5V1849.5M1248.2 1968.3V1897.9M1252.6 2003.5V1950.7M1257.0 2012.3V1977.1M1261.4 2016.7V1963.9M1265.8 1990.3V1928.7M1270.2 1946.3V1902.3M1274.6 1911.1V1849.5M1279.0 1858.3V1801.1M1283.4 1823.1V1748.3M1287.8 1774.7V1704.3M1292.2 1726.3V1699.9M1296.6 1730.7V1686.7M1301.0 1765.9V1708.7M1305.4 1805.5V1757.1M1309.8 1858.3V1783.5M1314.2 1915.5V1849.5M1318.6 1968.3V1884.7M1323.0 1981.5V1946.3M1327.4 1999.1V1963.9M1331.8 2007.9V1972.7M1336.2 2007.9V1937.5M1340.6 1972.7V1893.5M1345.0 1902.3V1849.5M1349.4 1867.1V1787.9M1353.8 1809.9V1735.1M1358.2 1752.7V1713.1M1362.6 1739.5V1691.1M1367.0 1743.9V1704.3M1371.4 1779.1V1708.7M1375.8 1823.1V1748.3M1380.2 1875.9V1796.7M1384.6 1911.1V1836.3M1389.0 1968.3V1906.7M1393.4 1994.7V1950.7M1397.8 2016.7V1963.9M1402.2 2003.5V1963.9M1406.6 1990.3V1950.7M1411.0 1963.9V1915.5M1415.4 1924.3V1853.9M1419.8 1867.1V1796.7M1424.2 1801.1V1748.3M1428.6 1770.3V1721.9M1433.0 1743.9V1713.1M1437.4 1743.9V1695.5M1441.8 1779.1V1708.7M1446.2 1805.5V1735.1M1450.6 1849.5V1792.3M1455.0 1893.5V1836.3M1459.4 1941.9V1875.9M1463.8 1981.5V1919.9M1468.2 1999.1V1959.5M1472.6 1999.1V1963.9M1477.0 1994.7V1946.3M1481.4 1968.3V1897.9M1485.8 1933.1V1858.3M1490.2 1875.9V1814.3M1494.6 1831.9V1779.1M1499.0 1783.5V1726.3M1503.4 1743.9V1699.9M1507.8 1735.1V1682.3M1512.2 1743.9V1704.3M1516.6 1792.3V1739.5M1521.0 1840.7V1783.5M1525.4 1897.9V1814.3M1529.8 1946.3V1871.5M1534.2 1999.1V1928.7M1538.6 2016.7V1968.3M1543.0 2025.5V1981.5M1547.4 1994.7V1950.7M1551.8 1968.3V1919.9M1556.2 1928.7V1875.9M1560.6 1889.1V1818.7M1565.0 1831.9V1770.3M1569.4 1787.9V1726.3M1573.8 1752.7V1699.9M1578.2 1735.1V1704.3M1582.6 1761.5V1708.7M1587.0 1801.1V1730.7M1591.4 1831.9V1774.7M1595.8 1875.9V1809.9M1600.2 1924.3V1871.5M1604.6 1994.7V1911.1M1609.0 1994.7V1950.7M1613.4 2003.5V1955.1M1617.8 2007.9V1955.1M1622.2 1990.3V1919.9M1626.6 1937.5V1884.7M1631.0 1906.7V1818.7M1635.4 1831.9V1765.9M1639.8 1783.5V1721.9M1644.2 1752.7V1695.5M1648.6 1743.9V1686.7M1653.0 1739.5V1708.7M1657.4 1801.1V1721.9M1661.8 1827.5V1770.3M1666.2 1884.7V1809.9M1670.6 1928.7V1871.5M1675.0 1981.5V1919.9M1679.4 2003.5V1959.5M1683.8 2021.1V1977.1M1688.2 2003.5V1968.3M1692.6 1990.3V1941.9M1697.0 1963.9V1889.1M1701.4 1915.5V1831.9M1705.8 1853.9V1779.1M1710.2 1792.3V1748.3M1714.6 1761.5V1713.1M1719.0 1730.7V1686.7M1723.4 1757.1V1695.5M1727.8 1783.5V1730.7M1732.2 1814.3V1757.1M1736.6 1871.5V1779.1M1741.0 1919.9V1845.1M1745.4 1959.5V1884.7M1749.8 1999.1V1946.3M1754.2 2003.5V1968.3M1758.6 2007.9V1959.5M1763.0 1990.3V1928.7M1767.4 1959.5V1893.5M1771.8 1902.3V1853.9M1776.2 1867.1V1787.9M1780.6 1801.1V1735.1M1785.0 1757.1V1708.7M1789.4 1739.5V1691.1M1793.8 1743.9V1704.3M1798.2 1770.3V1717.5M1802.6 1792.3V1748.3M1807.0 1853.9V1787.9M1811.4 1906.7V1845.1M1815.8 1955.1V1893.5M1820.2 1985.9V1928.7M1824.6 2003.5V1963.9M1829.0 2003.5V1955.1M1833.4 1985.9V1950.7M1837.8 1972.7V1893.5M1842.2 1919.9V1853.9M1846.6 1871.5V1801.1M1851.0 1814.3V1748.3M1855.4 1765.9V1730.7M1859.8 1748.3V1699.9M1864.2 1739.5V1699.9M1868.6 1765.9V1717.5M1873.0 1796.7V1748.3M1877.4 1853.9V1774.7M1881.8 1902.3V1840.7M1886.2 1946.3V1889.1M1890.6 1994.7V1924.3M1895.0 2007.9V1968.3M1899.4 2003.5V1959.5M1903.8 1985.9V1924.3M1908.2 1950.7V1897.9M1912.6 1928.7V1845.1M1917.0 1875.9V1814.3M1921.4 1836.3V1761.5M1925.8 1783.5V1713.1M1930.2 1739.5V1708.7M1934.6 1743.9V1691.1M1939.0 1765.9V1713.1M1943.4 1805.5V1735.1M1947.8 1831.9V1779.1M1952.2 1893.5V1814.3M1956.6 1937.5V1875.9M1961.0 1985.9V1919.9M1965.4 2007.9V1955.1M1969.8 2021.1V1972.7M1974.2 2012.3V1959.5M1978.6 1977.1V1906.7M1983.0 1924.3V1862.7M1987.4 1884.7V1818.7M1991.8 1845.1V1779.1M1996.2 1801.1V1739.5M2000.6 1757.1V1704.3M2005.0 1730.7V1686.7M2009.4 1752.7V1695.5M2013.8 1783.5V1721.9M2018.2 1836.3V1752.7M2022.6 1893.5V1814.3M2027.0 1933.1V1880.3M2031.4 1972.7V1915.5M2035.8 2007.9V1950.7M2040.2 2012.3V1977.1M2044.6 2012.3V1950.7M2049.0 1968.3V1915.5M2053.4 1946.3V1880.3M2057.8 1906.7V1831.9M2062.2 1836.3V1774.7M2066.6 1792.3V1726.3M2071.0 1761.5V1699.9M2075.4 1730.7V1682.3M2079.8 1730.7V1704.3M2084.2 1783.5V1721.9M2088.6 1809.9V1752.7M2093.0 1862.7V1796.7M2097.4 1919.9V1849.5M2101.8 1963.9V1893.5M2106.2 1994.7V1946.3M2110.6 2003.5V1959.5M2115.0 1999.1V1963.9M2119.4 1981.5V1928.7M2123.8 1946.3V1893.5M2128.2 1919.9V1831.9M2132.6 1853.9V1783.5M2137.0 1805.5V1721.9M2141.4 1748.3V1704.3M2145.8 1735.1V1699.9M2150.2 1739.5V1704.3M2154.6 1774.7V1708.7M2159.0 1827.5V1770.3M2163.4 1858.3V1801.1M2167.8 1924.3V1845.1M2172.2 1963.9V1906.7M2176.6 2003.5V1941.9M2181.0 2007.9V1968.3M2185.4 1994.7V1941.9" stroke="#bf00bf" stroke-width="4.70" stroke-linecap="butt"/>
<path d="M196.6 1862.7V1823.1M201.0 1875.9V1840.7M205.4 1867.1V1836.3M209.8 1867.1V1831.9M214.2 1871.5V1827.5M218.6 1867.1V1827.5M223.0 1871.5V1840.7M227.4 1858.3V1827.5M231.8 1871.5V1836.3M236.2 1858.3V1831.9M240.6 1867.1V1840.7M245.0 1871.5V1840.7M249.4 1867.1V1840.7M253.8 1867.1V1836.3M258.2 1867.1V1831.9M262.6 1867.1V1836.3M267.0 1880.3V1836.3M271.4 1875.9V1836.3M275.8 1871.5V1831.9M280.2 1867.1V1831.9M284.6 1871.5V1823.1M289.0 1880.3V1840.7M293.4 1884.7V1845.1M297.8 1880.3V1840.7M302.2 1871.5V1831.9M306.6 1880.3V1836.3M311.0 1893.5V1862.7M315.4 1911.1V1867.1M319.8 1924.3V1889.1M324.2 1933.1V1897.9M328.6 1924.3V1897.9M333.0 1928.7V1893.5M337.4 1933.1V1889.1M341.8 1911.1V1867.1M346.2 1889.1V1862.7M350.6 1884.7V1818.7M355.0 1831.9V1779.1M359.4 1792.3V1730.7M363.8 1743.9V1713.1M368.2 1730.7V1695.5M372.6 1739.5V1695.5M377.0 1792.3V1726.3M381.4 1818.7V1770.3M385.8 1897.9V1805.5M390.2 1937.5V1884.7M394.6 1972.7V1919.9M399.0 2016.7V1968.3M403.4 2003.5V1977.1M407.8 1990.3V1946.3M412.2 1977.1V1928.7M416.6 1946.3V1893.5M421.0 1915.5V1827.5M425.4 1840.7V1779.1M429.8 1792.3V1735.1M434.2 1765.9V1721.9M438.6 1735.1V1699.9M443.0 1743.9V1717.5M447.4 1765.9V1726.3M451.8 1818.7V1748.3M456.2 1880.3V1801.1M460.6 1941.9V1871.5M465.0 1959.5V1919.9M469.4 1999.1V1955.1M473.8 2003.5V1959.5M478.2 1990.3V1950.7M482.6 1972.7V1937.5M487.0 1955.1V1902.3M491.4 1906.7V1831.9M495.8 1836.3V1774.7M500.2 1809.9V1748.3M504.6 1770.3V1708.7M509.0 1735.1V1704.3M513.4 1735.1V1708.7M517.8 1796.7V1717.5M522.2 1814.3V1774.7M526.6 1875.9V1801.1M531.0 1911.1V1849.5M535.4 1963.9V1902.3M539.8 1994.7V1950.7M544.2 2003.5V1963.9M548.6 2003.5V1963.9M553.0 1990.3V1946.3M557.4 1959.5V1897.9M561.8 1902.3V1849.5M566.2 1853.9V1796.7M570.6 1805.5V1761.5M575.0 1770.3V1717.5M579.4 1739.5V1699.9M583.8 1743.9V1699.9M588.2 1765.9V1717.5M592.6 1814.3V1748.3M597.0 1858.3V1796.7M601.4 1915.5V1845.1M605.8 1946.3V1897.9M610.2 1985.9V1937.5M614.6 1994.7V1968.3M619.0 2003.5V1959.5M623.4 1994.7V1946.3M627.8 1963.9V1915.5M632.2 1919.9V1831.9M636.6 1871.5V1801.1M641.0 1814.3V1761.5M645.4 1774.7V1721.9M649.8 1743.9V1708.7M654.2 1735.1V1699.9M658.6 1739.5V1708.7M663.0 1792.3V1726.3M667.4 1849.5V1774.7M671.8 1889.1V1827.5M676.2 1946.3V1884.7M680.6 1990.3V1928.7M685.0 2007.9V1959.5M689.4 2003.5V1972.7M693.8 1994.7V1955.1M698.2 1972.7V1915.5M702.6 1928.7V1853.9M707.0 1875.9V1809.9M711.4 1818.7V1765.9M715.8 1779.1V1730.7M720.2 1748.3V1691.1M724.6 1735.1V1699.9M729.0 1739.5V1704.3M733.4 1765.9V1721.9M737.8 1836.3V1761.5M742.2 1893.5V1823.1M746.6 1963.9V1871.5M751.0 1981.5V1933.1M755.4 1990.3V1963.9M759.8 1999.1V1968.3M764.2 1994.7V1959.5M768.6 1977.1V1928.7M773.0 1946.3V1867.1M777.4 1875.9V1814.3M781.8 1840.7V1770.3M786.2 1779.1V1730.7M790.6 1748.3V1717.5M795.0 1730.7V1699.9M799.4 1735.1V1708.7M803.8 1774.7V1721.9M808.2 1836.3V1770.3M812.6 1871.5V1823.1M817.0 1941.9V1858.3M821.4 1963.9V1924.3M825.8 2003.5V1959.5M830.2 2007.9V1977.1M834.6 2003.5V1963.9M839.0 1985.9V1924.3M843.4 1955.1V1880.3M847.8 1889.1V1836.3M852.2 1840.7V1770.3M856.6 1792.3V1752.7M861.0 1757.1V1699.9M865.4 1735.1V1691.1M869.8 1752.7V1704.3M874.2 1770.3V1726.3M878.6 1827.5V1761.5M883.0 1871.5V1814.3M887.4 1928.7V1867.1M891.8 1959.5V1906.7M896.2 1994.7V1941.9M900.6 1994.7V1963.9M905.0 2012.3V1972.7M909.4 1990.3V1937.5M913.8 1946.3V1884.7M918.2 1906.7V1831.9M922.6 1853.9V1792.3M927.0 1796.7V1735.1M931.4 1757.1V1717.5M935.8 1726.3V1695.5M940.2 1735.1V1704.3M944.6 1774.7V1717.5M949.0 1814.3V1757.1M953.4 1853.9V1787.9M957.8 1911.1V1845.1M962.2 1963.9V1902.3M966.6 1990.3V1959.5M971.0 2016.7V1977.1M975.4 2007.9V1968.3M979.8 1999.1V1941.9M984.2 1950.7V1897.9M988.6 1902.3V1831.9M993.0 1849.5V1792.3M997.4 1801.1V1743.9M1001.8 1757.1V1704.3M1006.2 1739.5V1699.9M1010.6 1743.9V1704.3M1015.0 1752.7V1704.3M1019.4 1805.5V1739.5M1023.8 1862.7V1796.7M1028.2 1906.7V1836.3M1032.6 1959.5V1897.9M1037.0 1999.1V1950.7M1041.4 2016.7V1977.1M1045.8 2007.9V1972.7M1050.2 1999.1V1955.1M1054.6 1972.7V1906.7M1059.0 1915.5V1858.3M1063.4 1867.1V1796.7M1067.8 1809.9V1748.3M1072.2 1770.3V1713.1M1076.6 1748.3V1699.9M1081.0 1726.3V1686.7M1085.4 1757.1V1708.7M1089.8 1801.1V1739.5M1094.2 1845.1V1783.5M1098.6 1897.9V1840.7M1103.0 1963.9V1893.5M1107.4 1981.5V1924.3M1111.8 2003.5V1963.9M1116.2 2021.1V1985.9M1120.6 2012.3V1946.3M1125.0 1972.7V1919.9M1129.4 1937.5V1871.5M1133.8 1875.9V1818.7M1138.2 1823.1V1752.7M1142.6 1774.7V1721.9M1147.0 1748.3V1704.3M1151.4 1739.5V1699.9M1155.8 1748.3V1695.5M1160.2 1787.9V1730.7M1164.6 1853.9V1774.7M1169.0 1906.7V1823.1M1173.4 1937.5V1884.7M1177.8 1977.1V1919.9M1182.2 2007.9V1955.1M1186.6 2003.5V1977.1M1191.0 2007.9V1963.9M1195.4 1981.5V1911.1M1199.8 1933.1V1853.9M1204.2 1880.3V1827.5M1208.6 1836.3V1765.9M1213.0 1792.3V1739.5M1217.4 1748.3V1704.3M1221.8 1730.7V1699.9M1226.2 1735.1V1708.7M1230.6 1779.1V1721.9M1235.0 1836.3V1765.9M1239.4 1889.1V1818.7M1243.8 1946.3V1884.7M1248.2 1972.7V1919.9M1252.6 1994.7V1950.7M1257.0 2012.3V1981.5M1261.4 1999.1V1959.5M1265.8 1981.5V1933.1M1270.2 1950.7V1893.5M1274.6 1897.9V1827.5M1279.0 1831.9V1770.3M1283.4 1787.9V1735.1M1287.8 1748.3V1717.5M1292.2 1739.5V1691.1M1296.6 1743.9V1699.9M1301.0 1770.3V1721.9M1305.4 1827.5V1752.7M1309.8 1889.1V1805.5M1314.2 1924.3V1875.9M1318.6 1963.9V1911.1M1323.0 1994.7V1950.7M1327.4 2003.5V1977.1M1331.8 1994.7V1959.5M1336.2 1985.9V1933.1M1340.6 1946.3V1871.5M1345.0 1902.3V1827.5M1349.4 1853.9V1779.1M1353.8 1801.1V1743.9M1358.2 1752.7V1704.3M1362.6 1726.3V1695.5M1367.0 1739.5V1699.9M1371.4 1765.9V1708.7M1375.8 1818.7V1752.7M1380.2 1867.1V1801.1M1384.6 1924.3V1853.9M1389.0 1963.9V1906.7M1393.4 1990.3V1946.3M1397.8 2007.9V1977.1M1402.2 2012.3V1955.1M1406.6 1981.5V1941.9M1411.0 1959.5V1893.5M1415.4 1911.1V1845.1M1419.8 1849.5V1779.1M1424.2 1787.9V1735.1M1428.6 1761.5V1713.1M1433.0 1735.1V1704.3M1437.4 1735.1V1695.5M1441.8 1765.9V1713.1M1446.2 1805.5V1743.9M1450.6 1862.7V1792.3M1455.0 1906.7V1849.5M1459.4 1959.5V1897.9M1463.8 1994.7V1946.3M1468.2 2003.5V1968.3M1472.6 1994.7V1972.7M1477.0 1985.9V1941.9M1481.4 1955.1V1889.1M1485.8 1911.1V1845.1M1490.2 1862.7V1809.9M1494.6 1818.7V1761.5M1499.0 1770.3V1721.9M1503.4 1735.1V1704.3M1507.8 1743.9V1708.7M1512.2 1752.7V1717.5M1516.6 1801.1V1726.3M1521.0 1858.3V1787.9M1525.4 1897.9V1840.7M1529.8 1955.1V1889.1M1534.2 1990.3V1933.1M1538.6 1999.1V1972.7M1543.0 2007.9V1972.7M1547.4 1990.3V1941.9M1551.8 1963.9V1924.3M1556.2 1933.1V1849.5M1560.6 1875.9V1818.7M1565.0 1831.9V1770.3M1569.4 1774.7V1717.5M1573.8 1739.5V1704.3M1578.2 1735.1V1704.3M1582.6 1757.1V1704.3M1587.0 1796.7V1739.5M1591.4 1845.1V1792.3M1595.8 1906.7V1827.5M1600.2 1941.9V1893.5M1604.6 1985.9V1933.1M1609.0 1999.1V1959.5M1613.4 1999.1V1972.7M1617.8 1999.1V1950.7M1622.2 1972.7V1915.5M1626.6 1924.3V1853.9M1631.0 1875.9V1827.5M1635.4 1836.3V1761.5M1639.8 1774.7V1721.9M1644.2 1752.7V1699.9M1648.6 1726.3V1695.5M1653.0 1743.9V1699.9M1657.4 1796.7V1726.3M1661.8 1827.5V1770.3M1666.2 1880.3V1809.9M1670.6 1928.7V1867.1M1675.0 1972.7V1919.9M1679.4 1999.1V1955.1M1683.8 2012.3V1977.1M1688.2 1990.3V1959.5M1692.6 1977.1V1933.1M1697.0 1946.3V1875.9M1701.4 1889.1V1827.5M1705.8 1840.7V1770.3M1710.2 1779.1V1735.1M1714.6 1752.7V1704.3M1719.0 1743.9V1699.9M1723.4 1743.9V1713.1M1727.8 1774.7V1713.1M1732.2 1809.9V1757.1M1736.6 1871.5V1801.1M1741.0 1924.3V1867.1M1745.4 1977.1V1915.5M1749.8 1985.9V1946.3M1754.2 2007.9V1963.9M1758.6 1999.1V1968.3M1763.0 1981.5V1941.9M1767.4 1955.1V1889.1M1771.8 1915.5V1840.7M1776.2 1845.1V1787.9M1780.6 1805.5V1748.3M1785.0 1761.5V1726.3M1789.4 1743.9V1704.3M1793.8 1739.5V1708.7M1798.2 1765.9V1717.5M1802.6 1831.9V1752.7M1807.0 1862.7V1805.5M1811.4 1915.5V1853.9M1815.8 1963.9V1902.3M1820.2 1990.3V1955.1M1824.6 2012.3V1981.5M1829.0 2007.9V1972.7M1833.4 1990.3V1946.3M1837.8 1955.1V1889.1M1842.2 1911.1V1827.5M1846.6 1858.3V1783.5M1851.0 1805.5V1743.9M1855.4 1770.3V1717.5M1859.8 1735.1V1695.5M1864.2 1735.1V1704.3M1868.6 1757.1V1726.3M1873.0 1809.9V1748.3M1877.4 1862.7V1792.3M1881.8 1911.1V1853.9M1886.2 1959.5V1897.9M1890.6 1994.7V1950.7M1895.0 2007.9V1963.9M1899.4 2012.3V1972.7M1903.8 1999.1V1937.5M1908.2 1963.9V1893.5M1912.6 1906.7V1858.3M1917.0 1871.5V1805.5M1921.4 1818.7V1752.7M1925.8 1765.9V1717.5M1930.2 1735.1V1695.5M1934.6 1730.7V1691.1M1939.0 1757.1V1717.5M1943.4 1796.7V1739.5M1947.8 1849.5V1783.5M1952.2 1906.7V1845.1M1956.6 1950.7V1902.3M1961.0 1990.3V1937.5M1965.4 1999.1V1959.5M1969.8 2003.5V1963.9M1974.2 1999.1V1959.5M1978.6 1972.7V1906.7M1983.0 1919.9V1849.5M1987.4 1867.1V1818.7M1991.8 1831.9V1761.5M1996.2 1774.7V1717.5M2000.6 1743.9V1699.9M2005.0 1726.3V1691.1M2009.4 1757.1V1708.7M2013.8 1792.3V1726.3M2018.2 1836.3V1765.9M2022.6 1897.9V1831.9M2027.0 1946.3V1880.3M2031.4 1972.7V1928.7M2035.8 2007.9V1959.5M2040.2 1999.1V1972.7M2044.6 1985.9V1950.7M2049.0 1972.7V1919.9M2053.4 1933.1V1862.7M2057.8 1889.1V1814.3M2062.2 1827.5V1774.7M2066.6 1783.5V1730.7M2071.0 1743.9V1717.5M2075.4 1735.1V1699.9M2079.8 1739.5V1699.9M2084.2 1783.5V1721.9M2088.6 1823.1V1770.3M2093.0 1880.3V1814.3M2097.4 1924.3V1862.7M2101.8 1968.3V1919.9M2106.2 2012.3V1959.5M2110.6 2003.5V1968.3M2115.0 1990.3V1959.5M2119.4 1972.7V1924.3M2123.8 1933.1V1875.9M2128.2 1902.3V1836.3M2132.6 1858.3V1765.9M2137.0 1779.1V1726.3M2141.4 1752.7V1713.1M2145.8 1735.1V1704.3M2150.2 1739.5V1699.9M2154.6 1783.5V1717.5M2159.0 1823.1V1765.9M2163.4 1871.5V1796.7M2167.8 1928.7V1858.3M2172.2 1968.3V1915.5M2176.6 1990.3V1950.7M2181.0 2016.7V1977.1M2185.4 2012.3V1972.7" stroke="#636363" stroke-width="4.70" stroke-linecap="butt"/>
</g>
<text x="196.9" y="2197.3" text-anchor="middle">0</text>
<text x="416.0" y="2197.3" text-anchor="middle">10</text>
<text x="637.6" y="2197.3" text-anchor="middle">20</text>
<text x="859.3" y="2197.3" text-anchor="middle">30</text>
<text x="1080.9" y="2197.3" text-anchor="middle">40</text>
<text x="1302.5" y="2197.3" text-anchor="middle">50</text>
<text x="1524.1" y="2197.3" text-anchor="middle">60</text>
<text x="1745.8" y="2197.3" text-anchor="middle">70</text>
<text x="1967.4" y="2197.3" text-anchor="middle">80</text>
<text x="2189.0" y="2197.3" text-anchor="middle">90</text>
<text x="181.1" y="2152.5" text-anchor="end">-20</text>
<text x="181.1" y="2013.1" text-anchor="end">-10</text>
<text x="181.1" y="1873.8" text-anchor="end">0</text>
<text x="181.1" y="1734.4" text-anchor="end">10</text>
<text x="181.1" y="1595.0" text-anchor="end">20</text>
<text transform="translate(62.0 1853.9) rotate(-90)" text-anchor="middle">Rate (deg/s)</text>
<rect x="1683.0" y="1582.0" width="473.5" height="91.3" fill="#fff" stroke="#000" stroke-width="4.5"/>
<path d="M1709.8 1626.0H1859.7" stroke="#0000ff" stroke-width="3.8" fill="none"/>
<text transform="translate(1873.6 1651.9) scale(0.9750 1.0600)">Gyro array</text>
<clipPath id="clipB2"><rect x="202.7" y="2238.5" width="1990.8" height="578.9"/></clipPath>
<path d="M419.5 2817.4V2793.9M419.5 2238.5V2262.0M640.7 2817.4V2793.9M640.7 2238.5V2262.0M861.9 2817.4V2793.9M861.9 2238.5V2262.0M1083.1 2817.4V2793.9M1083.1 2238.5V2262.0M1304.2 2817.4V2793.9M1304.2 2238.5V2262.0M1525.4 2817.4V2793.9M1525.4 2238.5V2262.0M1746.6 2817.4V2793.9M1746.6 2238.5V2262.0M1967.8 2817.4V2793.9M1967.8 2238.5V2262.0M200.5 2672.7H220.5M2189.5 2672.7H2169.5M200.5 2527.9H220.5M2189.5 2527.9H2169.5M200.5 2383.2H220.5M2189.5 2383.2H2169.5" stroke="#000" stroke-width="4.5" fill="none"/>
<rect x="200.5" y="2238.5" width="1989.0" height="578.9" fill="none" stroke="#000" stroke-width="4.5"/>
<g clip-path="url(#clipB2)" fill="none" stroke-linejoin="miter" stroke-linecap="square">
<path d="M200.5 2526.7V2522.3M204.9 2531.1V2522.3M209.3 2531.1V2522.3M213.7 2531.1V2522.3M218.1 2526.7V2522.3M222.5 2526.7V2517.9M226.9 2526.7V2517.9M231.3 2531.1V2522.3M235.7 2531.1V2522.3M240.1 2531.1V2517.9M244.5 2526.7V2517.9M248.9 2526.7V2517.9M253.3 2526.7V2513.5M257.7 2526.7V2517.9M262.1 2531.1V2517.9M266.5 2526.7V2522.3M270.9 2526.7V2522.3M275.3 2526.7V2517.9M279.7 2526.7V2517.9M284.1 2526.7V2517.9M288.5 2531.1V2522.3M292.9 2526.7V2517.9M297.3 2526.7V2517.9M301.7 2531.1V2522.3M306.1 2526.7V2517.9M310.5 2539.9V2517.9M314.9 2561.9V2535.5M319.3 2579.5V2557.5M323.7 2583.9V2575.1M328.1 2592.7V2579.5M332.5 2592.7V2583.9M336.9 2588.3V2579.5M341.3 2583.9V2566.3M345.7 2570.7V2548.7M350.1 2553.1V2531.1M354.5 2535.5V2495.9M358.9 2500.3V2447.5M363.3 2451.9V2407.9M367.7 2412.3V2385.9M372.1 2390.3V2381.5M376.5 2412.3V2385.9M380.9 2451.9V2407.9M385.3 2504.7V2447.5M389.7 2561.9V2500.3M394.1 2619.1V2557.5M398.5 2649.9V2614.7M402.9 2667.5V2645.5M407.3 2671.9V2663.1M411.7 2671.9V2649.9M416.1 2654.3V2610.3M420.5 2614.7V2557.5M424.9 2561.9V2500.3M429.3 2504.7V2451.9M433.7 2456.3V2412.3M438.1 2416.7V2385.9M442.5 2390.3V2381.5M446.9 2403.5V2381.5M451.3 2443.1V2399.1M455.7 2495.9V2438.7M460.1 2553.1V2491.5M464.5 2601.5V2548.7M468.9 2645.5V2597.1M473.3 2671.9V2641.1M477.7 2680.7V2667.5M482.1 2676.3V2649.9M486.5 2654.3V2610.3M490.9 2614.7V2561.9M495.3 2566.3V2513.5M499.7 2517.9V2456.3M504.1 2460.7V2416.7M508.5 2421.1V2385.9M512.9 2390.3V2377.1M517.3 2403.5V2381.5M521.7 2438.7V2399.1M526.1 2487.1V2434.3M530.5 2544.3V2482.7M534.9 2597.1V2539.9M539.3 2636.7V2592.7M543.7 2667.5V2632.3M548.1 2680.7V2663.1M552.5 2676.3V2658.7M556.9 2663.1V2619.1M561.3 2623.5V2570.7M565.7 2575.1V2513.5M570.1 2517.9V2460.7M574.5 2465.1V2416.7M578.9 2421.1V2390.3M583.3 2394.7V2381.5M587.7 2403.5V2381.5M592.1 2438.7V2399.1M596.5 2478.3V2434.3M600.9 2531.1V2473.9M605.3 2588.3V2526.7M609.7 2632.3V2583.9M614.1 2663.1V2627.9M618.5 2676.3V2658.7M622.9 2676.3V2654.3M627.3 2658.7V2627.9M631.7 2632.3V2579.5M636.1 2583.9V2526.7M640.5 2531.1V2465.1M644.9 2469.5V2421.1M649.3 2425.5V2394.7M653.7 2399.1V2381.5M658.1 2394.7V2381.5M662.5 2425.5V2390.3M666.9 2473.9V2421.1M671.3 2526.7V2469.5M675.7 2583.9V2522.3M680.1 2636.7V2579.5M684.5 2667.5V2632.3M688.9 2671.9V2663.1M693.3 2671.9V2658.7M697.7 2663.1V2627.9M702.1 2632.3V2583.9M706.5 2588.3V2535.5M710.9 2539.9V2478.3M715.3 2482.7V2425.5M719.7 2429.9V2394.7M724.1 2399.1V2385.9M728.5 2394.7V2381.5M732.9 2421.1V2390.3M737.3 2469.5V2416.7M741.7 2517.9V2465.1M746.1 2575.1V2513.5M750.5 2623.5V2570.7M754.9 2658.7V2619.1M759.3 2671.9V2654.3M763.7 2671.9V2663.1M768.1 2667.5V2636.7M772.5 2641.1V2592.7M776.9 2597.1V2535.5M781.3 2539.9V2478.3M785.7 2482.7V2429.9M790.1 2434.3V2399.1M794.5 2403.5V2381.5M798.9 2394.7V2377.1M803.3 2421.1V2390.3M807.7 2460.7V2416.7M812.1 2509.1V2456.3M816.5 2566.3V2504.7M820.9 2619.1V2561.9M825.3 2654.3V2614.7M829.7 2671.9V2649.9M834.1 2676.3V2663.1M838.5 2667.5V2641.1M842.9 2645.5V2597.1M847.3 2601.5V2544.3M851.7 2548.7V2482.7M856.1 2487.1V2434.3M860.5 2438.7V2399.1M864.9 2403.5V2381.5M869.3 2390.3V2377.1M873.7 2421.1V2381.5M878.1 2456.3V2416.7M882.5 2504.7V2451.9M886.9 2566.3V2500.3M891.3 2619.1V2561.9M895.7 2649.9V2614.7M900.1 2671.9V2645.5M904.5 2676.3V2663.1M908.9 2667.5V2645.5M913.3 2649.9V2601.5M917.7 2605.9V2553.1M922.1 2557.5V2491.5M926.5 2495.9V2443.1M930.9 2447.5V2403.5M935.3 2407.9V2385.9M939.7 2390.3V2381.5M944.1 2407.9V2381.5M948.5 2447.5V2403.5M952.9 2500.3V2443.1M957.3 2557.5V2495.9M961.7 2610.3V2553.1M966.1 2649.9V2605.9M970.5 2671.9V2645.5M974.9 2671.9V2663.1M979.3 2671.9V2645.5M983.7 2649.9V2610.3M988.1 2614.7V2557.5M992.5 2561.9V2504.7M996.9 2509.1V2451.9M1001.3 2456.3V2407.9M1005.7 2412.3V2385.9M1010.1 2390.3V2381.5M1014.5 2407.9V2385.9M1018.9 2443.1V2403.5M1023.3 2491.5V2438.7M1027.7 2553.1V2487.1M1032.1 2601.5V2548.7M1036.5 2645.5V2597.1M1040.9 2671.9V2641.1M1045.3 2676.3V2667.5M1049.7 2676.3V2654.3M1054.1 2658.7V2610.3M1058.5 2614.7V2566.3M1062.9 2570.7V2513.5M1067.3 2517.9V2456.3M1071.7 2460.7V2412.3M1076.1 2416.7V2385.9M1080.5 2390.3V2381.5M1084.9 2407.9V2385.9M1089.3 2438.7V2403.5M1093.7 2482.7V2434.3M1098.1 2539.9V2478.3M1102.5 2597.1V2535.5M1106.9 2641.1V2592.7M1111.3 2667.5V2636.7M1115.7 2676.3V2663.1M1120.1 2676.3V2658.7M1124.5 2663.1V2619.1M1128.9 2623.5V2570.7M1133.3 2575.1V2517.9M1137.7 2522.3V2469.5M1142.1 2473.9V2416.7M1146.5 2421.1V2390.3M1150.9 2394.7V2377.1M1155.3 2399.1V2377.1M1159.7 2434.3V2394.7M1164.1 2478.3V2429.9M1168.5 2535.5V2473.9M1172.9 2592.7V2531.1M1177.3 2636.7V2588.3M1181.7 2663.1V2632.3M1186.1 2676.3V2658.7M1190.5 2676.3V2663.1M1194.9 2667.5V2627.9M1199.3 2632.3V2579.5M1203.7 2583.9V2526.7M1208.1 2531.1V2469.5M1212.5 2473.9V2425.5M1216.9 2429.9V2394.7M1221.3 2399.1V2381.5M1225.7 2399.1V2381.5M1230.1 2425.5V2394.7M1234.5 2469.5V2421.1M1238.9 2526.7V2465.1M1243.3 2583.9V2522.3M1247.7 2632.3V2579.5M1252.1 2663.1V2627.9M1256.5 2671.9V2658.7M1260.9 2671.9V2658.7M1265.3 2663.1V2632.3M1269.7 2636.7V2583.9M1274.1 2588.3V2526.7M1278.5 2531.1V2473.9M1282.9 2478.3V2429.9M1287.3 2434.3V2394.7M1291.7 2399.1V2381.5M1296.1 2390.3V2381.5M1300.5 2416.7V2385.9M1304.9 2469.5V2412.3M1309.3 2517.9V2465.1M1313.7 2570.7V2513.5M1318.1 2623.5V2566.3M1322.5 2663.1V2619.1M1326.9 2676.3V2658.7M1331.3 2676.3V2663.1M1335.7 2667.5V2636.7M1340.1 2641.1V2592.7M1344.5 2597.1V2539.9M1348.9 2544.3V2478.3M1353.3 2482.7V2429.9M1357.7 2434.3V2399.1M1362.1 2403.5V2381.5M1366.5 2390.3V2381.5M1370.9 2421.1V2385.9M1375.3 2460.7V2416.7M1379.7 2517.9V2456.3M1384.1 2575.1V2513.5M1388.5 2623.5V2570.7M1392.9 2654.3V2619.1M1397.3 2671.9V2649.9M1401.7 2676.3V2667.5M1406.1 2671.9V2641.1M1410.5 2645.5V2597.1M1414.9 2601.5V2544.3M1419.3 2548.7V2491.5M1423.7 2495.9V2438.7M1428.1 2443.1V2399.1M1432.5 2403.5V2381.5M1436.9 2394.7V2381.5M1441.3 2416.7V2390.3M1445.7 2456.3V2412.3M1450.1 2504.7V2451.9M1454.5 2557.5V2500.3M1458.9 2614.7V2553.1M1463.3 2649.9V2610.3M1467.7 2667.5V2645.5M1472.1 2671.9V2663.1M1476.5 2671.9V2641.1M1480.9 2645.5V2601.5M1485.3 2605.9V2553.1M1489.7 2557.5V2500.3M1494.1 2504.7V2447.5M1498.5 2451.9V2412.3M1502.9 2416.7V2385.9M1507.3 2390.3V2377.1M1511.7 2407.9V2385.9M1516.1 2443.1V2403.5M1520.5 2495.9V2438.7M1524.9 2557.5V2491.5M1529.3 2605.9V2553.1M1533.7 2649.9V2601.5M1538.1 2676.3V2645.5M1542.5 2676.3V2667.5M1546.9 2671.9V2645.5M1551.3 2649.9V2605.9M1555.7 2610.3V2553.1M1560.1 2557.5V2504.7M1564.5 2509.1V2451.9M1568.9 2456.3V2412.3M1573.3 2416.7V2381.5M1577.7 2385.9V2377.1M1582.1 2403.5V2381.5M1586.5 2443.1V2399.1M1590.9 2491.5V2438.7M1595.3 2548.7V2487.1M1599.7 2605.9V2544.3M1604.1 2645.5V2601.5M1608.5 2667.5V2641.1M1612.9 2676.3V2663.1M1617.3 2676.3V2654.3M1621.7 2658.7V2614.7M1626.1 2619.1V2566.3M1630.5 2570.7V2513.5M1634.9 2517.9V2456.3M1639.3 2460.7V2416.7M1643.7 2421.1V2385.9M1648.1 2390.3V2381.5M1652.5 2403.5V2385.9M1656.9 2438.7V2399.1M1661.3 2487.1V2434.3M1665.7 2544.3V2482.7M1670.1 2601.5V2539.9M1674.5 2641.1V2597.1M1678.9 2667.5V2636.7M1683.3 2676.3V2663.1M1687.7 2671.9V2658.7M1692.1 2663.1V2623.5M1696.5 2627.9V2570.7M1700.9 2575.1V2517.9M1705.3 2522.3V2465.1M1709.7 2469.5V2416.7M1714.1 2421.1V2394.7M1718.5 2399.1V2377.1M1722.9 2394.7V2377.1M1727.3 2429.9V2390.3M1731.7 2478.3V2425.5M1736.1 2531.1V2473.9M1740.5 2588.3V2526.7M1744.9 2636.7V2583.9M1749.3 2667.5V2632.3M1753.7 2676.3V2663.1M1758.1 2676.3V2654.3M1762.5 2658.7V2623.5M1766.9 2627.9V2579.5M1771.3 2583.9V2522.3M1775.7 2526.7V2465.1M1780.1 2469.5V2416.7M1784.5 2421.1V2394.7M1788.9 2399.1V2381.5M1793.3 2394.7V2381.5M1797.7 2425.5V2390.3M1802.1 2465.1V2421.1M1806.5 2522.3V2460.7M1810.9 2583.9V2517.9M1815.3 2627.9V2579.5M1819.7 2667.5V2623.5M1824.1 2680.7V2663.1M1828.5 2680.7V2663.1M1832.9 2667.5V2632.3M1837.3 2636.7V2583.9M1841.7 2588.3V2535.5M1846.1 2539.9V2478.3M1850.5 2482.7V2425.5M1854.9 2429.9V2390.3M1859.3 2394.7V2381.5M1863.7 2394.7V2381.5M1868.1 2425.5V2390.3M1872.5 2469.5V2421.1M1876.9 2522.3V2465.1M1881.3 2579.5V2517.9M1885.7 2627.9V2575.1M1890.1 2658.7V2623.5M1894.5 2671.9V2654.3M1898.9 2676.3V2663.1M1903.3 2667.5V2636.7M1907.7 2641.1V2592.7M1912.1 2597.1V2544.3M1916.5 2548.7V2487.1M1920.9 2491.5V2434.3M1925.3 2438.7V2394.7M1929.7 2399.1V2377.1M1934.1 2390.3V2377.1M1938.5 2416.7V2385.9M1942.9 2456.3V2412.3M1947.3 2509.1V2451.9M1951.7 2566.3V2504.7M1956.1 2619.1V2561.9M1960.5 2658.7V2614.7M1964.9 2676.3V2654.3M1969.3 2676.3V2667.5M1973.7 2671.9V2641.1M1978.1 2645.5V2597.1M1982.5 2601.5V2539.9M1986.9 2544.3V2491.5M1991.3 2495.9V2438.7M1995.7 2443.1V2399.1M2000.1 2403.5V2381.5M2004.5 2385.9V2381.5M2008.9 2412.3V2381.5M2013.3 2451.9V2407.9M2017.7 2504.7V2447.5M2022.1 2557.5V2500.3M2026.5 2610.3V2553.1M2030.9 2649.9V2605.9M2035.3 2671.9V2645.5M2039.7 2676.3V2667.5M2044.1 2671.9V2649.9M2048.5 2654.3V2605.9M2052.9 2610.3V2548.7M2057.3 2553.1V2495.9M2061.7 2500.3V2447.5M2066.1 2451.9V2403.5M2070.5 2407.9V2377.1M2074.9 2385.9V2377.1M2079.3 2407.9V2381.5M2083.7 2447.5V2403.5M2088.1 2495.9V2443.1M2092.5 2553.1V2491.5M2096.9 2601.5V2548.7M2101.3 2645.5V2597.1M2105.7 2676.3V2641.1M2110.1 2676.3V2667.5M2114.5 2671.9V2649.9M2118.9 2654.3V2610.3M2123.3 2614.7V2561.9M2127.7 2566.3V2504.7M2132.1 2509.1V2447.5M2136.5 2451.9V2412.3M2140.9 2416.7V2381.5M2145.3 2390.3V2381.5M2149.7 2407.9V2385.9M2154.1 2443.1V2403.5M2158.5 2491.5V2438.7M2162.9 2548.7V2487.1M2167.3 2605.9V2544.3M2171.7 2641.1V2601.5M2176.1 2671.9V2636.7M2180.5 2676.3V2667.5M2184.9 2671.9V2654.3" stroke="#000" stroke-width="4.70" stroke-linecap="butt"/>
</g>
<text x="200.8" y="2882.7" text-anchor="middle">0</text>
<text x="419.5" y="2882.7" text-anchor="middle">10</text>
<text x="640.7" y="2882.7" text-anchor="middle">20</text>
<text x="861.9" y="2882.7" text-anchor="middle">30</text>
<text x="1083.1" y="2882.7" text-anchor="middle">40</text>
<text x="1304.2" y="2882.7" text-anchor="middle">50</text>
<text x="1525.4" y="2882.7" text-anchor="middle">60</text>
<text x="1746.6" y="2882.7" text-anchor="middle">70</text>
<text x="1967.8" y="2882.7" text-anchor="middle">80</text>
<text x="2189.0" y="2882.7" text-anchor="middle">90</text>
<text x="185.0" y="2837.9" text-anchor="end">-20</text>
<text x="185.0" y="2693.2" text-anchor="end">-10</text>
<text x="185.0" y="2548.4" text-anchor="end">0</text>
<text x="185.0" y="2403.7" text-anchor="end">10</text>
<text x="185.0" y="2259.0" text-anchor="end">20</text>
<text transform="translate(64.6 2529.3) rotate(-90)" text-anchor="middle">Rate (deg/s)</text>
<rect x="1665.2" y="2249.5" width="495.3" height="91.3" fill="#fff" stroke="#000" stroke-width="4.5"/>
<path d="M1691.9 2293.4H1841.6" stroke="#000" stroke-width="4.6" fill="none"/>
<text transform="translate(1853.8 2318.9) scale(0.9835 1.0000)">Virtual gyro</text>
<text x="1188.6" y="2956.3" text-anchor="middle">Time (s)</text>
<clipPath id="clipC1"><rect x="199.6" y="3140.0" width="1994.8" height="548.0"/></clipPath>
<path d="M416.8 3688.0V3664.5M416.8 3140.0V3163.5M638.5 3688.0V3664.5M638.5 3140.0V3163.5M860.1 3688.0V3664.5M860.1 3140.0V3163.5M1081.7 3688.0V3664.5M1081.7 3140.0V3163.5M1303.4 3688.0V3664.5M1303.4 3140.0V3163.5M1525.0 3688.0V3664.5M1525.0 3140.0V3163.5M1746.6 3688.0V3664.5M1746.6 3140.0V3163.5M1968.3 3688.0V3664.5M1968.3 3140.0V3163.5M197.4 3551.0H217.4M2190.4 3551.0H2170.4M197.4 3414.0H217.4M2190.4 3414.0H2170.4M197.4 3277.0H217.4M2190.4 3277.0H2170.4" stroke="#000" stroke-width="4.5" fill="none"/>
<rect x="197.4" y="3140.0" width="1993.0" height="548.0" fill="none" stroke="#000" stroke-width="4.5"/>
<g clip-path="url(#clipC1)" fill="none" stroke-linejoin="miter" stroke-linecap="square">
<path d="M197.4 3441.4V3406.2M201.8 3445.8V3410.6M206.2 3445.8V3393.0M210.6 3428.2V3397.4M215.0 3441.4V3410.6M219.4 3432.6V3393.0M223.8 3423.8V3384.2M228.2 3432.6V3393.0M232.6 3428.2V3397.4M237.0 3428.2V3393.0M241.4 3428.2V3384.2M245.8 3432.6V3401.8M250.2 3428.2V3397.4M254.6 3428.2V3397.4M259.0 3437.0V3406.2M263.4 3437.0V3401.8M267.8 3441.4V3397.4M272.2 3437.0V3401.8M276.6 3441.4V3401.8M281.0 3423.8V3397.4M285.4 3428.2V3393.0M289.8 3428.2V3397.4M294.2 3423.8V3388.6M298.6 3423.8V3384.2M303.0 3441.4V3393.0M307.4 3459.0V3415.0M311.8 3467.8V3441.4M316.2 3481.0V3432.6M320.6 3472.2V3445.8M325.0 3472.2V3432.6M329.4 3454.6V3415.0M333.8 3432.6V3401.8M338.2 3423.8V3397.4M342.6 3423.8V3349.0M347.0 3362.2V3287.4M351.4 3305.0V3261.0M355.8 3322.6V3269.8M360.2 3406.2V3318.2M364.6 3494.2V3401.8M369.0 3538.2V3489.8M373.4 3551.4V3516.2M377.8 3538.2V3489.8M382.2 3494.2V3406.2M386.6 3432.6V3335.8M391.0 3340.2V3274.2M395.4 3309.4V3265.4M399.8 3344.6V3287.4M404.2 3428.2V3331.4M408.6 3503.0V3419.4M413.0 3564.6V3498.6M417.4 3560.2V3516.2M421.8 3538.2V3467.8M426.2 3476.6V3384.2M430.6 3393.0V3300.6M435.0 3318.2V3274.2M439.4 3309.4V3269.8M443.8 3366.6V3287.4M448.2 3454.6V3349.0M452.6 3533.8V3445.8M457.0 3555.8V3511.8M461.4 3551.4V3498.6M465.8 3525.0V3450.2M470.2 3459.0V3335.8M474.6 3371.0V3291.8M479.0 3309.4V3265.4M483.4 3327.0V3269.8M487.8 3397.4V3300.6M492.2 3489.8V3393.0M496.6 3542.6V3454.6M501.0 3569.0V3520.6M505.4 3564.6V3476.6M509.8 3498.6V3401.8M514.2 3415.0V3331.4M518.6 3335.8V3283.0M523.0 3313.8V3261.0M527.4 3335.8V3269.8M531.8 3441.4V3331.4M536.2 3511.8V3419.4M540.6 3564.6V3503.0M545.0 3564.6V3533.8M549.4 3547.0V3463.4M553.8 3476.6V3375.4M558.2 3384.2V3300.6M562.6 3305.0V3269.8M567.0 3305.0V3256.6M571.4 3375.4V3283.0M575.8 3454.6V3366.6M580.2 3538.2V3445.8M584.6 3560.2V3503.0M589.0 3551.4V3516.2M593.4 3529.4V3445.8M597.8 3459.0V3349.0M602.2 3353.4V3265.4M606.6 3300.6V3256.6M611.0 3331.4V3261.0M615.4 3401.8V3309.4M619.8 3489.8V3393.0M624.2 3542.6V3467.8M628.6 3560.2V3529.4M633.0 3555.8V3498.6M637.4 3503.0V3410.6M641.8 3419.4V3344.6M646.2 3349.0V3278.6M650.6 3287.4V3256.6M655.0 3344.6V3269.8M659.4 3437.0V3340.2M663.8 3516.2V3432.6M668.2 3560.2V3503.0M672.6 3560.2V3520.6M677.0 3551.4V3489.8M681.4 3494.2V3379.8M685.8 3397.4V3313.8M690.2 3335.8V3278.6M694.6 3309.4V3274.2M699.0 3366.6V3287.4M703.4 3445.8V3357.8M707.8 3520.6V3432.6M712.2 3560.2V3507.4M716.6 3569.0V3533.8M721.0 3555.8V3459.0M725.4 3463.4V3362.2M729.8 3366.6V3274.2M734.2 3296.2V3243.4M738.6 3313.8V3269.8M743.0 3388.6V3309.4M747.4 3472.2V3384.2M751.8 3529.4V3463.4M756.2 3577.8V3525.0M760.6 3573.4V3511.8M765.0 3520.6V3415.0M769.4 3441.4V3353.4M773.8 3357.8V3274.2M778.2 3313.8V3252.2M782.6 3331.4V3269.8M787.0 3423.8V3318.2M791.4 3507.4V3415.0M795.8 3551.4V3489.8M800.2 3560.2V3520.6M804.6 3551.4V3489.8M809.0 3503.0V3406.2M813.4 3410.6V3313.8M817.8 3322.6V3256.6M822.2 3300.6V3256.6M826.6 3362.2V3274.2M831.0 3459.0V3357.8M835.4 3516.2V3432.6M839.8 3551.4V3507.4M844.2 3569.0V3516.2M848.6 3529.4V3463.4M853.0 3467.8V3349.0M857.4 3371.0V3300.6M861.8 3313.8V3274.2M866.2 3300.6V3261.0M870.6 3375.4V3291.8M875.0 3472.2V3357.8M879.4 3538.2V3450.2M883.8 3569.0V3525.0M888.2 3560.2V3507.4M892.6 3511.8V3437.0M897.0 3445.8V3357.8M901.4 3362.2V3278.6M905.8 3305.0V3274.2M910.2 3340.2V3269.8M914.6 3415.0V3322.6M919.0 3498.6V3401.8M923.4 3542.6V3489.8M927.8 3564.6V3529.4M932.2 3542.6V3485.4M936.6 3489.8V3415.0M941.0 3428.2V3318.2M945.4 3344.6V3265.4M949.8 3300.6V3247.8M954.2 3335.8V3274.2M958.6 3437.0V3331.4M963.0 3511.8V3428.2M967.4 3547.0V3507.4M971.8 3555.8V3516.2M976.2 3547.0V3472.2M980.6 3476.6V3366.6M985.0 3393.0V3305.0M989.4 3322.6V3265.4M993.8 3305.0V3261.0M998.2 3379.8V3291.8M1002.6 3454.6V3371.0M1007.0 3529.4V3445.8M1011.4 3560.2V3511.8M1015.8 3560.2V3507.4M1020.2 3520.6V3432.6M1024.6 3467.8V3344.6M1029.0 3362.2V3287.4M1033.4 3305.0V3269.8M1037.8 3327.0V3278.6M1042.2 3401.8V3305.0M1046.6 3494.2V3393.0M1051.0 3542.6V3481.0M1055.4 3560.2V3516.2M1059.8 3547.0V3503.0M1064.2 3507.4V3406.2M1068.6 3415.0V3344.6M1073.0 3362.2V3274.2M1077.4 3300.6V3261.0M1081.8 3335.8V3278.6M1086.2 3423.8V3331.4M1090.6 3516.2V3419.4M1095.0 3560.2V3494.2M1099.4 3564.6V3529.4M1103.8 3547.0V3472.2M1108.2 3476.6V3366.6M1112.6 3379.8V3305.0M1117.0 3322.6V3278.6M1121.4 3305.0V3269.8M1125.8 3375.4V3296.2M1130.2 3454.6V3357.8M1134.6 3516.2V3437.0M1139.0 3560.2V3507.4M1143.4 3564.6V3498.6M1147.8 3516.2V3441.4M1152.2 3454.6V3362.2M1156.6 3379.8V3296.2M1161.0 3305.0V3261.0M1165.4 3313.8V3261.0M1169.8 3388.6V3309.4M1174.2 3494.2V3379.8M1178.6 3542.6V3485.4M1183.0 3564.6V3520.6M1187.4 3551.4V3494.2M1191.8 3498.6V3410.6M1196.2 3415.0V3322.6M1200.6 3340.2V3269.8M1205.0 3300.6V3269.8M1209.4 3335.8V3278.6M1213.8 3419.4V3313.8M1218.2 3507.4V3410.6M1222.6 3555.8V3489.8M1227.0 3560.2V3525.0M1231.4 3533.8V3472.2M1235.8 3494.2V3401.8M1240.2 3415.0V3318.2M1244.6 3331.4V3265.4M1249.0 3300.6V3256.6M1253.4 3366.6V3278.6M1257.8 3450.2V3353.4M1262.2 3503.0V3432.6M1266.6 3573.4V3498.6M1271.0 3569.0V3516.2M1275.4 3547.0V3450.2M1279.8 3454.6V3371.0M1284.2 3375.4V3291.8M1288.6 3305.0V3256.6M1293.0 3318.2V3261.0M1297.4 3397.4V3296.2M1301.8 3467.8V3379.8M1306.2 3547.0V3441.4M1310.6 3564.6V3525.0M1315.0 3564.6V3498.6M1319.4 3516.2V3428.2M1323.8 3432.6V3331.4M1328.2 3362.2V3278.6M1332.6 3300.6V3265.4M1337.0 3331.4V3265.4M1341.4 3419.4V3327.0M1345.8 3511.8V3415.0M1350.2 3547.0V3494.2M1354.6 3569.0V3525.0M1359.0 3564.6V3485.4M1363.4 3503.0V3410.6M1367.8 3415.0V3309.4M1372.2 3322.6V3265.4M1376.6 3305.0V3256.6M1381.0 3357.8V3291.8M1385.4 3441.4V3349.0M1389.8 3511.8V3432.6M1394.2 3573.4V3498.6M1398.6 3582.2V3533.8M1403.0 3547.0V3450.2M1407.4 3454.6V3371.0M1411.8 3375.4V3291.8M1416.2 3296.2V3265.4M1420.6 3322.6V3265.4M1425.0 3388.6V3309.4M1429.4 3472.2V3384.2M1433.8 3533.8V3454.6M1438.2 3573.4V3511.8M1442.6 3564.6V3503.0M1447.0 3511.8V3441.4M1451.4 3445.8V3340.2M1455.8 3344.6V3278.6M1460.2 3309.4V3269.8M1464.6 3322.6V3278.6M1469.0 3401.8V3309.4M1473.4 3485.4V3397.4M1477.8 3547.0V3467.8M1482.2 3569.0V3538.2M1486.6 3560.2V3476.6M1491.0 3507.4V3406.2M1495.4 3423.8V3331.4M1499.8 3344.6V3283.0M1504.2 3291.8V3265.4M1508.6 3357.8V3278.6M1513.0 3428.2V3344.6M1517.4 3507.4V3419.4M1521.8 3560.2V3498.6M1526.2 3555.8V3516.2M1530.6 3538.2V3459.0M1535.0 3472.2V3379.8M1539.4 3388.6V3296.2M1543.8 3322.6V3269.8M1548.2 3318.2V3265.4M1552.6 3371.0V3296.2M1557.0 3467.8V3353.4M1561.4 3529.4V3459.0M1565.8 3569.0V3511.8M1570.2 3569.0V3516.2M1574.6 3533.8V3441.4M1579.0 3445.8V3357.8M1583.4 3366.6V3287.4M1587.8 3305.0V3261.0M1592.2 3331.4V3269.8M1596.6 3393.0V3313.8M1601.0 3485.4V3388.6M1605.4 3551.4V3472.2M1609.8 3569.0V3525.0M1614.2 3551.4V3489.8M1618.6 3494.2V3415.0M1623.0 3432.6V3344.6M1627.4 3349.0V3265.4M1631.8 3291.8V3256.6M1636.2 3335.8V3283.0M1640.6 3432.6V3327.0M1645.0 3503.0V3423.8M1649.4 3551.4V3494.2M1653.8 3569.0V3529.4M1658.2 3551.4V3463.4M1662.6 3476.6V3379.8M1667.0 3393.0V3305.0M1671.4 3322.6V3278.6M1675.8 3309.4V3269.8M1680.2 3375.4V3283.0M1684.6 3450.2V3353.4M1689.0 3529.4V3441.4M1693.4 3555.8V3507.4M1697.8 3564.6V3516.2M1702.2 3547.0V3454.6M1706.6 3463.4V3349.0M1711.0 3362.2V3287.4M1715.4 3305.0V3256.6M1719.8 3313.8V3261.0M1724.2 3384.2V3300.6M1728.6 3481.0V3379.8M1733.0 3542.6V3476.6M1737.4 3573.4V3533.8M1741.8 3560.2V3494.2M1746.2 3507.4V3410.6M1750.6 3428.2V3340.2M1755.0 3349.0V3278.6M1759.4 3305.0V3256.6M1763.8 3331.4V3265.4M1768.2 3415.0V3322.6M1772.6 3494.2V3410.6M1777.0 3555.8V3485.4M1781.4 3573.4V3525.0M1785.8 3547.0V3476.6M1790.2 3485.4V3397.4M1794.6 3410.6V3318.2M1799.0 3340.2V3274.2M1803.4 3300.6V3256.6M1807.8 3353.4V3269.8M1812.2 3450.2V3349.0M1816.6 3520.6V3441.4M1821.0 3560.2V3489.8M1825.4 3564.6V3511.8M1829.8 3533.8V3459.0M1834.2 3463.4V3366.6M1838.6 3379.8V3300.6M1843.0 3313.8V3269.8M1847.4 3309.4V3265.4M1851.8 3379.8V3287.4M1856.2 3467.8V3375.4M1860.6 3538.2V3450.2M1865.0 3569.0V3525.0M1869.4 3560.2V3507.4M1873.8 3516.2V3437.0M1878.2 3441.4V3318.2M1882.6 3344.6V3269.8M1887.0 3296.2V3261.0M1891.4 3335.8V3274.2M1895.8 3428.2V3327.0M1900.2 3481.0V3397.4M1904.6 3564.6V3472.2M1909.0 3564.6V3538.2M1913.4 3547.0V3481.0M1917.8 3494.2V3397.4M1922.2 3406.2V3309.4M1926.6 3340.2V3261.0M1931.0 3305.0V3256.6M1935.4 3357.8V3274.2M1939.8 3437.0V3335.8M1944.2 3511.8V3432.6M1948.6 3551.4V3503.0M1953.0 3560.2V3498.6M1957.4 3516.2V3441.4M1961.8 3467.8V3366.6M1966.2 3371.0V3300.6M1970.6 3309.4V3265.4M1975.0 3309.4V3269.8M1979.4 3375.4V3296.2M1983.8 3467.8V3366.6M1988.2 3533.8V3463.4M1992.6 3564.6V3516.2M1997.0 3564.6V3516.2M2001.4 3520.6V3432.6M2005.8 3441.4V3353.4M2010.2 3357.8V3283.0M2014.6 3291.8V3265.4M2019.0 3344.6V3274.2M2023.4 3401.8V3331.4M2027.8 3494.2V3393.0M2032.2 3551.4V3481.0M2036.6 3564.6V3525.0M2041.0 3551.4V3485.4M2045.4 3498.6V3406.2M2049.8 3423.8V3327.0M2054.2 3344.6V3274.2M2058.6 3300.6V3261.0M2063.0 3340.2V3269.8M2067.4 3437.0V3322.6M2071.8 3507.4V3428.2M2076.2 3555.8V3494.2M2080.6 3560.2V3520.6M2085.0 3547.0V3459.0M2089.4 3467.8V3384.2M2093.8 3393.0V3300.6M2098.2 3309.4V3256.6M2102.6 3318.2V3265.4M2107.0 3375.4V3287.4M2111.4 3459.0V3366.6M2115.8 3538.2V3441.4M2120.2 3573.4V3533.8M2124.6 3569.0V3511.8M2129.0 3525.0V3459.0M2133.4 3463.4V3366.6M2137.8 3375.4V3296.2M2142.2 3305.0V3243.4M2146.6 3322.6V3261.0M2151.0 3393.0V3313.8M2155.4 3481.0V3388.6M2159.8 3555.8V3467.8M2164.2 3569.0V3525.0M2168.6 3555.8V3503.0M2173.0 3511.8V3410.6M2177.4 3428.2V3322.6M2181.8 3349.0V3269.8M2186.2 3291.8V3265.4" stroke="#0000ff" stroke-width="4.70" stroke-linecap="butt"/>
<path d="M197.4 3423.8V3388.6M201.8 3437.0V3406.2M206.2 3437.0V3397.4M210.6 3437.0V3401.8M215.0 3441.4V3393.0M219.4 3428.2V3397.4M223.8 3441.4V3401.8M228.2 3441.4V3401.8M232.6 3437.0V3406.2M237.0 3432.6V3393.0M241.4 3423.8V3384.2M245.8 3437.0V3401.8M250.2 3441.4V3397.4M254.6 3432.6V3401.8M259.0 3419.4V3388.6M263.4 3432.6V3388.6M267.8 3437.0V3401.8M272.2 3441.4V3406.2M276.6 3437.0V3393.0M281.0 3428.2V3388.6M285.4 3419.4V3388.6M289.8 3428.2V3393.0M294.2 3437.0V3388.6M298.6 3428.2V3397.4M303.0 3441.4V3406.2M307.4 3459.0V3428.2M311.8 3463.4V3428.2M316.2 3463.4V3428.2M320.6 3459.0V3428.2M325.0 3459.0V3423.8M329.4 3450.2V3406.2M333.8 3445.8V3397.4M338.2 3437.0V3388.6M342.6 3428.2V3335.8M347.0 3340.2V3269.8M351.4 3291.8V3265.4M355.8 3335.8V3283.0M360.2 3406.2V3331.4M364.6 3494.2V3401.8M369.0 3555.8V3489.8M373.4 3569.0V3525.0M377.8 3551.4V3472.2M382.2 3485.4V3384.2M386.6 3397.4V3313.8M391.0 3322.6V3274.2M395.4 3305.0V3252.2M399.8 3357.8V3291.8M404.2 3437.0V3344.6M408.6 3529.4V3432.6M413.0 3569.0V3511.8M417.4 3573.4V3525.0M421.8 3538.2V3441.4M426.2 3463.4V3362.2M430.6 3366.6V3305.0M435.0 3313.8V3265.4M439.4 3318.2V3274.2M443.8 3388.6V3300.6M448.2 3463.4V3375.4M452.6 3529.4V3459.0M457.0 3560.2V3516.2M461.4 3555.8V3498.6M465.8 3520.6V3432.6M470.2 3437.0V3335.8M474.6 3353.4V3287.4M479.0 3305.0V3265.4M483.4 3340.2V3269.8M487.8 3419.4V3335.8M492.2 3503.0V3401.8M496.6 3547.0V3485.4M501.0 3560.2V3516.2M505.4 3538.2V3489.8M509.8 3494.2V3410.6M514.2 3415.0V3313.8M518.6 3327.0V3265.4M523.0 3291.8V3261.0M527.4 3357.8V3274.2M531.8 3432.6V3344.6M536.2 3542.6V3428.2M540.6 3569.0V3520.6M545.0 3560.2V3516.2M549.4 3547.0V3463.4M553.8 3472.2V3357.8M558.2 3384.2V3296.2M562.6 3313.8V3256.6M567.0 3305.0V3265.4M571.4 3371.0V3296.2M575.8 3481.0V3357.8M580.2 3547.0V3463.4M584.6 3569.0V3533.8M589.0 3564.6V3503.0M593.4 3525.0V3445.8M597.8 3450.2V3362.2M602.2 3366.6V3278.6M606.6 3300.6V3274.2M611.0 3313.8V3274.2M615.4 3419.4V3300.6M619.8 3498.6V3388.6M624.2 3547.0V3494.2M628.6 3560.2V3520.6M633.0 3555.8V3494.2M637.4 3507.4V3410.6M641.8 3415.0V3322.6M646.2 3331.4V3269.8M650.6 3296.2V3265.4M655.0 3353.4V3278.6M659.4 3428.2V3349.0M663.8 3503.0V3419.4M668.2 3569.0V3498.6M672.6 3569.0V3533.8M677.0 3547.0V3472.2M681.4 3485.4V3393.0M685.8 3401.8V3300.6M690.2 3318.2V3256.6M694.6 3300.6V3256.6M699.0 3366.6V3283.0M703.4 3454.6V3357.8M707.8 3525.0V3423.8M712.2 3551.4V3511.8M716.6 3555.8V3511.8M721.0 3538.2V3441.4M725.4 3450.2V3366.6M729.8 3384.2V3278.6M734.2 3300.6V3256.6M738.6 3318.2V3256.6M743.0 3388.6V3300.6M747.4 3472.2V3384.2M751.8 3547.0V3463.4M756.2 3564.6V3520.6M760.6 3560.2V3489.8M765.0 3507.4V3406.2M769.4 3423.8V3335.8M773.8 3357.8V3269.8M778.2 3300.6V3252.2M782.6 3322.6V3274.2M787.0 3415.0V3313.8M791.4 3485.4V3410.6M795.8 3564.6V3481.0M800.2 3577.8V3525.0M804.6 3551.4V3481.0M809.0 3485.4V3379.8M813.4 3401.8V3322.6M817.8 3327.0V3269.8M822.2 3296.2V3265.4M826.6 3366.6V3278.6M831.0 3445.8V3353.4M835.4 3525.0V3437.0M839.8 3564.6V3507.4M844.2 3560.2V3507.4M848.6 3520.6V3441.4M853.0 3454.6V3371.0M857.4 3375.4V3296.2M861.8 3300.6V3265.4M866.2 3322.6V3265.4M870.6 3397.4V3318.2M875.0 3481.0V3375.4M879.4 3538.2V3476.6M883.8 3577.8V3529.4M888.2 3577.8V3494.2M892.6 3520.6V3428.2M897.0 3441.4V3340.2M901.4 3349.0V3278.6M905.8 3296.2V3261.0M910.2 3335.8V3278.6M914.6 3419.4V3322.6M919.0 3511.8V3406.2M923.4 3555.8V3498.6M927.8 3569.0V3533.8M932.2 3555.8V3485.4M936.6 3489.8V3384.2M941.0 3415.0V3327.0M945.4 3331.4V3278.6M949.8 3300.6V3274.2M954.2 3362.2V3283.0M958.6 3432.6V3357.8M963.0 3516.2V3428.2M967.4 3564.6V3511.8M971.8 3555.8V3520.6M976.2 3533.8V3463.4M980.6 3467.8V3375.4M985.0 3388.6V3300.6M989.4 3309.4V3265.4M993.8 3318.2V3269.8M998.2 3388.6V3300.6M1002.6 3467.8V3379.8M1007.0 3542.6V3445.8M1011.4 3555.8V3525.0M1015.8 3555.8V3503.0M1020.2 3520.6V3415.0M1024.6 3432.6V3353.4M1029.0 3366.6V3287.4M1033.4 3305.0V3256.6M1037.8 3344.6V3274.2M1042.2 3401.8V3322.6M1046.6 3498.6V3384.2M1051.0 3555.8V3485.4M1055.4 3560.2V3520.6M1059.8 3551.4V3472.2M1064.2 3489.8V3419.4M1068.6 3432.6V3331.4M1073.0 3344.6V3261.0M1077.4 3309.4V3261.0M1081.8 3344.6V3278.6M1086.2 3432.6V3335.8M1090.6 3529.4V3428.2M1095.0 3555.8V3507.4M1099.4 3560.2V3511.8M1103.8 3542.6V3454.6M1108.2 3485.4V3371.0M1112.6 3384.2V3313.8M1117.0 3322.6V3247.8M1121.4 3309.4V3261.0M1125.8 3375.4V3283.0M1130.2 3463.4V3371.0M1134.6 3529.4V3450.2M1139.0 3564.6V3511.8M1143.4 3560.2V3516.2M1147.8 3542.6V3437.0M1152.2 3445.8V3344.6M1156.6 3362.2V3283.0M1161.0 3309.4V3265.4M1165.4 3322.6V3269.8M1169.8 3406.2V3313.8M1174.2 3494.2V3401.8M1178.6 3551.4V3472.2M1183.0 3564.6V3525.0M1187.4 3547.0V3489.8M1191.8 3494.2V3415.0M1196.2 3419.4V3327.0M1200.6 3353.4V3278.6M1205.0 3300.6V3265.4M1209.4 3349.0V3287.4M1213.8 3428.2V3340.2M1218.2 3507.4V3415.0M1222.6 3564.6V3498.6M1227.0 3569.0V3529.4M1231.4 3542.6V3463.4M1235.8 3481.0V3384.2M1240.2 3388.6V3305.0M1244.6 3318.2V3261.0M1249.0 3309.4V3261.0M1253.4 3375.4V3300.6M1257.8 3463.4V3353.4M1262.2 3529.4V3450.2M1266.6 3560.2V3511.8M1271.0 3564.6V3503.0M1275.4 3533.8V3432.6M1279.8 3441.4V3349.0M1284.2 3362.2V3300.6M1288.6 3309.4V3274.2M1293.0 3335.8V3269.8M1297.4 3393.0V3309.4M1301.8 3481.0V3384.2M1306.2 3547.0V3467.8M1310.6 3564.6V3529.4M1315.0 3569.0V3494.2M1319.4 3516.2V3419.4M1323.8 3423.8V3335.8M1328.2 3349.0V3287.4M1332.6 3300.6V3256.6M1337.0 3344.6V3274.2M1341.4 3419.4V3331.4M1345.8 3494.2V3406.2M1350.2 3560.2V3481.0M1354.6 3569.0V3525.0M1359.0 3542.6V3472.2M1363.4 3494.2V3401.8M1367.8 3419.4V3296.2M1372.2 3327.0V3256.6M1376.6 3309.4V3256.6M1381.0 3366.6V3287.4M1385.4 3441.4V3357.8M1389.8 3516.2V3437.0M1394.2 3569.0V3511.8M1398.6 3564.6V3525.0M1403.0 3529.4V3437.0M1407.4 3450.2V3366.6M1411.8 3371.0V3287.4M1416.2 3313.8V3252.2M1420.6 3331.4V3261.0M1425.0 3393.0V3309.4M1429.4 3476.6V3357.8M1433.8 3533.8V3450.2M1438.2 3564.6V3511.8M1442.6 3564.6V3494.2M1447.0 3516.2V3432.6M1451.4 3437.0V3331.4M1455.8 3357.8V3283.0M1460.2 3300.6V3269.8M1464.6 3331.4V3283.0M1469.0 3406.2V3305.0M1473.4 3498.6V3401.8M1477.8 3560.2V3494.2M1482.2 3573.4V3538.2M1486.6 3551.4V3467.8M1491.0 3472.2V3397.4M1495.4 3401.8V3322.6M1499.8 3335.8V3278.6M1504.2 3305.0V3261.0M1508.6 3362.2V3283.0M1513.0 3441.4V3344.6M1517.4 3533.8V3437.0M1521.8 3577.8V3516.2M1526.2 3560.2V3516.2M1530.6 3538.2V3445.8M1535.0 3454.6V3375.4M1539.4 3379.8V3296.2M1543.8 3313.8V3261.0M1548.2 3309.4V3261.0M1552.6 3384.2V3296.2M1557.0 3481.0V3379.8M1561.4 3538.2V3467.8M1565.8 3569.0V3520.6M1570.2 3569.0V3507.4M1574.6 3520.6V3428.2M1579.0 3432.6V3340.2M1583.4 3357.8V3291.8M1587.8 3305.0V3256.6M1592.2 3340.2V3274.2M1596.6 3397.4V3327.0M1601.0 3485.4V3384.2M1605.4 3547.0V3463.4M1609.8 3569.0V3533.8M1614.2 3569.0V3494.2M1618.6 3503.0V3401.8M1623.0 3406.2V3318.2M1627.4 3335.8V3278.6M1631.8 3296.2V3265.4M1636.2 3362.2V3287.4M1640.6 3432.6V3349.0M1645.0 3507.4V3419.4M1649.4 3569.0V3503.0M1653.8 3564.6V3525.0M1658.2 3547.0V3450.2M1662.6 3472.2V3379.8M1667.0 3393.0V3305.0M1671.4 3322.6V3274.2M1675.8 3313.8V3265.4M1680.2 3371.0V3291.8M1684.6 3463.4V3366.6M1689.0 3538.2V3445.8M1693.4 3564.6V3525.0M1697.8 3573.4V3516.2M1702.2 3533.8V3432.6M1706.6 3450.2V3349.0M1711.0 3357.8V3287.4M1715.4 3305.0V3252.2M1719.8 3318.2V3265.4M1724.2 3406.2V3309.4M1728.6 3485.4V3393.0M1733.0 3533.8V3472.2M1737.4 3560.2V3525.0M1741.8 3555.8V3485.4M1746.2 3494.2V3401.8M1750.6 3419.4V3335.8M1755.0 3349.0V3278.6M1759.4 3296.2V3265.4M1763.8 3349.0V3278.6M1768.2 3428.2V3335.8M1772.6 3507.4V3406.2M1777.0 3564.6V3503.0M1781.4 3577.8V3529.4M1785.8 3542.6V3454.6M1790.2 3472.2V3393.0M1794.6 3397.4V3313.8M1799.0 3322.6V3265.4M1803.4 3291.8V3261.0M1807.8 3371.0V3278.6M1812.2 3437.0V3357.8M1816.6 3529.4V3432.6M1821.0 3569.0V3516.2M1825.4 3569.0V3516.2M1829.8 3520.6V3441.4M1834.2 3454.6V3366.6M1838.6 3379.8V3287.4M1843.0 3296.2V3252.2M1847.4 3318.2V3265.4M1851.8 3393.0V3305.0M1856.2 3481.0V3388.6M1860.6 3542.6V3472.2M1865.0 3560.2V3516.2M1869.4 3547.0V3507.4M1873.8 3516.2V3415.0M1878.2 3428.2V3349.0M1882.6 3353.4V3274.2M1887.0 3305.0V3256.6M1891.4 3335.8V3256.6M1895.8 3419.4V3331.4M1900.2 3494.2V3384.2M1904.6 3564.6V3472.2M1909.0 3564.6V3529.4M1913.4 3547.0V3472.2M1917.8 3476.6V3384.2M1922.2 3397.4V3313.8M1926.6 3322.6V3274.2M1931.0 3300.6V3265.4M1935.4 3371.0V3278.6M1939.8 3441.4V3349.0M1944.2 3511.8V3437.0M1948.6 3564.6V3503.0M1953.0 3555.8V3507.4M1957.4 3529.4V3459.0M1961.8 3463.4V3366.6M1966.2 3371.0V3283.0M1970.6 3300.6V3265.4M1975.0 3309.4V3256.6M1979.4 3384.2V3305.0M1983.8 3476.6V3371.0M1988.2 3538.2V3463.4M1992.6 3569.0V3516.2M1997.0 3560.2V3507.4M2001.4 3516.2V3415.0M2005.8 3432.6V3335.8M2010.2 3362.2V3278.6M2014.6 3305.0V3261.0M2019.0 3349.0V3261.0M2023.4 3397.4V3327.0M2027.8 3511.8V3388.6M2032.2 3555.8V3489.8M2036.6 3560.2V3529.4M2041.0 3547.0V3472.2M2045.4 3485.4V3388.6M2049.8 3415.0V3318.2M2054.2 3335.8V3265.4M2058.6 3300.6V3261.0M2063.0 3353.4V3287.4M2067.4 3437.0V3349.0M2071.8 3520.6V3428.2M2076.2 3564.6V3511.8M2080.6 3564.6V3529.4M2085.0 3542.6V3450.2M2089.4 3459.0V3366.6M2093.8 3375.4V3309.4M2098.2 3322.6V3274.2M2102.6 3322.6V3265.4M2107.0 3393.0V3305.0M2111.4 3459.0V3384.2M2115.8 3551.4V3454.6M2120.2 3569.0V3516.2M2124.6 3560.2V3520.6M2129.0 3529.4V3432.6M2133.4 3445.8V3344.6M2137.8 3349.0V3283.0M2142.2 3300.6V3265.4M2146.6 3327.0V3265.4M2151.0 3406.2V3322.6M2155.4 3489.8V3393.0M2159.8 3538.2V3481.0M2164.2 3564.6V3516.2M2168.6 3560.2V3485.4M2173.0 3489.8V3401.8M2177.4 3410.6V3318.2M2181.8 3322.6V3261.0M2186.2 3300.6V3269.8" stroke="#008000" stroke-width="4.70" stroke-linecap="butt"/>
<path d="M197.4 3428.2V3397.4M201.8 3432.6V3397.4M206.2 3445.8V3401.8M210.6 3423.8V3397.4M215.0 3428.2V3397.4M219.4 3432.6V3397.4M223.8 3432.6V3388.6M228.2 3432.6V3397.4M232.6 3432.6V3393.0M237.0 3441.4V3401.8M241.4 3437.0V3401.8M245.8 3428.2V3397.4M250.2 3432.6V3388.6M254.6 3428.2V3397.4M259.0 3432.6V3401.8M263.4 3441.4V3401.8M267.8 3441.4V3397.4M272.2 3423.8V3393.0M276.6 3423.8V3393.0M281.0 3428.2V3388.6M285.4 3428.2V3397.4M289.8 3437.0V3397.4M294.2 3428.2V3393.0M298.6 3432.6V3393.0M303.0 3437.0V3406.2M307.4 3459.0V3415.0M311.8 3472.2V3428.2M316.2 3467.8V3432.6M320.6 3472.2V3428.2M325.0 3459.0V3423.8M329.4 3459.0V3415.0M333.8 3445.8V3401.8M338.2 3441.4V3401.8M342.6 3428.2V3318.2M347.0 3335.8V3274.2M351.4 3296.2V3252.2M355.8 3353.4V3278.6M360.2 3432.6V3335.8M364.6 3511.8V3428.2M369.0 3555.8V3498.6M373.4 3569.0V3533.8M377.8 3555.8V3467.8M382.2 3485.4V3379.8M386.6 3384.2V3300.6M391.0 3318.2V3252.2M395.4 3313.8V3261.0M399.8 3362.2V3296.2M404.2 3459.0V3353.4M408.6 3525.0V3445.8M413.0 3577.8V3516.2M417.4 3564.6V3525.0M421.8 3533.8V3454.6M426.2 3459.0V3371.0M430.6 3375.4V3287.4M435.0 3305.0V3261.0M439.4 3327.0V3265.4M443.8 3397.4V3309.4M448.2 3476.6V3379.8M452.6 3551.4V3463.4M457.0 3555.8V3525.0M461.4 3551.4V3494.2M465.8 3516.2V3428.2M470.2 3432.6V3340.2M474.6 3349.0V3274.2M479.0 3291.8V3256.6M483.4 3349.0V3278.6M487.8 3419.4V3327.0M492.2 3511.8V3410.6M496.6 3564.6V3498.6M501.0 3573.4V3533.8M505.4 3551.4V3476.6M509.8 3485.4V3397.4M514.2 3401.8V3318.2M518.6 3327.0V3269.8M523.0 3296.2V3252.2M527.4 3375.4V3291.8M531.8 3450.2V3362.2M536.2 3529.4V3437.0M540.6 3560.2V3511.8M545.0 3573.4V3520.6M549.4 3542.6V3463.4M553.8 3476.6V3366.6M558.2 3379.8V3291.8M562.6 3309.4V3265.4M567.0 3318.2V3265.4M571.4 3397.4V3313.8M575.8 3476.6V3384.2M580.2 3533.8V3472.2M584.6 3569.0V3520.6M589.0 3564.6V3507.4M593.4 3529.4V3437.0M597.8 3441.4V3344.6M602.2 3349.0V3274.2M606.6 3309.4V3261.0M611.0 3331.4V3269.8M615.4 3415.0V3327.0M619.8 3503.0V3410.6M624.2 3542.6V3481.0M628.6 3560.2V3516.2M633.0 3560.2V3489.8M637.4 3494.2V3393.0M641.8 3410.6V3313.8M646.2 3331.4V3256.6M650.6 3305.0V3269.8M655.0 3357.8V3300.6M659.4 3428.2V3344.6M663.8 3520.6V3423.8M668.2 3564.6V3494.2M672.6 3569.0V3525.0M677.0 3533.8V3463.4M681.4 3467.8V3384.2M685.8 3397.4V3283.0M690.2 3313.8V3256.6M694.6 3318.2V3265.4M699.0 3375.4V3305.0M703.4 3463.4V3371.0M707.8 3538.2V3450.2M712.2 3582.2V3520.6M716.6 3573.4V3498.6M721.0 3511.8V3432.6M725.4 3445.8V3353.4M729.8 3379.8V3287.4M734.2 3300.6V3252.2M738.6 3331.4V3274.2M743.0 3428.2V3322.6M747.4 3481.0V3397.4M751.8 3547.0V3472.2M756.2 3573.4V3525.0M760.6 3573.4V3503.0M765.0 3507.4V3406.2M769.4 3410.6V3335.8M773.8 3340.2V3265.4M778.2 3291.8V3247.8M782.6 3357.8V3283.0M787.0 3441.4V3340.2M791.4 3511.8V3428.2M795.8 3560.2V3498.6M800.2 3569.0V3520.6M804.6 3542.6V3463.4M809.0 3476.6V3384.2M813.4 3401.8V3296.2M817.8 3318.2V3274.2M822.2 3318.2V3265.4M826.6 3357.8V3283.0M831.0 3463.4V3353.4M835.4 3533.8V3445.8M839.8 3573.4V3529.4M844.2 3564.6V3520.6M848.6 3529.4V3432.6M853.0 3441.4V3349.0M857.4 3366.6V3296.2M861.8 3309.4V3252.2M866.2 3335.8V3269.8M870.6 3401.8V3322.6M875.0 3481.0V3388.6M879.4 3542.6V3467.8M883.8 3573.4V3533.8M888.2 3551.4V3489.8M892.6 3498.6V3432.6M897.0 3437.0V3327.0M901.4 3344.6V3274.2M905.8 3296.2V3252.2M910.2 3340.2V3278.6M914.6 3423.8V3331.4M919.0 3525.0V3419.4M923.4 3560.2V3511.8M927.8 3564.6V3525.0M932.2 3533.8V3485.4M936.6 3489.8V3379.8M941.0 3406.2V3305.0M945.4 3318.2V3261.0M949.8 3291.8V3261.0M954.2 3362.2V3283.0M958.6 3450.2V3349.0M963.0 3525.0V3437.0M967.4 3569.0V3516.2M971.8 3560.2V3503.0M976.2 3520.6V3428.2M980.6 3463.4V3349.0M985.0 3362.2V3300.6M989.4 3309.4V3265.4M993.8 3322.6V3269.8M998.2 3406.2V3309.4M1002.6 3481.0V3401.8M1007.0 3520.6V3459.0M1011.4 3569.0V3503.0M1015.8 3547.0V3489.8M1020.2 3494.2V3423.8M1024.6 3441.4V3344.6M1029.0 3353.4V3274.2M1033.4 3291.8V3256.6M1037.8 3331.4V3269.8M1042.2 3423.8V3327.0M1046.6 3516.2V3410.6M1051.0 3560.2V3494.2M1055.4 3569.0V3525.0M1059.8 3551.4V3481.0M1064.2 3485.4V3397.4M1068.6 3406.2V3313.8M1073.0 3318.2V3261.0M1077.4 3305.0V3256.6M1081.8 3362.2V3291.8M1086.2 3459.0V3353.4M1090.6 3520.6V3450.2M1095.0 3555.8V3494.2M1099.4 3564.6V3525.0M1103.8 3538.2V3441.4M1108.2 3454.6V3362.2M1112.6 3366.6V3300.6M1117.0 3318.2V3256.6M1121.4 3313.8V3269.8M1125.8 3393.0V3309.4M1130.2 3481.0V3375.4M1134.6 3551.4V3459.0M1139.0 3573.4V3533.8M1143.4 3555.8V3494.2M1147.8 3520.6V3428.2M1152.2 3445.8V3335.8M1156.6 3344.6V3283.0M1161.0 3305.0V3256.6M1165.4 3327.0V3269.8M1169.8 3415.0V3318.2M1174.2 3494.2V3401.8M1178.6 3542.6V3472.2M1183.0 3564.6V3529.4M1187.4 3560.2V3481.0M1191.8 3494.2V3397.4M1196.2 3406.2V3331.4M1200.6 3335.8V3274.2M1205.0 3300.6V3265.4M1209.4 3353.4V3287.4M1213.8 3441.4V3331.4M1218.2 3511.8V3437.0M1222.6 3560.2V3489.8M1227.0 3564.6V3507.4M1231.4 3551.4V3472.2M1235.8 3476.6V3371.0M1240.2 3379.8V3296.2M1244.6 3309.4V3274.2M1249.0 3313.8V3265.4M1253.4 3375.4V3296.2M1257.8 3459.0V3362.2M1262.2 3547.0V3450.2M1266.6 3569.0V3516.2M1271.0 3569.0V3520.6M1275.4 3529.4V3432.6M1279.8 3445.8V3362.2M1284.2 3366.6V3283.0M1288.6 3296.2V3265.4M1293.0 3327.0V3274.2M1297.4 3401.8V3318.2M1301.8 3494.2V3384.2M1306.2 3551.4V3472.2M1310.6 3569.0V3529.4M1315.0 3560.2V3498.6M1319.4 3503.0V3410.6M1323.8 3415.0V3340.2M1328.2 3349.0V3265.4M1332.6 3305.0V3265.4M1337.0 3357.8V3278.6M1341.4 3445.8V3327.0M1345.8 3525.0V3437.0M1350.2 3555.8V3503.0M1354.6 3569.0V3533.8M1359.0 3547.0V3463.4M1363.4 3476.6V3384.2M1367.8 3388.6V3300.6M1372.2 3318.2V3269.8M1376.6 3309.4V3261.0M1381.0 3366.6V3305.0M1385.4 3463.4V3357.8M1389.8 3525.0V3450.2M1394.2 3555.8V3520.6M1398.6 3555.8V3503.0M1403.0 3520.6V3450.2M1407.4 3454.6V3349.0M1411.8 3357.8V3291.8M1416.2 3305.0V3265.4M1420.6 3322.6V3265.4M1425.0 3397.4V3313.8M1429.4 3489.8V3379.8M1433.8 3542.6V3485.4M1438.2 3560.2V3529.4M1442.6 3551.4V3489.8M1447.0 3498.6V3406.2M1451.4 3423.8V3335.8M1455.8 3340.2V3269.8M1460.2 3300.6V3252.2M1464.6 3349.0V3274.2M1469.0 3437.0V3340.2M1473.4 3498.6V3428.2M1477.8 3560.2V3489.8M1482.2 3569.0V3538.2M1486.6 3547.0V3450.2M1491.0 3467.8V3379.8M1495.4 3397.4V3305.0M1499.8 3331.4V3269.8M1504.2 3318.2V3269.8M1508.6 3362.2V3296.2M1513.0 3450.2V3357.8M1517.4 3538.2V3441.4M1521.8 3564.6V3516.2M1526.2 3573.4V3520.6M1530.6 3533.8V3437.0M1535.0 3459.0V3362.2M1539.4 3379.8V3291.8M1543.8 3309.4V3269.8M1548.2 3318.2V3265.4M1552.6 3388.6V3309.4M1557.0 3485.4V3384.2M1561.4 3551.4V3481.0M1565.8 3573.4V3520.6M1570.2 3564.6V3489.8M1574.6 3511.8V3423.8M1579.0 3428.2V3327.0M1583.4 3340.2V3269.8M1587.8 3305.0V3256.6M1592.2 3340.2V3274.2M1596.6 3419.4V3322.6M1601.0 3498.6V3410.6M1605.4 3560.2V3489.8M1609.8 3573.4V3533.8M1614.2 3547.0V3489.8M1618.6 3494.2V3388.6M1623.0 3393.0V3322.6M1627.4 3327.0V3274.2M1631.8 3296.2V3256.6M1636.2 3362.2V3278.6M1640.6 3450.2V3349.0M1645.0 3520.6V3428.2M1649.4 3564.6V3511.8M1653.8 3573.4V3529.4M1658.2 3555.8V3467.8M1662.6 3481.0V3371.0M1667.0 3384.2V3291.8M1671.4 3305.0V3269.8M1675.8 3318.2V3265.4M1680.2 3388.6V3309.4M1684.6 3472.2V3379.8M1689.0 3560.2V3454.6M1693.4 3569.0V3525.0M1697.8 3560.2V3498.6M1702.2 3516.2V3432.6M1706.6 3437.0V3353.4M1711.0 3362.2V3291.8M1715.4 3313.8V3265.4M1719.8 3340.2V3278.6M1724.2 3423.8V3327.0M1728.6 3494.2V3419.4M1733.0 3564.6V3489.8M1737.4 3569.0V3538.2M1741.8 3560.2V3485.4M1746.2 3489.8V3393.0M1750.6 3415.0V3313.8M1755.0 3318.2V3261.0M1759.4 3305.0V3269.8M1763.8 3353.4V3283.0M1768.2 3437.0V3344.6M1772.6 3511.8V3423.8M1777.0 3560.2V3498.6M1781.4 3560.2V3525.0M1785.8 3533.8V3450.2M1790.2 3463.4V3366.6M1794.6 3393.0V3305.0M1799.0 3313.8V3274.2M1803.4 3309.4V3265.4M1807.8 3366.6V3287.4M1812.2 3467.8V3362.2M1816.6 3538.2V3450.2M1821.0 3560.2V3520.6M1825.4 3560.2V3507.4M1829.8 3520.6V3428.2M1834.2 3450.2V3344.6M1838.6 3357.8V3274.2M1843.0 3309.4V3274.2M1847.4 3327.0V3269.8M1851.8 3428.2V3318.2M1856.2 3489.8V3406.2M1860.6 3551.4V3485.4M1865.0 3564.6V3529.4M1869.4 3555.8V3489.8M1873.8 3494.2V3410.6M1878.2 3415.0V3318.2M1882.6 3322.6V3265.4M1887.0 3309.4V3265.4M1891.4 3335.8V3274.2M1895.8 3437.0V3322.6M1900.2 3520.6V3419.4M1904.6 3564.6V3503.0M1909.0 3573.4V3533.8M1913.4 3542.6V3467.8M1917.8 3472.2V3384.2M1922.2 3393.0V3305.0M1926.6 3318.2V3256.6M1931.0 3309.4V3261.0M1935.4 3388.6V3283.0M1939.8 3476.6V3379.8M1944.2 3533.8V3472.2M1948.6 3551.4V3516.2M1953.0 3551.4V3503.0M1957.4 3525.0V3437.0M1961.8 3441.4V3362.2M1966.2 3379.8V3296.2M1970.6 3309.4V3265.4M1975.0 3309.4V3278.6M1979.4 3397.4V3300.6M1983.8 3494.2V3393.0M1988.2 3542.6V3472.2M1992.6 3564.6V3529.4M1997.0 3551.4V3507.4M2001.4 3511.8V3423.8M2005.8 3428.2V3331.4M2010.2 3353.4V3278.6M2014.6 3300.6V3265.4M2019.0 3340.2V3274.2M2023.4 3423.8V3331.4M2027.8 3511.8V3410.6M2032.2 3555.8V3489.8M2036.6 3560.2V3529.4M2041.0 3538.2V3472.2M2045.4 3494.2V3388.6M2049.8 3423.8V3313.8M2054.2 3318.2V3265.4M2058.6 3300.6V3256.6M2063.0 3375.4V3291.8M2067.4 3459.0V3366.6M2071.8 3542.6V3445.8M2076.2 3560.2V3516.2M2080.6 3560.2V3516.2M2085.0 3525.0V3454.6M2089.4 3459.0V3362.2M2093.8 3375.4V3283.0M2098.2 3296.2V3265.4M2102.6 3318.2V3274.2M2107.0 3379.8V3305.0M2111.4 3476.6V3371.0M2115.8 3551.4V3472.2M2120.2 3564.6V3533.8M2124.6 3560.2V3507.4M2129.0 3520.6V3428.2M2133.4 3437.0V3340.2M2137.8 3344.6V3296.2M2142.2 3313.8V3269.8M2146.6 3335.8V3274.2M2151.0 3437.0V3322.6M2155.4 3503.0V3419.4M2159.8 3555.8V3494.2M2164.2 3573.4V3529.4M2168.6 3547.0V3476.6M2173.0 3498.6V3384.2M2177.4 3401.8V3300.6M2181.8 3309.4V3265.4M2186.2 3296.2V3265.4" stroke="#ff0000" stroke-width="4.70" stroke-linecap="butt"/>
<path d="M197.4 3428.2V3393.0M201.8 3419.4V3393.0M206.2 3428.2V3397.4M210.6 3423.8V3393.0M215.0 3437.0V3397.4M219.4 3428.2V3388.6M223.8 3428.2V3393.0M228.2 3432.6V3388.6M232.6 3428.2V3393.0M237.0 3445.8V3397.4M241.4 3437.0V3397.4M245.8 3432.6V3397.4M250.2 3428.2V3388.6M254.6 3428.2V3388.6M259.0 3441.4V3397.4M263.4 3428.2V3397.4M267.8 3428.2V3401.8M272.2 3415.0V3397.4M276.6 3432.6V3397.4M281.0 3437.0V3393.0M285.4 3423.8V3397.4M289.8 3441.4V3397.4M294.2 3445.8V3410.6M298.6 3428.2V3397.4M303.0 3441.4V3410.6M307.4 3454.6V3419.4M311.8 3450.2V3410.6M316.2 3459.0V3415.0M320.6 3463.4V3432.6M325.0 3459.0V3428.2M329.4 3459.0V3410.6M333.8 3445.8V3401.8M338.2 3432.6V3397.4M342.6 3423.8V3335.8M347.0 3344.6V3278.6M351.4 3318.2V3269.8M355.8 3335.8V3291.8M360.2 3406.2V3331.4M364.6 3498.6V3401.8M369.0 3542.6V3481.0M373.4 3560.2V3533.8M377.8 3551.4V3472.2M382.2 3476.6V3384.2M386.6 3410.6V3300.6M391.0 3331.4V3265.4M395.4 3305.0V3269.8M399.8 3353.4V3269.8M404.2 3450.2V3349.0M408.6 3511.8V3423.8M413.0 3560.2V3494.2M417.4 3555.8V3511.8M421.8 3529.4V3463.4M426.2 3467.8V3375.4M430.6 3379.8V3300.6M435.0 3331.4V3278.6M439.4 3309.4V3269.8M443.8 3384.2V3305.0M448.2 3463.4V3371.0M452.6 3529.4V3450.2M457.0 3555.8V3511.8M461.4 3560.2V3503.0M465.8 3525.0V3428.2M470.2 3450.2V3357.8M474.6 3362.2V3296.2M479.0 3309.4V3261.0M483.4 3344.6V3278.6M487.8 3401.8V3331.4M492.2 3494.2V3397.4M496.6 3551.4V3485.4M501.0 3555.8V3520.6M505.4 3569.0V3507.4M509.8 3520.6V3410.6M514.2 3415.0V3331.4M518.6 3340.2V3287.4M523.0 3305.0V3261.0M527.4 3349.0V3287.4M531.8 3428.2V3344.6M536.2 3511.8V3419.4M540.6 3538.2V3498.6M545.0 3547.0V3511.8M549.4 3525.0V3459.0M553.8 3467.8V3366.6M558.2 3375.4V3300.6M562.6 3322.6V3265.4M567.0 3300.6V3269.8M571.4 3366.6V3291.8M575.8 3459.0V3357.8M580.2 3525.0V3450.2M584.6 3555.8V3511.8M589.0 3560.2V3498.6M593.4 3516.2V3432.6M597.8 3445.8V3349.0M602.2 3366.6V3278.6M606.6 3305.0V3261.0M611.0 3327.0V3274.2M615.4 3397.4V3313.8M619.8 3489.8V3388.6M624.2 3555.8V3481.0M628.6 3564.6V3529.4M633.0 3551.4V3476.6M637.4 3485.4V3401.8M641.8 3415.0V3331.4M646.2 3340.2V3274.2M650.6 3309.4V3261.0M655.0 3349.0V3291.8M659.4 3423.8V3335.8M663.8 3498.6V3415.0M668.2 3560.2V3485.4M672.6 3555.8V3511.8M677.0 3533.8V3467.8M681.4 3476.6V3384.2M685.8 3397.4V3318.2M690.2 3322.6V3274.2M694.6 3309.4V3269.8M699.0 3375.4V3296.2M703.4 3445.8V3362.2M707.8 3529.4V3437.0M712.2 3547.0V3507.4M716.6 3551.4V3498.6M721.0 3525.0V3432.6M725.4 3450.2V3357.8M729.8 3362.2V3296.2M734.2 3313.8V3265.4M738.6 3331.4V3265.4M743.0 3397.4V3322.6M747.4 3476.6V3388.6M751.8 3538.2V3472.2M756.2 3551.4V3516.2M760.6 3551.4V3503.0M765.0 3507.4V3419.4M769.4 3432.6V3349.0M773.8 3357.8V3278.6M778.2 3309.4V3274.2M782.6 3349.0V3278.6M787.0 3432.6V3335.8M791.4 3498.6V3419.4M795.8 3551.4V3472.2M800.2 3564.6V3529.4M804.6 3555.8V3472.2M809.0 3481.0V3397.4M813.4 3410.6V3313.8M817.8 3327.0V3283.0M822.2 3309.4V3278.6M826.6 3375.4V3300.6M831.0 3450.2V3349.0M835.4 3520.6V3445.8M839.8 3551.4V3498.6M844.2 3555.8V3516.2M848.6 3538.2V3450.2M853.0 3454.6V3357.8M857.4 3371.0V3296.2M861.8 3305.0V3261.0M866.2 3327.0V3269.8M870.6 3393.0V3313.8M875.0 3467.8V3379.8M879.4 3547.0V3454.6M883.8 3569.0V3525.0M888.2 3560.2V3476.6M892.6 3507.4V3428.2M897.0 3432.6V3340.2M901.4 3353.4V3291.8M905.8 3313.8V3274.2M910.2 3340.2V3274.2M914.6 3419.4V3318.2M919.0 3507.4V3410.6M923.4 3547.0V3476.6M927.8 3551.4V3516.2M932.2 3542.6V3476.6M936.6 3489.8V3406.2M941.0 3415.0V3327.0M945.4 3344.6V3283.0M949.8 3305.0V3274.2M954.2 3362.2V3296.2M958.6 3437.0V3357.8M963.0 3520.6V3423.8M967.4 3560.2V3511.8M971.8 3560.2V3507.4M976.2 3525.0V3454.6M980.6 3467.8V3371.0M985.0 3375.4V3300.6M989.4 3322.6V3274.2M993.8 3318.2V3269.8M998.2 3371.0V3305.0M1002.6 3476.6V3362.2M1007.0 3533.8V3459.0M1011.4 3555.8V3525.0M1015.8 3555.8V3494.2M1020.2 3503.0V3423.8M1024.6 3441.4V3344.6M1029.0 3375.4V3283.0M1033.4 3309.4V3269.8M1037.8 3331.4V3274.2M1042.2 3410.6V3322.6M1046.6 3498.6V3401.8M1051.0 3542.6V3472.2M1055.4 3551.4V3525.0M1059.8 3551.4V3481.0M1064.2 3494.2V3415.0M1068.6 3437.0V3331.4M1073.0 3335.8V3283.0M1077.4 3313.8V3283.0M1081.8 3357.8V3287.4M1086.2 3445.8V3344.6M1090.6 3503.0V3423.8M1095.0 3551.4V3494.2M1099.4 3560.2V3520.6M1103.8 3533.8V3459.0M1108.2 3467.8V3384.2M1112.6 3388.6V3291.8M1117.0 3327.0V3265.4M1121.4 3309.4V3265.4M1125.8 3375.4V3296.2M1130.2 3445.8V3349.0M1134.6 3538.2V3441.4M1139.0 3560.2V3520.6M1143.4 3560.2V3511.8M1147.8 3529.4V3423.8M1152.2 3441.4V3357.8M1156.6 3362.2V3287.4M1161.0 3313.8V3274.2M1165.4 3335.8V3274.2M1169.8 3415.0V3318.2M1174.2 3494.2V3397.4M1178.6 3538.2V3472.2M1183.0 3555.8V3516.2M1187.4 3555.8V3489.8M1191.8 3507.4V3410.6M1196.2 3428.2V3331.4M1200.6 3340.2V3274.2M1205.0 3300.6V3261.0M1209.4 3349.0V3283.0M1213.8 3441.4V3335.8M1218.2 3511.8V3432.6M1222.6 3555.8V3507.4M1227.0 3564.6V3533.8M1231.4 3547.0V3467.8M1235.8 3476.6V3384.2M1240.2 3393.0V3322.6M1244.6 3327.0V3278.6M1249.0 3318.2V3274.2M1253.4 3375.4V3296.2M1257.8 3445.8V3362.2M1262.2 3538.2V3441.4M1266.6 3560.2V3511.8M1271.0 3551.4V3511.8M1275.4 3533.8V3441.4M1279.8 3459.0V3353.4M1284.2 3375.4V3300.6M1288.6 3331.4V3265.4M1293.0 3331.4V3278.6M1297.4 3388.6V3305.0M1301.8 3476.6V3384.2M1306.2 3538.2V3472.2M1310.6 3560.2V3525.0M1315.0 3551.4V3494.2M1319.4 3498.6V3406.2M1323.8 3419.4V3340.2M1328.2 3353.4V3287.4M1332.6 3296.2V3261.0M1337.0 3340.2V3269.8M1341.4 3415.0V3313.8M1345.8 3511.8V3410.6M1350.2 3551.4V3498.6M1354.6 3564.6V3520.6M1359.0 3542.6V3481.0M1363.4 3485.4V3393.0M1367.8 3406.2V3309.4M1372.2 3313.8V3274.2M1376.6 3305.0V3261.0M1381.0 3362.2V3296.2M1385.4 3441.4V3353.4M1389.8 3511.8V3423.8M1394.2 3551.4V3503.0M1398.6 3555.8V3520.6M1403.0 3525.0V3459.0M1407.4 3476.6V3366.6M1411.8 3371.0V3296.2M1416.2 3305.0V3265.4M1420.6 3327.0V3265.4M1425.0 3397.4V3313.8M1429.4 3476.6V3388.6M1433.8 3538.2V3472.2M1438.2 3564.6V3525.0M1442.6 3547.0V3498.6M1447.0 3516.2V3419.4M1451.4 3441.4V3344.6M1455.8 3353.4V3287.4M1460.2 3300.6V3265.4M1464.6 3335.8V3265.4M1469.0 3410.6V3327.0M1473.4 3507.4V3406.2M1477.8 3542.6V3485.4M1482.2 3560.2V3525.0M1486.6 3551.4V3463.4M1491.0 3498.6V3388.6M1495.4 3410.6V3318.2M1499.8 3349.0V3287.4M1504.2 3322.6V3269.8M1508.6 3349.0V3296.2M1513.0 3437.0V3344.6M1517.4 3525.0V3432.6M1521.8 3564.6V3507.4M1526.2 3569.0V3507.4M1530.6 3533.8V3459.0M1535.0 3463.4V3357.8M1539.4 3366.6V3309.4M1543.8 3327.0V3265.4M1548.2 3318.2V3261.0M1552.6 3384.2V3291.8M1557.0 3454.6V3366.6M1561.4 3533.8V3445.8M1565.8 3560.2V3516.2M1570.2 3551.4V3507.4M1574.6 3516.2V3423.8M1579.0 3450.2V3362.2M1583.4 3366.6V3291.8M1587.8 3313.8V3269.8M1592.2 3331.4V3274.2M1596.6 3397.4V3327.0M1601.0 3481.0V3393.0M1605.4 3547.0V3476.6M1609.8 3564.6V3529.4M1614.2 3555.8V3485.4M1618.6 3489.8V3415.0M1623.0 3423.8V3331.4M1627.4 3357.8V3287.4M1631.8 3313.8V3274.2M1636.2 3353.4V3287.4M1640.6 3437.0V3344.6M1645.0 3516.2V3432.6M1649.4 3551.4V3503.0M1653.8 3573.4V3525.0M1658.2 3538.2V3472.2M1662.6 3481.0V3388.6M1667.0 3393.0V3318.2M1671.4 3340.2V3287.4M1675.8 3305.0V3261.0M1680.2 3384.2V3287.4M1684.6 3467.8V3362.2M1689.0 3525.0V3437.0M1693.4 3560.2V3511.8M1697.8 3551.4V3494.2M1702.2 3511.8V3441.4M1706.6 3450.2V3362.2M1711.0 3379.8V3283.0M1715.4 3305.0V3265.4M1719.8 3322.6V3278.6M1724.2 3388.6V3305.0M1728.6 3467.8V3384.2M1733.0 3551.4V3459.0M1737.4 3564.6V3520.6M1741.8 3538.2V3476.6M1746.2 3511.8V3410.6M1750.6 3423.8V3340.2M1755.0 3344.6V3283.0M1759.4 3300.6V3265.4M1763.8 3344.6V3261.0M1768.2 3423.8V3331.4M1772.6 3516.2V3419.4M1777.0 3547.0V3498.6M1781.4 3560.2V3529.4M1785.8 3564.6V3476.6M1790.2 3485.4V3393.0M1794.6 3397.4V3318.2M1799.0 3327.0V3283.0M1803.4 3296.2V3269.8M1807.8 3375.4V3278.6M1812.2 3445.8V3362.2M1816.6 3529.4V3428.2M1821.0 3555.8V3507.4M1825.4 3551.4V3511.8M1829.8 3538.2V3445.8M1834.2 3463.4V3357.8M1838.6 3366.6V3287.4M1843.0 3305.0V3269.8M1847.4 3327.0V3269.8M1851.8 3388.6V3318.2M1856.2 3476.6V3379.8M1860.6 3547.0V3463.4M1865.0 3564.6V3525.0M1869.4 3555.8V3489.8M1873.8 3503.0V3423.8M1878.2 3432.6V3340.2M1882.6 3353.4V3291.8M1887.0 3305.0V3278.6M1891.4 3357.8V3278.6M1895.8 3428.2V3335.8M1900.2 3503.0V3419.4M1904.6 3547.0V3498.6M1909.0 3560.2V3529.4M1913.4 3555.8V3463.4M1917.8 3467.8V3388.6M1922.2 3401.8V3327.0M1926.6 3335.8V3274.2M1931.0 3309.4V3261.0M1935.4 3353.4V3296.2M1939.8 3450.2V3349.0M1944.2 3507.4V3423.8M1948.6 3555.8V3503.0M1953.0 3560.2V3511.8M1957.4 3538.2V3467.8M1961.8 3476.6V3375.4M1966.2 3379.8V3291.8M1970.6 3305.0V3261.0M1975.0 3318.2V3265.4M1979.4 3384.2V3309.4M1983.8 3481.0V3366.6M1988.2 3538.2V3450.2M1992.6 3555.8V3525.0M1997.0 3560.2V3503.0M2001.4 3525.0V3432.6M2005.8 3437.0V3353.4M2010.2 3357.8V3296.2M2014.6 3309.4V3278.6M2019.0 3335.8V3287.4M2023.4 3410.6V3318.2M2027.8 3485.4V3401.8M2032.2 3533.8V3481.0M2036.6 3542.6V3516.2M2041.0 3538.2V3481.0M2045.4 3489.8V3401.8M2049.8 3415.0V3331.4M2054.2 3344.6V3274.2M2058.6 3300.6V3265.4M2063.0 3353.4V3283.0M2067.4 3437.0V3344.6M2071.8 3520.6V3415.0M2076.2 3551.4V3503.0M2080.6 3555.8V3498.6M2085.0 3538.2V3467.8M2089.4 3489.8V3371.0M2093.8 3384.2V3309.4M2098.2 3322.6V3274.2M2102.6 3313.8V3265.4M2107.0 3379.8V3309.4M2111.4 3459.0V3375.4M2115.8 3525.0V3445.8M2120.2 3560.2V3516.2M2124.6 3555.8V3498.6M2129.0 3503.0V3441.4M2133.4 3450.2V3349.0M2137.8 3362.2V3291.8M2142.2 3313.8V3274.2M2146.6 3331.4V3283.0M2151.0 3423.8V3318.2M2155.4 3498.6V3419.4M2159.8 3542.6V3472.2M2164.2 3560.2V3525.0M2168.6 3533.8V3485.4M2173.0 3498.6V3406.2M2177.4 3410.6V3327.0M2181.8 3340.2V3261.0M2186.2 3300.6V3269.8" stroke="#00bfbf" stroke-width="4.70" stroke-linecap="butt"/>
<path d="M197.4 3437.0V3401.8M201.8 3437.0V3406.2M206.2 3437.0V3401.8M210.6 3432.6V3397.4M215.0 3437.0V3388.6M219.4 3432.6V3384.2M223.8 3432.6V3397.4M228.2 3428.2V3393.0M232.6 3437.0V3384.2M237.0 3437.0V3388.6M241.4 3437.0V3393.0M245.8 3428.2V3379.8M250.2 3419.4V3384.2M254.6 3432.6V3393.0M259.0 3437.0V3393.0M263.4 3445.8V3393.0M267.8 3441.4V3393.0M272.2 3432.6V3384.2M276.6 3423.8V3384.2M281.0 3419.4V3388.6M285.4 3437.0V3388.6M289.8 3432.6V3388.6M294.2 3432.6V3401.8M298.6 3423.8V3384.2M303.0 3445.8V3393.0M307.4 3472.2V3419.4M311.8 3472.2V3419.4M316.2 3472.2V3441.4M320.6 3472.2V3441.4M325.0 3476.6V3419.4M329.4 3454.6V3401.8M333.8 3432.6V3393.0M338.2 3441.4V3406.2M342.6 3419.4V3344.6M347.0 3362.2V3269.8M351.4 3287.4V3252.2M355.8 3322.6V3252.2M360.2 3397.4V3296.2M364.6 3485.4V3388.6M369.0 3542.6V3472.2M373.4 3573.4V3516.2M377.8 3564.6V3507.4M382.2 3516.2V3406.2M386.6 3428.2V3331.4M391.0 3335.8V3274.2M395.4 3305.0V3265.4M399.8 3353.4V3283.0M404.2 3423.8V3318.2M408.6 3520.6V3419.4M413.0 3569.0V3511.8M417.4 3573.4V3520.6M421.8 3538.2V3472.2M426.2 3481.0V3384.2M430.6 3397.4V3300.6M435.0 3309.4V3269.8M439.4 3305.0V3269.8M443.8 3366.6V3278.6M448.2 3454.6V3349.0M452.6 3533.8V3441.4M457.0 3564.6V3507.4M461.4 3560.2V3511.8M465.8 3529.4V3432.6M470.2 3454.6V3353.4M474.6 3366.6V3274.2M479.0 3305.0V3265.4M483.4 3318.2V3265.4M487.8 3415.0V3300.6M492.2 3481.0V3406.2M496.6 3538.2V3454.6M501.0 3564.6V3525.0M505.4 3560.2V3503.0M509.8 3507.4V3423.8M514.2 3428.2V3331.4M518.6 3353.4V3269.8M523.0 3296.2V3252.2M527.4 3349.0V3265.4M531.8 3423.8V3331.4M536.2 3520.6V3415.0M540.6 3564.6V3503.0M545.0 3573.4V3520.6M549.4 3533.8V3459.0M553.8 3485.4V3393.0M558.2 3410.6V3309.4M562.6 3331.4V3265.4M567.0 3313.8V3261.0M571.4 3366.6V3300.6M575.8 3450.2V3357.8M580.2 3525.0V3441.4M584.6 3547.0V3503.0M589.0 3569.0V3503.0M593.4 3529.4V3437.0M597.8 3459.0V3371.0M602.2 3384.2V3291.8M606.6 3313.8V3269.8M611.0 3318.2V3265.4M615.4 3393.0V3305.0M619.8 3485.4V3379.8M624.2 3551.4V3459.0M628.6 3569.0V3538.2M633.0 3560.2V3503.0M637.4 3516.2V3419.4M641.8 3428.2V3313.8M646.2 3340.2V3261.0M650.6 3305.0V3265.4M655.0 3340.2V3269.8M659.4 3415.0V3335.8M663.8 3503.0V3406.2M668.2 3564.6V3489.8M672.6 3577.8V3542.6M677.0 3547.0V3476.6M681.4 3498.6V3393.0M685.8 3406.2V3313.8M690.2 3344.6V3269.8M694.6 3300.6V3269.8M699.0 3366.6V3283.0M703.4 3419.4V3340.2M707.8 3520.6V3410.6M712.2 3551.4V3503.0M716.6 3551.4V3507.4M721.0 3525.0V3441.4M725.4 3463.4V3384.2M729.8 3397.4V3300.6M734.2 3318.2V3278.6M738.6 3327.0V3278.6M743.0 3388.6V3291.8M747.4 3472.2V3379.8M751.8 3538.2V3450.2M756.2 3582.2V3533.8M760.6 3573.4V3516.2M765.0 3525.0V3432.6M769.4 3437.0V3331.4M773.8 3357.8V3283.0M778.2 3291.8V3261.0M782.6 3327.0V3261.0M787.0 3406.2V3313.8M791.4 3503.0V3401.8M795.8 3560.2V3481.0M800.2 3569.0V3529.4M804.6 3555.8V3476.6M809.0 3494.2V3397.4M813.4 3410.6V3322.6M817.8 3331.4V3287.4M822.2 3305.0V3265.4M826.6 3353.4V3278.6M831.0 3445.8V3340.2M835.4 3520.6V3423.8M839.8 3547.0V3494.2M844.2 3573.4V3525.0M848.6 3538.2V3450.2M853.0 3454.6V3379.8M857.4 3388.6V3305.0M861.8 3309.4V3265.4M866.2 3305.0V3261.0M870.6 3393.0V3287.4M875.0 3467.8V3371.0M879.4 3538.2V3445.8M883.8 3564.6V3516.2M888.2 3560.2V3494.2M892.6 3511.8V3432.6M897.0 3437.0V3353.4M901.4 3371.0V3274.2M905.8 3300.6V3243.4M910.2 3331.4V3283.0M914.6 3401.8V3313.8M919.0 3498.6V3388.6M923.4 3542.6V3472.2M927.8 3569.0V3520.6M932.2 3542.6V3498.6M936.6 3516.2V3419.4M941.0 3432.6V3335.8M945.4 3344.6V3269.8M949.8 3305.0V3261.0M954.2 3335.8V3265.4M958.6 3432.6V3318.2M963.0 3507.4V3428.2M967.4 3564.6V3498.6M971.8 3577.8V3533.8M976.2 3538.2V3459.0M980.6 3481.0V3379.8M985.0 3384.2V3300.6M989.4 3322.6V3265.4M993.8 3305.0V3265.4M998.2 3379.8V3283.0M1002.6 3463.4V3366.6M1007.0 3529.4V3450.2M1011.4 3577.8V3516.2M1015.8 3564.6V3507.4M1020.2 3525.0V3423.8M1024.6 3437.0V3353.4M1029.0 3375.4V3296.2M1033.4 3309.4V3265.4M1037.8 3322.6V3261.0M1042.2 3401.8V3300.6M1046.6 3481.0V3397.4M1051.0 3547.0V3476.6M1055.4 3560.2V3529.4M1059.8 3547.0V3503.0M1064.2 3516.2V3410.6M1068.6 3432.6V3331.4M1073.0 3335.8V3274.2M1077.4 3309.4V3265.4M1081.8 3340.2V3265.4M1086.2 3432.6V3327.0M1090.6 3503.0V3428.2M1095.0 3560.2V3498.6M1099.4 3560.2V3520.6M1103.8 3542.6V3485.4M1108.2 3489.8V3375.4M1112.6 3406.2V3296.2M1117.0 3313.8V3252.2M1121.4 3300.6V3261.0M1125.8 3366.6V3296.2M1130.2 3454.6V3353.4M1134.6 3525.0V3437.0M1139.0 3560.2V3516.2M1143.4 3564.6V3516.2M1147.8 3538.2V3441.4M1152.2 3445.8V3362.2M1156.6 3366.6V3296.2M1161.0 3313.8V3265.4M1165.4 3327.0V3278.6M1169.8 3384.2V3309.4M1174.2 3485.4V3379.8M1178.6 3538.2V3476.6M1183.0 3555.8V3516.2M1187.4 3564.6V3494.2M1191.8 3507.4V3428.2M1196.2 3432.6V3340.2M1200.6 3357.8V3274.2M1205.0 3296.2V3256.6M1209.4 3322.6V3261.0M1213.8 3415.0V3318.2M1218.2 3507.4V3406.2M1222.6 3560.2V3485.4M1227.0 3555.8V3529.4M1231.4 3551.4V3472.2M1235.8 3476.6V3397.4M1240.2 3406.2V3327.0M1244.6 3357.8V3274.2M1249.0 3305.0V3269.8M1253.4 3353.4V3278.6M1257.8 3441.4V3344.6M1262.2 3520.6V3415.0M1266.6 3555.8V3507.4M1271.0 3560.2V3516.2M1275.4 3525.0V3450.2M1279.8 3454.6V3371.0M1284.2 3384.2V3305.0M1288.6 3309.4V3256.6M1293.0 3313.8V3261.0M1297.4 3371.0V3291.8M1301.8 3467.8V3357.8M1306.2 3538.2V3450.2M1310.6 3573.4V3520.6M1315.0 3551.4V3507.4M1319.4 3529.4V3415.0M1323.8 3428.2V3340.2M1328.2 3349.0V3287.4M1332.6 3300.6V3274.2M1337.0 3331.4V3274.2M1341.4 3406.2V3322.6M1345.8 3494.2V3401.8M1350.2 3551.4V3472.2M1354.6 3560.2V3520.6M1359.0 3547.0V3476.6M1363.4 3481.0V3397.4M1367.8 3423.8V3318.2M1372.2 3327.0V3256.6M1376.6 3296.2V3252.2M1381.0 3349.0V3274.2M1385.4 3428.2V3344.6M1389.8 3516.2V3406.2M1394.2 3560.2V3494.2M1398.6 3555.8V3511.8M1403.0 3525.0V3467.8M1407.4 3476.6V3384.2M1411.8 3393.0V3305.0M1416.2 3322.6V3269.8M1420.6 3309.4V3252.2M1425.0 3371.0V3287.4M1429.4 3459.0V3366.6M1433.8 3533.8V3454.6M1438.2 3560.2V3516.2M1442.6 3551.4V3516.2M1447.0 3525.0V3441.4M1451.4 3459.0V3344.6M1455.8 3375.4V3287.4M1460.2 3309.4V3243.4M1464.6 3318.2V3256.6M1469.0 3415.0V3296.2M1473.4 3498.6V3388.6M1477.8 3551.4V3481.0M1482.2 3564.6V3538.2M1486.6 3551.4V3498.6M1491.0 3507.4V3419.4M1495.4 3432.6V3335.8M1499.8 3349.0V3274.2M1504.2 3305.0V3269.8M1508.6 3344.6V3283.0M1513.0 3432.6V3327.0M1517.4 3525.0V3415.0M1521.8 3577.8V3520.6M1526.2 3577.8V3507.4M1530.6 3542.6V3481.0M1535.0 3498.6V3379.8M1539.4 3397.4V3305.0M1543.8 3322.6V3269.8M1548.2 3305.0V3256.6M1552.6 3371.0V3283.0M1557.0 3454.6V3366.6M1561.4 3520.6V3450.2M1565.8 3555.8V3507.4M1570.2 3569.0V3503.0M1574.6 3538.2V3441.4M1579.0 3454.6V3349.0M1583.4 3353.4V3296.2M1587.8 3305.0V3256.6M1592.2 3331.4V3269.8M1596.6 3406.2V3313.8M1601.0 3476.6V3393.0M1605.4 3547.0V3463.4M1609.8 3564.6V3520.6M1614.2 3564.6V3485.4M1618.6 3498.6V3415.0M1623.0 3419.4V3340.2M1627.4 3353.4V3283.0M1631.8 3291.8V3247.8M1636.2 3344.6V3265.4M1640.6 3437.0V3340.2M1645.0 3498.6V3401.8M1649.4 3555.8V3481.0M1653.8 3564.6V3520.6M1658.2 3547.0V3476.6M1662.6 3489.8V3393.0M1667.0 3406.2V3309.4M1671.4 3318.2V3269.8M1675.8 3309.4V3265.4M1680.2 3375.4V3291.8M1684.6 3437.0V3362.2M1689.0 3533.8V3432.6M1693.4 3569.0V3507.4M1697.8 3564.6V3525.0M1702.2 3542.6V3454.6M1706.6 3459.0V3353.4M1711.0 3366.6V3291.8M1715.4 3300.6V3243.4M1719.8 3327.0V3256.6M1724.2 3393.0V3313.8M1728.6 3481.0V3384.2M1733.0 3542.6V3472.2M1737.4 3555.8V3520.6M1741.8 3555.8V3507.4M1746.2 3516.2V3419.4M1750.6 3432.6V3344.6M1755.0 3357.8V3278.6M1759.4 3291.8V3256.6M1763.8 3331.4V3269.8M1768.2 3428.2V3313.8M1772.6 3516.2V3406.2M1777.0 3555.8V3511.8M1781.4 3577.8V3533.8M1785.8 3551.4V3472.2M1790.2 3485.4V3388.6M1794.6 3401.8V3318.2M1799.0 3344.6V3269.8M1803.4 3313.8V3256.6M1807.8 3362.2V3287.4M1812.2 3441.4V3335.8M1816.6 3525.0V3437.0M1821.0 3555.8V3511.8M1825.4 3564.6V3525.0M1829.8 3529.4V3445.8M1834.2 3459.0V3375.4M1838.6 3384.2V3296.2M1843.0 3318.2V3269.8M1847.4 3296.2V3256.6M1851.8 3384.2V3287.4M1856.2 3463.4V3379.8M1860.6 3551.4V3459.0M1865.0 3577.8V3529.4M1869.4 3564.6V3498.6M1873.8 3529.4V3441.4M1878.2 3445.8V3349.0M1882.6 3353.4V3287.4M1887.0 3291.8V3256.6M1891.4 3335.8V3252.2M1895.8 3397.4V3305.0M1900.2 3498.6V3384.2M1904.6 3547.0V3476.6M1909.0 3569.0V3529.4M1913.4 3560.2V3489.8M1917.8 3516.2V3415.0M1922.2 3423.8V3313.8M1926.6 3327.0V3274.2M1931.0 3300.6V3256.6M1935.4 3349.0V3287.4M1939.8 3441.4V3327.0M1944.2 3525.0V3432.6M1948.6 3555.8V3511.8M1953.0 3569.0V3525.0M1957.4 3533.8V3450.2M1961.8 3472.2V3366.6M1966.2 3379.8V3300.6M1970.6 3327.0V3265.4M1975.0 3318.2V3265.4M1979.4 3393.0V3313.8M1983.8 3454.6V3379.8M1988.2 3533.8V3445.8M1992.6 3560.2V3520.6M1997.0 3555.8V3520.6M2001.4 3529.4V3454.6M2005.8 3459.0V3357.8M2010.2 3366.6V3278.6M2014.6 3287.4V3252.2M2019.0 3340.2V3252.2M2023.4 3410.6V3305.0M2027.8 3498.6V3379.8M2032.2 3551.4V3481.0M2036.6 3564.6V3533.8M2041.0 3560.2V3494.2M2045.4 3507.4V3419.4M2049.8 3428.2V3327.0M2054.2 3349.0V3287.4M2058.6 3291.8V3243.4M2063.0 3340.2V3261.0M2067.4 3419.4V3335.8M2071.8 3516.2V3415.0M2076.2 3547.0V3503.0M2080.6 3555.8V3529.4M2085.0 3551.4V3472.2M2089.4 3481.0V3384.2M2093.8 3393.0V3305.0M2098.2 3318.2V3256.6M2102.6 3300.6V3274.2M2107.0 3366.6V3291.8M2111.4 3463.4V3362.2M2115.8 3529.4V3450.2M2120.2 3564.6V3520.6M2124.6 3555.8V3516.2M2129.0 3520.6V3454.6M2133.4 3472.2V3362.2M2137.8 3375.4V3283.0M2142.2 3313.8V3269.8M2146.6 3327.0V3283.0M2151.0 3388.6V3309.4M2155.4 3485.4V3366.6M2159.8 3538.2V3481.0M2164.2 3560.2V3516.2M2168.6 3547.0V3489.8M2173.0 3498.6V3419.4M2177.4 3423.8V3335.8M2181.8 3349.0V3269.8M2186.2 3291.8V3256.6" stroke="#bf00bf" stroke-width="4.70" stroke-linecap="butt"/>
<path d="M197.4 3428.2V3393.0M201.8 3428.2V3406.2M206.2 3432.6V3401.8M210.6 3428.2V3397.4M215.0 3419.4V3397.4M219.4 3423.8V3384.2M223.8 3419.4V3388.6M228.2 3428.2V3401.8M232.6 3432.6V3397.4M237.0 3432.6V3393.0M241.4 3428.2V3397.4M245.8 3428.2V3393.0M250.2 3428.2V3401.8M254.6 3428.2V3401.8M259.0 3432.6V3401.8M263.4 3428.2V3393.0M267.8 3428.2V3401.8M272.2 3428.2V3397.4M276.6 3432.6V3397.4M281.0 3428.2V3401.8M285.4 3441.4V3406.2M289.8 3437.0V3401.8M294.2 3428.2V3401.8M298.6 3432.6V3401.8M303.0 3437.0V3393.0M307.4 3454.6V3419.4M311.8 3463.4V3437.0M316.2 3467.8V3441.4M320.6 3454.6V3423.8M325.0 3463.4V3428.2M329.4 3450.2V3419.4M333.8 3454.6V3410.6M338.2 3428.2V3401.8M342.6 3428.2V3335.8M347.0 3344.6V3256.6M351.4 3287.4V3252.2M355.8 3335.8V3256.6M360.2 3415.0V3327.0M364.6 3489.8V3410.6M369.0 3555.8V3481.0M373.4 3564.6V3533.8M377.8 3551.4V3481.0M382.2 3489.8V3388.6M386.6 3397.4V3318.2M391.0 3322.6V3265.4M395.4 3287.4V3261.0M399.8 3362.2V3274.2M404.2 3437.0V3353.4M408.6 3529.4V3432.6M413.0 3555.8V3511.8M417.4 3569.0V3533.8M421.8 3538.2V3450.2M426.2 3454.6V3371.0M430.6 3379.8V3291.8M435.0 3305.0V3256.6M439.4 3309.4V3261.0M443.8 3384.2V3296.2M448.2 3472.2V3375.4M452.6 3542.6V3467.8M457.0 3564.6V3529.4M461.4 3564.6V3520.6M465.8 3529.4V3432.6M470.2 3441.4V3331.4M474.6 3344.6V3283.0M479.0 3291.8V3261.0M483.4 3327.0V3278.6M487.8 3410.6V3322.6M492.2 3485.4V3406.2M496.6 3538.2V3481.0M501.0 3560.2V3533.8M505.4 3551.4V3489.8M509.8 3503.0V3415.0M514.2 3419.4V3313.8M518.6 3331.4V3269.8M523.0 3291.8V3256.6M527.4 3344.6V3274.2M531.8 3437.0V3340.2M536.2 3525.0V3428.2M540.6 3564.6V3503.0M545.0 3577.8V3516.2M549.4 3533.8V3463.4M553.8 3485.4V3371.0M558.2 3388.6V3296.2M562.6 3313.8V3274.2M567.0 3318.2V3265.4M571.4 3379.8V3309.4M575.8 3459.0V3375.4M580.2 3542.6V3454.6M584.6 3564.6V3529.4M589.0 3564.6V3503.0M593.4 3516.2V3437.0M597.8 3450.2V3357.8M602.2 3362.2V3278.6M606.6 3300.6V3265.4M611.0 3322.6V3274.2M615.4 3401.8V3318.2M619.8 3481.0V3397.4M624.2 3555.8V3467.8M628.6 3569.0V3538.2M633.0 3564.6V3503.0M637.4 3507.4V3419.4M641.8 3423.8V3322.6M646.2 3331.4V3261.0M650.6 3296.2V3256.6M655.0 3353.4V3278.6M659.4 3428.2V3344.6M663.8 3511.8V3410.6M668.2 3555.8V3498.6M672.6 3560.2V3525.0M677.0 3547.0V3472.2M681.4 3485.4V3388.6M685.8 3393.0V3305.0M690.2 3309.4V3261.0M694.6 3300.6V3261.0M699.0 3366.6V3283.0M703.4 3463.4V3362.2M707.8 3542.6V3459.0M712.2 3569.0V3529.4M716.6 3573.4V3520.6M721.0 3525.0V3437.0M725.4 3441.4V3357.8M729.8 3371.0V3283.0M734.2 3296.2V3265.4M738.6 3309.4V3265.4M743.0 3397.4V3305.0M747.4 3489.8V3393.0M751.8 3555.8V3476.6M756.2 3573.4V3520.6M760.6 3555.8V3511.8M765.0 3516.2V3415.0M769.4 3423.8V3335.8M773.8 3340.2V3269.8M778.2 3296.2V3265.4M782.6 3340.2V3274.2M787.0 3428.2V3335.8M791.4 3507.4V3415.0M795.8 3555.8V3494.2M800.2 3560.2V3538.2M804.6 3542.6V3481.0M809.0 3494.2V3384.2M813.4 3397.4V3305.0M817.8 3309.4V3265.4M822.2 3309.4V3265.4M826.6 3366.6V3296.2M831.0 3459.0V3357.8M835.4 3525.0V3454.6M839.8 3560.2V3507.4M844.2 3560.2V3520.6M848.6 3529.4V3437.0M853.0 3441.4V3362.2M857.4 3366.6V3296.2M861.8 3300.6V3261.0M866.2 3322.6V3256.6M870.6 3397.4V3313.8M875.0 3472.2V3388.6M879.4 3538.2V3467.8M883.8 3569.0V3529.4M888.2 3564.6V3503.0M892.6 3511.8V3428.2M897.0 3432.6V3335.8M901.4 3357.8V3283.0M905.8 3287.4V3261.0M910.2 3340.2V3269.8M914.6 3419.4V3335.8M919.0 3489.8V3410.6M923.4 3560.2V3485.4M927.8 3577.8V3547.0M932.2 3560.2V3476.6M936.6 3489.8V3393.0M941.0 3397.4V3300.6M945.4 3318.2V3274.2M949.8 3309.4V3269.8M954.2 3349.0V3291.8M958.6 3432.6V3344.6M963.0 3516.2V3428.2M967.4 3564.6V3511.8M971.8 3564.6V3525.0M976.2 3538.2V3463.4M980.6 3472.2V3362.2M985.0 3375.4V3300.6M989.4 3318.2V3269.8M993.8 3313.8V3269.8M998.2 3384.2V3300.6M1002.6 3463.4V3375.4M1007.0 3542.6V3450.2M1011.4 3577.8V3538.2M1015.8 3569.0V3511.8M1020.2 3525.0V3419.4M1024.6 3432.6V3344.6M1029.0 3357.8V3278.6M1033.4 3296.2V3261.0M1037.8 3322.6V3256.6M1042.2 3410.6V3300.6M1046.6 3494.2V3388.6M1051.0 3551.4V3489.8M1055.4 3569.0V3533.8M1059.8 3555.8V3498.6M1064.2 3503.0V3410.6M1068.6 3415.0V3327.0M1073.0 3331.4V3261.0M1077.4 3287.4V3256.6M1081.8 3357.8V3283.0M1086.2 3437.0V3349.0M1090.6 3516.2V3432.6M1095.0 3569.0V3511.8M1099.4 3582.2V3538.2M1103.8 3542.6V3467.8M1108.2 3476.6V3379.8M1112.6 3388.6V3291.8M1117.0 3318.2V3261.0M1121.4 3309.4V3256.6M1125.8 3375.4V3296.2M1130.2 3476.6V3353.4M1134.6 3533.8V3467.8M1139.0 3560.2V3516.2M1143.4 3564.6V3511.8M1147.8 3533.8V3428.2M1152.2 3437.0V3349.0M1156.6 3353.4V3287.4M1161.0 3300.6V3265.4M1165.4 3318.2V3256.6M1169.8 3406.2V3309.4M1174.2 3494.2V3384.2M1178.6 3551.4V3489.8M1183.0 3569.0V3538.2M1187.4 3560.2V3489.8M1191.8 3503.0V3415.0M1196.2 3419.4V3327.0M1200.6 3349.0V3274.2M1205.0 3287.4V3252.2M1209.4 3344.6V3278.6M1213.8 3428.2V3340.2M1218.2 3516.2V3419.4M1222.6 3555.8V3494.2M1227.0 3569.0V3529.4M1231.4 3547.0V3472.2M1235.8 3481.0V3388.6M1240.2 3393.0V3300.6M1244.6 3318.2V3261.0M1249.0 3305.0V3261.0M1253.4 3388.6V3291.8M1257.8 3467.8V3375.4M1262.2 3529.4V3454.6M1266.6 3564.6V3520.6M1271.0 3564.6V3516.2M1275.4 3525.0V3459.0M1279.8 3463.4V3353.4M1284.2 3357.8V3296.2M1288.6 3305.0V3265.4M1293.0 3309.4V3265.4M1297.4 3388.6V3291.8M1301.8 3489.8V3384.2M1306.2 3542.6V3472.2M1310.6 3564.6V3538.2M1315.0 3555.8V3494.2M1319.4 3520.6V3419.4M1323.8 3423.8V3331.4M1328.2 3349.0V3278.6M1332.6 3287.4V3247.8M1337.0 3344.6V3269.8M1341.4 3423.8V3331.4M1345.8 3507.4V3410.6M1350.2 3551.4V3494.2M1354.6 3569.0V3529.4M1359.0 3547.0V3485.4M1363.4 3489.8V3397.4M1367.8 3410.6V3327.0M1372.2 3331.4V3274.2M1376.6 3300.6V3265.4M1381.0 3366.6V3287.4M1385.4 3454.6V3353.4M1389.8 3529.4V3445.8M1394.2 3573.4V3516.2M1398.6 3573.4V3529.4M1403.0 3538.2V3450.2M1407.4 3459.0V3371.0M1411.8 3375.4V3296.2M1416.2 3313.8V3261.0M1420.6 3309.4V3256.6M1425.0 3379.8V3296.2M1429.4 3476.6V3371.0M1433.8 3538.2V3463.4M1438.2 3560.2V3525.0M1442.6 3560.2V3507.4M1447.0 3516.2V3432.6M1451.4 3441.4V3344.6M1455.8 3357.8V3283.0M1460.2 3296.2V3265.4M1464.6 3331.4V3274.2M1469.0 3415.0V3327.0M1473.4 3498.6V3406.2M1477.8 3551.4V3494.2M1482.2 3569.0V3533.8M1486.6 3560.2V3481.0M1491.0 3498.6V3410.6M1495.4 3415.0V3313.8M1499.8 3322.6V3269.8M1504.2 3296.2V3256.6M1508.6 3353.4V3283.0M1513.0 3437.0V3344.6M1517.4 3525.0V3432.6M1521.8 3564.6V3520.6M1526.2 3564.6V3516.2M1530.6 3538.2V3459.0M1535.0 3467.8V3357.8M1539.4 3371.0V3296.2M1543.8 3305.0V3269.8M1548.2 3318.2V3265.4M1552.6 3384.2V3309.4M1557.0 3476.6V3375.4M1561.4 3542.6V3467.8M1565.8 3569.0V3520.6M1570.2 3564.6V3507.4M1574.6 3520.6V3428.2M1579.0 3441.4V3349.0M1583.4 3357.8V3278.6M1587.8 3296.2V3243.4M1592.2 3322.6V3265.4M1596.6 3410.6V3309.4M1601.0 3503.0V3406.2M1605.4 3560.2V3485.4M1609.8 3569.0V3538.2M1614.2 3560.2V3494.2M1618.6 3503.0V3406.2M1623.0 3410.6V3327.0M1627.4 3349.0V3269.8M1631.8 3296.2V3243.4M1636.2 3349.0V3274.2M1640.6 3437.0V3340.2M1645.0 3511.8V3432.6M1649.4 3564.6V3507.4M1653.8 3564.6V3525.0M1658.2 3542.6V3472.2M1662.6 3476.6V3384.2M1667.0 3388.6V3300.6M1671.4 3309.4V3265.4M1675.8 3309.4V3269.8M1680.2 3375.4V3287.4M1684.6 3454.6V3366.6M1689.0 3538.2V3450.2M1693.4 3555.8V3516.2M1697.8 3551.4V3507.4M1702.2 3520.6V3428.2M1706.6 3437.0V3344.6M1711.0 3349.0V3278.6M1715.4 3291.8V3256.6M1719.8 3322.6V3269.8M1724.2 3388.6V3318.2M1728.6 3485.4V3384.2M1733.0 3555.8V3481.0M1737.4 3569.0V3533.8M1741.8 3542.6V3494.2M1746.2 3503.0V3406.2M1750.6 3415.0V3335.8M1755.0 3344.6V3274.2M1759.4 3296.2V3265.4M1763.8 3340.2V3274.2M1768.2 3432.6V3327.0M1772.6 3525.0V3419.4M1777.0 3564.6V3507.4M1781.4 3564.6V3529.4M1785.8 3538.2V3467.8M1790.2 3485.4V3388.6M1794.6 3406.2V3305.0M1799.0 3313.8V3261.0M1803.4 3287.4V3261.0M1807.8 3357.8V3283.0M1812.2 3454.6V3349.0M1816.6 3538.2V3445.8M1821.0 3560.2V3516.2M1825.4 3569.0V3516.2M1829.8 3525.0V3441.4M1834.2 3445.8V3353.4M1838.6 3366.6V3291.8M1843.0 3305.0V3252.2M1847.4 3318.2V3265.4M1851.8 3393.0V3309.4M1856.2 3481.0V3384.2M1860.6 3538.2V3476.6M1865.0 3564.6V3529.4M1869.4 3564.6V3498.6M1873.8 3503.0V3410.6M1878.2 3423.8V3327.0M1882.6 3340.2V3265.4M1887.0 3296.2V3265.4M1891.4 3349.0V3274.2M1895.8 3423.8V3340.2M1900.2 3498.6V3419.4M1904.6 3551.4V3489.8M1909.0 3564.6V3525.0M1913.4 3538.2V3476.6M1917.8 3485.4V3388.6M1922.2 3401.8V3313.8M1926.6 3322.6V3274.2M1931.0 3309.4V3269.8M1935.4 3357.8V3296.2M1939.8 3459.0V3353.4M1944.2 3529.4V3441.4M1948.6 3569.0V3520.6M1953.0 3573.4V3520.6M1957.4 3533.8V3454.6M1961.8 3463.4V3366.6M1966.2 3379.8V3296.2M1970.6 3300.6V3265.4M1975.0 3335.8V3274.2M1979.4 3393.0V3313.8M1983.8 3485.4V3384.2M1988.2 3551.4V3472.2M1992.6 3564.6V3533.8M1997.0 3555.8V3498.6M2001.4 3511.8V3437.0M2005.8 3441.4V3349.0M2010.2 3353.4V3283.0M2014.6 3296.2V3265.4M2019.0 3335.8V3269.8M2023.4 3406.2V3322.6M2027.8 3498.6V3401.8M2032.2 3555.8V3485.4M2036.6 3569.0V3538.2M2041.0 3555.8V3489.8M2045.4 3494.2V3406.2M2049.8 3415.0V3305.0M2054.2 3322.6V3265.4M2058.6 3291.8V3261.0M2063.0 3353.4V3274.2M2067.4 3441.4V3344.6M2071.8 3516.2V3437.0M2076.2 3555.8V3511.8M2080.6 3564.6V3529.4M2085.0 3542.6V3459.0M2089.4 3476.6V3388.6M2093.8 3393.0V3300.6M2098.2 3313.8V3269.8M2102.6 3309.4V3269.8M2107.0 3366.6V3296.2M2111.4 3472.2V3362.2M2115.8 3538.2V3467.8M2120.2 3573.4V3529.4M2124.6 3577.8V3529.4M2129.0 3533.8V3441.4M2133.4 3445.8V3349.0M2137.8 3353.4V3283.0M2142.2 3296.2V3261.0M2146.6 3322.6V3261.0M2151.0 3419.4V3313.8M2155.4 3498.6V3415.0M2159.8 3560.2V3494.2M2164.2 3569.0V3538.2M2168.6 3560.2V3489.8M2173.0 3503.0V3397.4M2177.4 3401.8V3322.6M2181.8 3335.8V3278.6M2186.2 3296.2V3252.2" stroke="#636363" stroke-width="4.70" stroke-linecap="butt"/>
</g>
<text x="197.7" y="3753.3" text-anchor="middle">0</text>
<text x="416.8" y="3753.3" text-anchor="middle">10</text>
<text x="638.5" y="3753.3" text-anchor="middle">20</text>
<text x="860.1" y="3753.3" text-anchor="middle">30</text>
<text x="1081.7" y="3753.3" text-anchor="middle">40</text>
<text x="1303.4" y="3753.3" text-anchor="middle">50</text>
<text x="1525.0" y="3753.3" text-anchor="middle">60</text>
<text x="1746.6" y="3753.3" text-anchor="middle">70</text>
<text x="1968.3" y="3753.3" text-anchor="middle">80</text>
<text x="2189.9" y="3753.3" text-anchor="middle">90</text>
<text x="181.9" y="3708.5" text-anchor="end">-20</text>
<text x="181.9" y="3571.5" text-anchor="end">-10</text>
<text x="181.9" y="3434.5" text-anchor="end">0</text>
<text x="181.9" y="3297.5" text-anchor="end">10</text>
<text x="181.9" y="3160.5" text-anchor="end">20</text>
<text transform="translate(62.0 3412.2) rotate(-90)" text-anchor="middle">Rate (deg/s)</text>
<rect x="1696.7" y="3154.6" width="475.3" height="95.4" fill="#fff" stroke="#000" stroke-width="4.5"/>
<path d="M1724.0 3202.5H1874.8" stroke="#0000ff" stroke-width="3.8" fill="none"/>
<text transform="translate(1888.0 3228.0) scale(0.9750 1.0600)">Gyro array</text>
<clipPath id="clipC2"><rect x="199.6" y="3799.6" width="1990.9" height="577.4"/></clipPath>
<path d="M416.7 4377.0V4353.5M416.7 3799.6V3823.1M637.8 4377.0V4353.5M637.8 3799.6V3823.1M859.0 4377.0V4353.5M859.0 3799.6V3823.1M1080.1 4377.0V4353.5M1080.1 3799.6V3823.1M1301.2 4377.0V4353.5M1301.2 3799.6V3823.1M1522.3 4377.0V4353.5M1522.3 3799.6V3823.1M1743.5 4377.0V4353.5M1743.5 3799.6V3823.1M1964.6 4377.0V4353.5M1964.6 3799.6V3823.1M197.4 4232.6H217.4M2186.5 4232.6H2166.5M197.4 4088.3H217.4M2186.5 4088.3H2166.5M197.4 3943.9H217.4M2186.5 3943.9H2166.5" stroke="#000" stroke-width="4.5" fill="none"/>
<rect x="197.4" y="3799.6" width="1989.1" height="577.4" fill="none" stroke="#000" stroke-width="4.5"/>
<g clip-path="url(#clipC2)" fill="none" stroke-linejoin="miter" stroke-linecap="square">
<path d="M197.8 4087.8V4079.0M202.2 4087.8V4079.0M206.6 4087.8V4083.4M211.0 4087.8V4079.0M215.4 4087.8V4079.0M219.8 4087.8V4083.4M224.2 4087.8V4083.4M228.6 4092.2V4083.4M233.0 4087.8V4083.4M237.4 4092.2V4083.4M241.8 4092.2V4083.4M246.2 4092.2V4083.4M250.6 4087.8V4083.4M255.0 4087.8V4079.0M259.4 4087.8V4079.0M263.8 4087.8V4083.4M268.2 4087.8V4083.4M272.6 4087.8V4079.0M277.0 4083.4V4079.0M281.4 4087.8V4079.0M285.8 4087.8V4079.0M290.2 4092.2V4079.0M294.6 4092.2V4083.4M299.0 4092.2V4083.4M303.4 4105.4V4087.8M307.8 4118.6V4101.0M312.2 4127.4V4114.2M316.6 4131.8V4123.0M321.0 4131.8V4123.0M325.4 4127.4V4114.2M329.8 4118.6V4101.0M334.2 4105.4V4087.8M338.6 4096.6V4087.8M343.0 4092.2V4004.2M347.4 4008.6V3951.4M351.8 3955.8V3942.6M356.2 4008.6V3947.0M360.6 4101.0V4004.2M365.0 4184.6V4096.6M369.4 4228.6V4180.2M373.8 4237.4V4215.4M378.2 4219.8V4153.8M382.6 4158.2V4061.4M387.0 4065.8V3982.2M391.4 3986.6V3942.6M395.8 3960.2V3942.6M400.2 4030.6V3955.8M404.6 4127.4V4026.2M409.0 4202.2V4123.0M413.4 4237.4V4197.8M417.8 4237.4V4202.2M422.2 4206.6V4127.4M426.6 4131.8V4039.4M431.0 4043.8V3964.6M435.4 3969.0V3938.2M439.8 3982.2V3942.6M444.2 4065.8V3977.8M448.6 4158.2V4061.4M453.0 4224.2V4153.8M457.4 4237.4V4219.8M461.8 4233.0V4180.2M466.2 4184.6V4092.2M470.6 4096.6V4004.2M475.0 4008.6V3951.4M479.4 3955.8V3942.6M483.8 4008.6V3951.4M488.2 4101.0V4004.2M492.6 4180.2V4096.6M497.0 4228.6V4175.8M501.4 4237.4V4219.8M505.8 4224.2V4158.2M510.2 4162.6V4065.8M514.6 4070.2V3986.6M519.0 3991.0V3942.6M523.4 3964.6V3942.6M527.8 4030.6V3960.2M532.2 4118.6V4026.2M536.6 4202.2V4114.2M541.0 4237.4V4197.8M545.4 4233.0V4202.2M549.8 4206.6V4123.0M554.2 4127.4V4035.0M558.6 4039.4V3969.0M563.0 3973.4V3947.0M567.4 3986.6V3947.0M571.8 4065.8V3982.2M576.2 4158.2V4061.4M580.6 4219.8V4153.8M585.0 4233.0V4215.4M589.4 4228.6V4180.2M593.8 4184.6V4101.0M598.2 4105.4V4008.6M602.6 4013.0V3955.8M607.0 3960.2V3938.2M611.4 4008.6V3947.0M615.8 4092.2V4004.2M620.2 4180.2V4087.8M624.6 4233.0V4175.8M629.0 4237.4V4219.8M633.4 4224.2V4158.2M637.8 4162.6V4061.4M642.2 4065.8V3982.2M646.6 3986.6V3942.6M651.0 3960.2V3938.2M655.4 4030.6V3955.8M659.8 4127.4V4026.2M664.2 4202.2V4123.0M668.6 4237.4V4197.8M673.0 4237.4V4202.2M677.4 4206.6V4127.4M681.8 4131.8V4035.0M686.2 4039.4V3960.2M690.6 3964.6V3942.6M695.0 3982.2V3942.6M699.4 4061.4V3977.8M703.8 4149.4V4057.0M708.2 4219.8V4145.0M712.6 4233.0V4215.4M717.0 4228.6V4184.6M721.4 4189.0V4101.0M725.8 4105.4V4013.0M730.2 4017.4V3951.4M734.6 3955.8V3942.6M739.0 4004.2V3947.0M743.4 4092.2V3999.8M747.8 4180.2V4087.8M752.2 4233.0V4175.8M756.6 4237.4V4215.4M761.0 4219.8V4158.2M765.4 4162.6V4065.8M769.8 4070.2V3982.2M774.2 3986.6V3942.6M778.6 3960.2V3942.6M783.0 4030.6V3955.8M787.4 4127.4V4026.2M791.8 4193.4V4123.0M796.2 4233.0V4189.0M800.6 4233.0V4206.6M805.0 4211.0V4127.4M809.4 4131.8V4039.4M813.8 4043.8V3969.0M818.2 3973.4V3942.6M822.6 3982.2V3942.6M827.0 4057.0V3977.8M831.4 4149.4V4052.6M835.8 4219.8V4145.0M840.2 4237.4V4215.4M844.6 4233.0V4180.2M849.0 4184.6V4096.6M853.4 4101.0V4008.6M857.8 4013.0V3951.4M862.2 3955.8V3942.6M866.6 4004.2V3947.0M871.0 4092.2V3999.8M875.4 4184.6V4087.8M879.8 4228.6V4180.2M884.2 4233.0V4211.0M888.6 4215.4V4153.8M893.0 4158.2V4074.6M897.4 4079.0V3986.6M901.8 3991.0V3942.6M906.2 3960.2V3938.2M910.6 4030.6V3955.8M915.0 4118.6V4026.2M919.4 4197.8V4114.2M923.8 4233.0V4193.4M928.2 4233.0V4206.6M932.6 4211.0V4136.2M937.0 4140.6V4043.8M941.4 4048.2V3969.0M945.8 3973.4V3942.6M950.2 3982.2V3942.6M954.6 4061.4V3977.8M959.0 4153.8V4057.0M963.4 4215.4V4149.4M967.8 4233.0V4211.0M972.2 4228.6V4180.2M976.6 4184.6V4096.6M981.0 4101.0V4008.6M985.4 4013.0V3947.0M989.8 3951.4V3938.2M994.2 3999.8V3947.0M998.6 4083.4V3995.4M1003.0 4175.8V4079.0M1007.4 4228.6V4171.4M1011.8 4237.4V4224.2M1016.2 4228.6V4167.0M1020.6 4171.4V4070.2M1025.0 4074.6V3986.6M1029.4 3991.0V3947.0M1033.8 3964.6V3942.6M1038.2 4030.6V3960.2M1042.6 4118.6V4026.2M1047.0 4197.8V4114.2M1051.4 4233.0V4193.4M1055.8 4233.0V4206.6M1060.2 4211.0V4131.8M1064.6 4136.2V4039.4M1069.0 4043.8V3964.6M1073.4 3969.0V3942.6M1077.8 3982.2V3942.6M1082.2 4061.4V3977.8M1086.6 4153.8V4057.0M1091.0 4219.8V4149.4M1095.4 4237.4V4215.4M1099.8 4237.4V4189.0M1104.2 4193.4V4105.4M1108.6 4109.8V4013.0M1113.0 4017.4V3955.8M1117.4 3960.2V3938.2M1121.8 3999.8V3942.6M1126.2 4087.8V3995.4M1130.6 4175.8V4083.4M1135.0 4228.6V4171.4M1139.4 4233.0V4224.2M1143.8 4228.6V4162.6M1148.2 4167.0V4070.2M1152.6 4074.6V3986.6M1157.0 3991.0V3942.6M1161.4 3964.6V3938.2M1165.8 4030.6V3960.2M1170.2 4118.6V4026.2M1174.6 4197.8V4114.2M1179.0 4233.0V4193.4M1183.4 4237.4V4206.6M1187.8 4211.0V4140.6M1192.2 4145.0V4048.2M1196.6 4052.6V3973.4M1201.0 3977.8V3942.6M1205.4 3977.8V3942.6M1209.8 4057.0V3973.4M1214.2 4149.4V4052.6M1218.6 4215.4V4145.0M1223.0 4237.4V4211.0M1227.4 4233.0V4189.0M1231.8 4193.4V4105.4M1236.2 4109.8V4013.0M1240.6 4017.4V3955.8M1245.0 3960.2V3942.6M1249.4 3999.8V3947.0M1253.8 4092.2V3995.4M1258.2 4175.8V4087.8M1262.6 4228.6V4171.4M1267.0 4233.0V4224.2M1271.4 4228.6V4162.6M1275.8 4167.0V4070.2M1280.2 4074.6V3982.2M1284.6 3986.6V3942.6M1289.0 3960.2V3942.6M1293.4 4026.2V3955.8M1297.8 4118.6V4021.8M1302.2 4197.8V4114.2M1306.6 4233.0V4193.4M1311.0 4237.4V4211.0M1315.4 4215.4V4140.6M1319.8 4145.0V4048.2M1324.2 4052.6V3969.0M1328.6 3973.4V3942.6M1333.0 3982.2V3942.6M1337.4 4052.6V3977.8M1341.8 4145.0V4048.2M1346.2 4215.4V4140.6M1350.6 4233.0V4211.0M1355.0 4233.0V4189.0M1359.4 4193.4V4105.4M1363.8 4109.8V4017.4M1368.2 4021.8V3955.8M1372.6 3960.2V3938.2M1377.0 3995.4V3942.6M1381.4 4087.8V3991.0M1385.8 4175.8V4083.4M1390.2 4224.2V4171.4M1394.6 4233.0V4219.8M1399.0 4224.2V4167.0M1403.4 4171.4V4079.0M1407.8 4083.4V3991.0M1412.2 3995.4V3947.0M1416.6 3960.2V3942.6M1421.0 4030.6V3955.8M1425.4 4114.2V4026.2M1429.8 4197.8V4109.8M1434.2 4233.0V4193.4M1438.6 4233.0V4206.6M1443.0 4211.0V4131.8M1447.4 4136.2V4039.4M1451.8 4043.8V3969.0M1456.2 3973.4V3942.6M1460.6 3977.8V3942.6M1465.0 4057.0V3973.4M1469.4 4153.8V4052.6M1473.8 4219.8V4149.4M1478.2 4237.4V4215.4M1482.6 4237.4V4189.0M1487.0 4193.4V4114.2M1491.4 4118.6V4017.4M1495.8 4021.8V3955.8M1500.2 3960.2V3938.2M1504.6 3995.4V3938.2M1509.0 4083.4V3991.0M1513.4 4167.0V4079.0M1517.8 4228.6V4162.6M1522.2 4237.4V4224.2M1526.6 4228.6V4167.0M1531.0 4171.4V4079.0M1535.4 4083.4V3991.0M1539.8 3995.4V3942.6M1544.2 3960.2V3938.2M1548.6 4026.2V3955.8M1553.0 4118.6V4021.8M1557.4 4193.4V4114.2M1561.8 4233.0V4189.0M1566.2 4233.0V4206.6M1570.6 4211.0V4136.2M1575.0 4140.6V4043.8M1579.4 4048.2V3964.6M1583.8 3969.0V3938.2M1588.2 3973.4V3942.6M1592.6 4052.6V3969.0M1597.0 4140.6V4048.2M1601.4 4215.4V4136.2M1605.8 4233.0V4211.0M1610.2 4233.0V4193.4M1614.6 4197.8V4105.4M1619.0 4109.8V4017.4M1623.4 4021.8V3955.8M1627.8 3960.2V3942.6M1632.2 3999.8V3947.0M1636.6 4083.4V3995.4M1641.0 4171.4V4079.0M1645.4 4224.2V4167.0M1649.8 4233.0V4219.8M1654.2 4224.2V4167.0M1658.6 4171.4V4079.0M1663.0 4083.4V3991.0M1667.4 3995.4V3942.6M1671.8 3960.2V3942.6M1676.2 4026.2V3955.8M1680.6 4118.6V4021.8M1685.0 4193.4V4114.2M1689.4 4233.0V4189.0M1693.8 4237.4V4211.0M1698.2 4215.4V4140.6M1702.6 4145.0V4048.2M1707.0 4052.6V3973.4M1711.4 3977.8V3938.2M1715.8 3973.4V3938.2M1720.2 4048.2V3969.0M1724.6 4140.6V4043.8M1729.0 4215.4V4136.2M1733.4 4233.0V4211.0M1737.8 4233.0V4189.0M1742.2 4193.4V4114.2M1746.6 4118.6V4017.4M1751.0 4021.8V3955.8M1755.4 3960.2V3947.0M1759.8 3995.4V3947.0M1764.2 4087.8V3991.0M1768.6 4175.8V4083.4M1773.0 4228.6V4171.4M1777.4 4233.0V4219.8M1781.8 4224.2V4167.0M1786.2 4171.4V4083.4M1790.6 4087.8V3995.4M1795.0 3999.8V3947.0M1799.4 3960.2V3942.6M1803.8 4021.8V3955.8M1808.2 4109.8V4017.4M1812.6 4197.8V4105.4M1817.0 4233.0V4193.4M1821.4 4233.0V4206.6M1825.8 4211.0V4140.6M1830.2 4145.0V4048.2M1834.6 4052.6V3969.0M1839.0 3973.4V3938.2M1843.4 3977.8V3938.2M1847.8 4052.6V3973.4M1852.2 4145.0V4048.2M1856.6 4215.4V4140.6M1861.0 4233.0V4211.0M1865.4 4233.0V4189.0M1869.8 4193.4V4105.4M1874.2 4109.8V4013.0M1878.6 4017.4V3955.8M1883.0 3960.2V3942.6M1887.4 3991.0V3942.6M1891.8 4074.6V3986.6M1896.2 4162.6V4070.2M1900.6 4224.2V4158.2M1905.0 4233.0V4219.8M1909.4 4228.6V4171.4M1913.8 4175.8V4079.0M1918.2 4083.4V3995.4M1922.6 3999.8V3951.4M1927.0 3955.8V3942.6M1931.4 4017.4V3951.4M1935.8 4109.8V4013.0M1940.2 4193.4V4105.4M1944.6 4233.0V4189.0M1949.0 4233.0V4206.6M1953.4 4211.0V4140.6M1957.8 4145.0V4052.6M1962.2 4057.0V3973.4M1966.6 3977.8V3942.6M1971.0 3977.8V3942.6M1975.4 4057.0V3973.4M1979.8 4145.0V4052.6M1984.2 4211.0V4140.6M1988.6 4237.4V4206.6M1993.0 4233.0V4193.4M1997.4 4197.8V4114.2M2001.8 4118.6V4026.2M2006.2 4030.6V3955.8M2010.6 3960.2V3938.2M2015.0 3991.0V3942.6M2019.4 4079.0V3986.6M2023.8 4167.0V4074.6M2028.2 4224.2V4162.6M2032.6 4233.0V4219.8M2037.0 4228.6V4171.4M2041.4 4175.8V4083.4M2045.8 4087.8V3995.4M2050.2 3999.8V3947.0M2054.6 3955.8V3942.6M2059.0 4021.8V3951.4M2063.4 4114.2V4017.4M2067.8 4193.4V4109.8M2072.2 4233.0V4189.0M2076.6 4237.4V4211.0M2081.0 4215.4V4136.2M2085.4 4140.6V4057.0M2089.8 4061.4V3977.8M2094.2 3982.2V3938.2M2098.6 3973.4V3938.2M2103.0 4043.8V3969.0M2107.4 4136.2V4039.4M2111.8 4211.0V4131.8M2116.2 4237.4V4206.6M2120.6 4237.4V4197.8M2125.0 4202.2V4114.2M2129.4 4118.6V4021.8M2133.8 4026.2V3960.2M2138.2 3964.6V3942.6M2142.6 3995.4V3947.0M2147.0 4074.6V3991.0M2151.4 4171.4V4070.2M2155.8 4228.6V4167.0M2160.2 4237.4V4224.2M2164.6 4228.6V4167.0M2169.0 4171.4V4079.0M2173.4 4083.4V3991.0M2177.8 3995.4V3942.6M2182.2 3955.8V3942.6" stroke="#000" stroke-width="4.70" stroke-linecap="butt"/>
</g>
<text x="198.1" y="4442.3" text-anchor="middle">0</text>
<text x="416.7" y="4442.3" text-anchor="middle">10</text>
<text x="637.8" y="4442.3" text-anchor="middle">20</text>
<text x="859.0" y="4442.3" text-anchor="middle">30</text>
<text x="1080.1" y="4442.3" text-anchor="middle">40</text>
<text x="1301.2" y="4442.3" text-anchor="middle">50</text>
<text x="1522.3" y="4442.3" text-anchor="middle">60</text>
<text x="1743.5" y="4442.3" text-anchor="middle">70</text>
<text x="1964.6" y="4442.3" text-anchor="middle">80</text>
<text x="2185.7" y="4442.3" text-anchor="middle">90</text>
<text x="181.9" y="4397.5" text-anchor="end">-20</text>
<text x="181.9" y="4253.1" text-anchor="end">-10</text>
<text x="181.9" y="4108.8" text-anchor="end">0</text>
<text x="181.9" y="3964.4" text-anchor="end">10</text>
<text x="181.9" y="3820.1" text-anchor="end">20</text>
<text transform="translate(62.0 4086.7) rotate(-90)" text-anchor="middle">Rate (deg/s)</text>
<rect x="1671.2" y="3817.6" width="497.2" height="95.7" fill="#fff" stroke="#000" stroke-width="4.5"/>
<path d="M1698.3 3865.3H1849.0" stroke="#000" stroke-width="4.6" fill="none"/>
<text transform="translate(1861.3 3891.5) scale(0.9835 1.0000)">Virtual gyro</text>
<text x="1186.2" y="4516.3" text-anchor="middle">Time (s)</text>
<text class="cap" x="1122.6" y="1528.0" text-anchor="middle">(<tspan>a</tspan>)</text>
<text class="cap" x="1121.8" y="3086.6" text-anchor="middle">(<tspan>b</tspan>)</text>
<text class="cap" x="1122.6" y="4648.0" text-anchor="middle">(<tspan>c</tspan>)</text>
</svg></body></html>
